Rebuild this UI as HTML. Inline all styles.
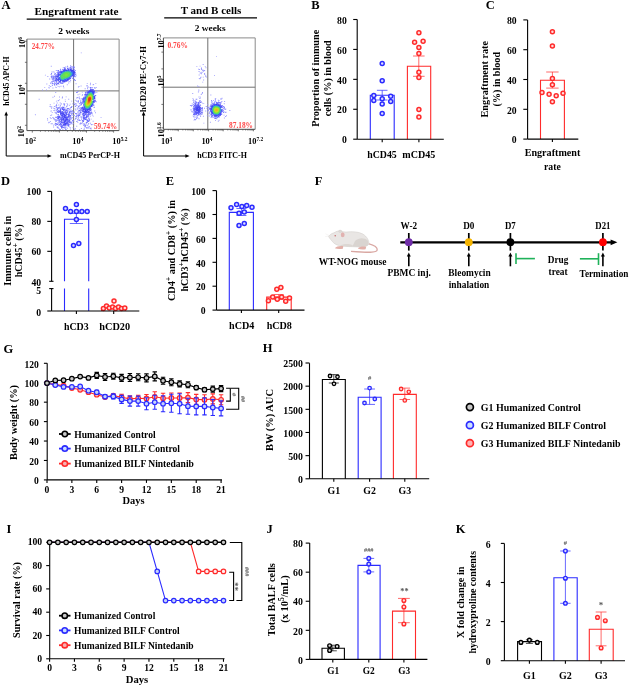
<!DOCTYPE html>
<html><head><meta charset="utf-8"><style>
html,body{margin:0;padding:0;background:#fff;width:629px;height:685px;overflow:hidden}
svg{display:block}
text{font-family:"Liberation Serif",serif;font-weight:bold}
</style></head><body>
<div style="will-change:transform"><svg width="629" height="685" viewBox="0 0 629 685">
<text x="1.5" y="9.4" font-size="12.5">A</text>
<text x="34.5" y="15.4" font-size="10.5" textLength="84" lengthAdjust="spacingAndGlyphs">Engraftment rate</text>
<line x1="26.7" y1="19.2" x2="121.6" y2="19.2" stroke="#000" stroke-width="1.3"/>
<text x="58.3" y="34.2" font-size="9" textLength="31.2" lengthAdjust="spacingAndGlyphs">2 weeks</text>
<path d="M26.9 39.1H119.1V130.6" stroke="#8a8a8a" stroke-width="1" fill="none"/>
<line x1="73.6" y1="39.1" x2="73.6" y2="130.6" stroke="#707070" stroke-width="1"/>
<line x1="26.9" y1="90.9" x2="119.1" y2="90.9" stroke="#707070" stroke-width="1"/>
<path d="M24.9 41.3H26.9M24.9 62.3H26.9M24.9 83.3H26.9M24.9 104.3H26.9M24.9 125.3H26.9M32.3 130.6V132.6M40.46 130.6V131.7M45.23 130.6V131.7M48.62 130.6V131.7M51.24 130.6V131.7M53.39 130.6V131.7M55.2 130.6V131.7M56.77 130.6V131.7M58.16 130.6V131.7M59.4 130.6V132.6M67.56 130.6V131.7M72.33 130.6V131.7M75.72 130.6V131.7M78.34 130.6V131.7M80.49 130.6V131.7M82.3 130.6V131.7M83.87 130.6V131.7M85.26 130.6V131.7M86.5 130.6V132.6M94.66 130.6V131.7M99.43 130.6V131.7M102.82 130.6V131.7M105.44 130.6V131.7M107.59 130.6V131.7M109.4 130.6V131.7M110.97 130.6V131.7M112.36 130.6V131.7M113.6 130.6V132.6" stroke="#555" stroke-width="0.8" fill="none"/>
<path d="M26.9 39.1V130.6H119.1" stroke="#4a4a4a" stroke-width="1" fill="none"/>
<path d="M80.8 52.4h0.9v0.9h-0.9zM34.9 114.3h0.9v0.9h-0.9zM38.7 98.8h0.9v0.9h-0.9zM100.6 116.9h0.9v0.9h-0.9zM50.8 65.8h0.9v0.9h-0.9zM55.3 92.1h0.9v0.9h-0.9zM42.1 89.6h0.9v0.9h-0.9zM44.9 74.7h0.9v0.9h-0.9zM75.6 83.3h0.9v0.9h-0.9zM68.3 98.8h0.9v0.9h-0.9zM65.7 96.4h0.9v0.9h-0.9zM46.4 83.6h0.9v0.9h-0.9zM44.3 87.2h0.9v0.9h-0.9zM46.0 89.6h0.9v0.9h-0.9zM76.3 125.8h0.9v0.9h-0.9zM52.5 96.8h0.9v0.9h-0.9zM54.1 95.8h0.9v0.9h-0.9zM79.2 128.9h0.9v0.9h-0.9zM59.0 96.5h0.9v0.9h-0.9zM54.5 129.1h0.9v0.9h-0.9zM95.4 83.2h0.9v0.9h-0.9zM47.4 76.1h0.9v0.9h-0.9zM92.7 120.8h0.9v0.9h-0.9zM80.6 85.6h0.9v0.9h-0.9zM71.3 100.7h0.9v0.9h-0.9zM95.0 112.3h0.9v0.9h-0.9zM86.8 82.9h0.9v0.9h-0.9zM53.6 102.7h0.9v0.9h-0.9zM80.9 128.1h0.9v0.9h-0.9zM64.8 99.4h0.9v0.9h-0.9zM52.5 87.6h0.9v0.9h-0.9zM66.8 84.3h0.9v0.9h-0.9z" fill="#9494fc"/>
<path d="M72.6 127.3h0.9v0.9h-0.9zM47.1 118.2h0.9v0.9h-0.9zM94.3 110.5h0.9v0.9h-0.9zM90.1 82.8h0.9v0.9h-0.9zM62.1 96.5h0.9v0.9h-0.9zM49.8 104.3h0.9v0.9h-0.9zM81.8 91.7h0.9v0.9h-0.9zM77.9 86.6h0.9v0.9h-0.9zM74.4 129.1h0.9v0.9h-0.9zM61.8 97.6h0.9v0.9h-0.9zM63.4 87.4h0.9v0.9h-0.9zM69.9 128.6h0.9v0.9h-0.9zM74.7 128.1h0.9v0.9h-0.9zM78.7 86.2h0.9v0.9h-0.9zM47.2 119.5h0.9v0.9h-0.9zM84.7 88.3h0.9v0.9h-0.9zM92.8 115.7h0.9v0.9h-0.9zM53.2 126.6h0.9v0.9h-0.9zM83.6 129.1h0.9v0.9h-0.9zM79.4 93.7h0.9v0.9h-0.9zM55.9 100.7h0.9v0.9h-0.9zM48.7 87.7h0.9v0.9h-0.9zM64.9 101.2h0.9v0.9h-0.9zM51.3 114.4h0.9v0.9h-0.9zM92.4 123.9h0.9v0.9h-0.9zM50.4 115.1h0.9v0.9h-0.9zM77.6 94.3h0.9v0.9h-0.9zM97.0 90.1h0.9v0.9h-0.9zM49.8 116.9h0.9v0.9h-0.9zM59.0 99.4h0.9v0.9h-0.9zM93.2 84.2h0.9v0.9h-0.9zM69.7 103.7h0.9v0.9h-0.9zM92.7 84.3h0.9v0.9h-0.9zM49.6 106.0h0.9v0.9h-0.9zM50.5 110.7h0.9v0.9h-0.9zM51.8 112.2h0.9v0.9h-0.9zM76.0 92.1h0.9v0.9h-0.9zM74.8 99.8h0.9v0.9h-0.9zM48.5 86.9h0.9v0.9h-0.9zM89.9 84.3h0.9v0.9h-0.9zM48.8 85.3h0.9v0.9h-0.9zM50.6 118.1h0.9v0.9h-0.9zM49.3 78.6h0.9v0.9h-0.9zM77.8 90.9h0.9v0.9h-0.9zM95.9 86.9h0.9v0.9h-0.9zM50.8 110.6h0.9v0.9h-0.9zM86.0 85.4h0.9v0.9h-0.9zM50.7 123.3h0.9v0.9h-0.9zM59.0 86.4h0.9v0.9h-0.9zM62.9 86.2h0.9v0.9h-0.9zM59.7 102.4h0.9v0.9h-0.9zM90.6 128.5h0.9v0.9h-0.9zM50.3 86.0h0.9v0.9h-0.9zM50.0 121.2h0.9v0.9h-0.9zM51.8 123.3h0.9v0.9h-0.9zM77.4 91.1h0.9v0.9h-0.9zM57.9 100.0h0.9v0.9h-0.9zM60.5 85.8h0.9v0.9h-0.9zM57.7 100.3h0.9v0.9h-0.9zM51.2 108.2h0.9v0.9h-0.9zM91.3 124.4h0.9v0.9h-0.9zM56.7 102.5h0.9v0.9h-0.9zM66.6 103.2h0.9v0.9h-0.9zM76.9 92.1h0.9v0.9h-0.9zM51.5 71.6h0.9v0.9h-0.9zM48.3 122.3h0.9v0.9h-0.9zM55.9 86.9h0.9v0.9h-0.9zM76.3 97.6h0.9v0.9h-0.9zM74.8 108.5h0.9v0.9h-0.9zM50.7 106.5h0.9v0.9h-0.9zM62.9 85.5h0.9v0.9h-0.9zM55.2 86.7h0.9v0.9h-0.9zM51.4 106.5h0.9v0.9h-0.9zM52.8 71.4h0.9v0.9h-0.9zM90.5 127.6h0.9v0.9h-0.9zM86.9 85.3h0.9v0.9h-0.9zM90.8 124.0h0.9v0.9h-0.9zM90.7 118.7h0.9v0.9h-0.9zM75.0 80.0h0.9v0.9h-0.9zM73.1 123.2h0.9v0.9h-0.9zM48.7 122.2h0.9v0.9h-0.9zM48.7 121.8h0.9v0.9h-0.9zM76.9 97.1h0.9v0.9h-0.9zM69.6 127.1h0.9v0.9h-0.9zM60.8 103.3h0.9v0.9h-0.9zM82.0 94.2h0.9v0.9h-0.9zM77.4 122.2h0.9v0.9h-0.9zM68.3 82.5h0.9v0.9h-0.9zM75.5 109.5h0.9v0.9h-0.9zM78.8 96.6h0.9v0.9h-0.9zM72.2 103.4h0.9v0.9h-0.9zM57.7 86.2h0.9v0.9h-0.9zM89.7 128.2h0.9v0.9h-0.9zM53.0 124.7h0.9v0.9h-0.9zM83.8 127.8h0.9v0.9h-0.9zM52.3 117.2h0.9v0.9h-0.9zM64.2 102.9h0.9v0.9h-0.9zM55.8 70.0h0.9v0.9h-0.9zM79.6 123.5h0.9v0.9h-0.9zM60.6 103.8h0.9v0.9h-0.9zM68.9 105.2h0.9v0.9h-0.9z" fill="#8c8cfc"/>
<path d="M67.2 104.3h0.9v0.9h-0.9zM53.8 71.7h0.9v0.9h-0.9zM53.4 110.2h0.9v0.9h-0.9zM53.9 106.0h0.9v0.9h-0.9zM73.8 80.2h0.9v0.9h-0.9zM53.2 107.7h0.9v0.9h-0.9zM89.8 122.8h0.9v0.9h-0.9zM71.5 106.0h0.9v0.9h-0.9zM51.0 73.0h0.9v0.9h-0.9zM59.0 128.8h0.9v0.9h-0.9zM76.2 100.5h0.9v0.9h-0.9zM96.4 91.9h0.9v0.9h-0.9zM56.1 103.9h0.9v0.9h-0.9zM77.7 97.4h0.9v0.9h-0.9zM81.8 95.2h0.9v0.9h-0.9zM59.9 129.0h0.9v0.9h-0.9zM93.9 106.8h0.9v0.9h-0.9zM79.8 123.3h0.9v0.9h-0.9zM95.1 87.7h0.9v0.9h-0.9zM51.9 85.0h0.9v0.9h-0.9zM58.4 104.6h0.9v0.9h-0.9zM63.1 103.6h0.9v0.9h-0.9zM69.7 81.4h0.9v0.9h-0.9zM50.2 82.9h0.9v0.9h-0.9zM65.9 128.9h0.9v0.9h-0.9zM79.0 97.7h0.9v0.9h-0.9zM76.7 121.2h0.9v0.9h-0.9zM76.3 121.0h0.9v0.9h-0.9zM67.0 65.8h0.9v0.9h-0.9zM89.1 126.3h0.9v0.9h-0.9zM50.6 74.0h0.9v0.9h-0.9zM51.2 73.3h0.9v0.9h-0.9zM66.8 128.2h0.9v0.9h-0.9zM76.8 100.8h0.9v0.9h-0.9zM87.3 86.8h0.9v0.9h-0.9zM52.9 117.6h0.9v0.9h-0.9zM87.7 86.5h0.9v0.9h-0.9zM74.7 119.2h0.9v0.9h-0.9zM93.6 107.1h0.9v0.9h-0.9zM73.6 102.4h0.9v0.9h-0.9zM58.3 128.2h0.9v0.9h-0.9zM91.8 114.6h0.9v0.9h-0.9zM73.3 120.8h0.9v0.9h-0.9zM54.0 108.3h0.9v0.9h-0.9zM70.9 106.5h0.9v0.9h-0.9zM94.4 87.2h0.9v0.9h-0.9zM65.1 129.0h0.9v0.9h-0.9zM71.1 107.0h0.9v0.9h-0.9zM77.7 102.3h0.9v0.9h-0.9zM64.1 104.0h0.9v0.9h-0.9zM73.7 102.6h0.9v0.9h-0.9zM57.2 127.3h0.9v0.9h-0.9zM66.7 105.4h0.9v0.9h-0.9zM78.1 100.2h0.9v0.9h-0.9zM62.4 128.9h0.9v0.9h-0.9zM79.5 98.5h0.9v0.9h-0.9zM88.3 127.5h0.9v0.9h-0.9zM74.0 111.7h0.9v0.9h-0.9zM70.2 65.3h0.9v0.9h-0.9zM75.6 102.9h0.9v0.9h-0.9zM80.2 122.6h0.9v0.9h-0.9zM75.2 106.1h0.9v0.9h-0.9zM56.3 104.9h0.9v0.9h-0.9zM77.0 108.7h0.9v0.9h-0.9zM76.8 107.5h0.9v0.9h-0.9zM50.5 82.2h0.9v0.9h-0.9zM60.1 105.3h0.9v0.9h-0.9zM87.1 88.2h0.9v0.9h-0.9zM64.2 104.5h0.9v0.9h-0.9zM78.1 101.1h0.9v0.9h-0.9zM56.6 126.5h0.9v0.9h-0.9zM71.7 123.6h0.9v0.9h-0.9zM81.7 123.4h0.9v0.9h-0.9zM74.2 79.0h0.9v0.9h-0.9zM66.3 105.8h0.9v0.9h-0.9zM75.0 113.1h0.9v0.9h-0.9zM55.4 105.6h0.9v0.9h-0.9zM53.6 118.1h0.9v0.9h-0.9zM54.5 110.3h0.9v0.9h-0.9zM75.0 117.7h0.9v0.9h-0.9zM54.7 112.1h0.9v0.9h-0.9zM74.7 105.5h0.9v0.9h-0.9zM80.9 122.8h0.9v0.9h-0.9zM87.7 124.2h0.9v0.9h-0.9zM75.3 118.2h0.9v0.9h-0.9zM74.7 105.5h0.9v0.9h-0.9zM76.6 105.2h0.9v0.9h-0.9zM56.0 105.3h0.9v0.9h-0.9zM73.8 115.2h0.9v0.9h-0.9zM72.7 120.0h0.9v0.9h-0.9zM79.7 120.1h0.9v0.9h-0.9zM73.9 79.1h0.9v0.9h-0.9zM86.6 127.6h0.9v0.9h-0.9zM53.7 118.9h0.9v0.9h-0.9zM94.0 87.6h0.9v0.9h-0.9zM73.8 104.0h0.9v0.9h-0.9zM79.0 120.0h0.9v0.9h-0.9zM69.9 107.2h0.9v0.9h-0.9zM87.3 127.4h0.9v0.9h-0.9zM75.9 104.5h0.9v0.9h-0.9zM87.8 126.4h0.9v0.9h-0.9zM57.7 126.9h0.9v0.9h-0.9zM74.0 66.7h0.9v0.9h-0.9zM87.3 124.9h0.9v0.9h-0.9zM95.7 101.3h0.9v0.9h-0.9zM73.3 115.0h0.9v0.9h-0.9zM73.5 79.0h0.9v0.9h-0.9zM74.8 103.5h0.9v0.9h-0.9zM86.0 127.4h0.9v0.9h-0.9z" fill="#8484fc"/>
<path d="M73.4 111.6h0.9v0.9h-0.9zM57.4 126.6h0.9v0.9h-0.9zM83.4 125.0h0.9v0.9h-0.9zM77.2 111.7h0.9v0.9h-0.9zM66.2 106.4h0.9v0.9h-0.9zM74.2 104.2h0.9v0.9h-0.9zM72.2 117.2h0.9v0.9h-0.9zM77.9 105.7h0.9v0.9h-0.9zM86.3 127.3h0.9v0.9h-0.9zM77.6 119.9h0.9v0.9h-0.9zM83.1 123.5h0.9v0.9h-0.9zM54.9 116.7h0.9v0.9h-0.9zM77.8 119.9h0.9v0.9h-0.9zM91.9 112.7h0.9v0.9h-0.9zM70.2 80.2h0.9v0.9h-0.9zM78.1 106.1h0.9v0.9h-0.9zM76.4 113.0h0.9v0.9h-0.9zM62.7 67.4h0.9v0.9h-0.9zM89.9 115.7h0.9v0.9h-0.9zM88.1 122.9h0.9v0.9h-0.9zM65.4 66.6h0.9v0.9h-0.9zM75.8 113.5h0.9v0.9h-0.9zM60.2 68.8h0.9v0.9h-0.9zM63.8 105.4h0.9v0.9h-0.9zM78.7 118.9h0.9v0.9h-0.9zM84.8 126.6h0.9v0.9h-0.9zM69.9 107.7h0.9v0.9h-0.9zM72.1 120.0h0.9v0.9h-0.9zM55.7 106.6h0.9v0.9h-0.9zM54.3 84.8h0.9v0.9h-0.9zM77.3 119.0h0.9v0.9h-0.9zM55.5 112.8h0.9v0.9h-0.9zM84.1 125.6h0.9v0.9h-0.9zM73.6 66.7h0.9v0.9h-0.9zM72.1 121.4h0.9v0.9h-0.9zM75.6 75.3h0.9v0.9h-0.9zM55.6 112.8h0.9v0.9h-0.9zM89.7 86.9h0.9v0.9h-0.9zM54.5 119.5h0.9v0.9h-0.9zM67.3 66.5h0.9v0.9h-0.9zM64.7 128.1h0.9v0.9h-0.9zM76.2 117.6h0.9v0.9h-0.9zM75.4 116.1h0.9v0.9h-0.9zM54.4 73.3h0.9v0.9h-0.9zM56.0 113.4h0.9v0.9h-0.9zM51.7 83.3h0.9v0.9h-0.9zM77.9 110.6h0.9v0.9h-0.9zM84.1 123.4h0.9v0.9h-0.9zM79.1 105.5h0.9v0.9h-0.9zM72.1 110.2h0.9v0.9h-0.9zM51.3 81.3h0.9v0.9h-0.9zM50.7 76.3h0.9v0.9h-0.9zM89.8 87.0h0.9v0.9h-0.9zM79.3 103.0h0.9v0.9h-0.9zM78.4 107.3h0.9v0.9h-0.9zM82.2 121.8h0.9v0.9h-0.9zM78.1 117.7h0.9v0.9h-0.9zM89.2 120.3h0.9v0.9h-0.9zM72.1 110.5h0.9v0.9h-0.9zM59.5 106.4h0.9v0.9h-0.9zM90.7 87.0h0.9v0.9h-0.9zM80.0 100.4h0.9v0.9h-0.9zM79.7 116.7h0.9v0.9h-0.9zM84.3 124.2h0.9v0.9h-0.9zM55.4 125.0h0.9v0.9h-0.9zM71.5 118.4h0.9v0.9h-0.9zM77.8 117.6h0.9v0.9h-0.9zM84.9 125.6h0.9v0.9h-0.9zM72.7 66.3h0.9v0.9h-0.9zM63.8 67.1h0.9v0.9h-0.9zM57.6 70.0h0.9v0.9h-0.9zM54.8 119.1h0.9v0.9h-0.9zM54.6 124.0h0.9v0.9h-0.9zM51.2 75.5h0.9v0.9h-0.9zM54.7 124.3h0.9v0.9h-0.9zM79.7 104.5h0.9v0.9h-0.9zM72.7 112.0h0.9v0.9h-0.9zM68.0 108.0h0.9v0.9h-0.9zM81.3 119.3h0.9v0.9h-0.9zM67.9 126.2h0.9v0.9h-0.9zM71.0 123.2h0.9v0.9h-0.9zM55.6 108.6h0.9v0.9h-0.9zM74.9 76.3h0.9v0.9h-0.9zM79.8 104.8h0.9v0.9h-0.9zM85.6 124.5h0.9v0.9h-0.9zM89.1 119.3h0.9v0.9h-0.9zM92.2 87.3h0.9v0.9h-0.9zM85.1 125.3h0.9v0.9h-0.9zM56.1 107.2h0.9v0.9h-0.9zM85.8 122.9h0.9v0.9h-0.9zM61.2 127.9h0.9v0.9h-0.9zM80.1 100.6h0.9v0.9h-0.9zM85.7 122.7h0.9v0.9h-0.9zM85.3 124.8h0.9v0.9h-0.9zM54.2 84.1h0.9v0.9h-0.9zM56.4 84.5h0.9v0.9h-0.9zM64.5 127.8h0.9v0.9h-0.9zM76.0 115.9h0.9v0.9h-0.9zM52.5 83.3h0.9v0.9h-0.9zM51.9 82.6h0.9v0.9h-0.9zM67.5 108.1h0.9v0.9h-0.9zM68.8 108.5h0.9v0.9h-0.9zM54.8 122.8h0.9v0.9h-0.9zM66.9 108.0h0.9v0.9h-0.9z" fill="#7c7cfc"/>
<path d="M55.3 120.2h0.9v0.9h-0.9zM55.4 120.6h0.9v0.9h-0.9zM68.7 125.6h0.9v0.9h-0.9zM53.9 83.9h0.9v0.9h-0.9zM55.5 121.0h0.9v0.9h-0.9zM68.6 80.9h0.9v0.9h-0.9zM88.7 117.7h0.9v0.9h-0.9zM78.5 109.7h0.9v0.9h-0.9zM51.4 78.4h0.9v0.9h-0.9zM70.5 109.4h0.9v0.9h-0.9zM51.0 76.8h0.9v0.9h-0.9zM51.1 76.3h0.9v0.9h-0.9zM76.2 115.6h0.9v0.9h-0.9zM78.8 107.9h0.9v0.9h-0.9zM83.1 121.1h0.9v0.9h-0.9zM55.6 117.0h0.9v0.9h-0.9zM82.2 120.8h0.9v0.9h-0.9zM70.8 66.2h0.9v0.9h-0.9zM66.4 126.7h0.9v0.9h-0.9zM88.8 118.8h0.9v0.9h-0.9zM72.4 66.5h0.9v0.9h-0.9zM55.0 73.3h0.9v0.9h-0.9zM80.7 116.2h0.9v0.9h-0.9zM95.3 91.7h0.9v0.9h-0.9zM78.5 111.9h0.9v0.9h-0.9zM85.9 122.1h0.9v0.9h-0.9zM81.2 117.6h0.9v0.9h-0.9zM91.2 112.9h0.9v0.9h-0.9zM71.2 122.2h0.9v0.9h-0.9zM52.5 82.9h0.9v0.9h-0.9zM76.6 114.6h0.9v0.9h-0.9zM78.7 110.5h0.9v0.9h-0.9zM58.5 83.7h0.9v0.9h-0.9zM73.3 67.1h0.9v0.9h-0.9zM95.2 100.9h0.9v0.9h-0.9zM55.1 123.2h0.9v0.9h-0.9zM83.0 120.8h0.9v0.9h-0.9zM56.1 84.1h0.9v0.9h-0.9zM55.1 123.1h0.9v0.9h-0.9zM62.5 106.4h0.9v0.9h-0.9zM57.5 70.5h0.9v0.9h-0.9zM77.5 116.4h0.9v0.9h-0.9zM76.6 115.1h0.9v0.9h-0.9zM58.1 70.1h0.9v0.9h-0.9zM80.2 101.8h0.9v0.9h-0.9zM70.5 109.8h0.9v0.9h-0.9zM82.0 119.9h0.9v0.9h-0.9zM71.8 114.7h0.9v0.9h-0.9zM80.2 102.3h0.9v0.9h-0.9zM58.0 70.2h0.9v0.9h-0.9zM73.2 77.7h0.9v0.9h-0.9zM81.3 117.2h0.9v0.9h-0.9zM71.2 121.7h0.9v0.9h-0.9zM82.6 120.5h0.9v0.9h-0.9zM68.7 109.2h0.9v0.9h-0.9zM52.3 81.2h0.9v0.9h-0.9zM78.2 113.6h0.9v0.9h-0.9zM59.5 107.2h0.9v0.9h-0.9zM64.6 107.4h0.9v0.9h-0.9zM70.6 66.4h0.9v0.9h-0.9zM79.3 115.1h0.9v0.9h-0.9zM71.7 111.3h0.9v0.9h-0.9zM58.2 124.7h0.9v0.9h-0.9zM71.7 114.6h0.9v0.9h-0.9zM78.9 113.2h0.9v0.9h-0.9zM91.2 112.1h0.9v0.9h-0.9zM52.4 80.5h0.9v0.9h-0.9zM69.5 124.2h0.9v0.9h-0.9zM52.1 78.9h0.9v0.9h-0.9zM57.4 107.3h0.9v0.9h-0.9zM57.5 114.0h0.9v0.9h-0.9zM88.2 117.4h0.9v0.9h-0.9zM81.6 98.0h0.9v0.9h-0.9zM70.8 118.4h0.9v0.9h-0.9zM57.8 107.3h0.9v0.9h-0.9zM79.1 115.0h0.9v0.9h-0.9zM78.0 115.8h0.9v0.9h-0.9zM56.3 120.4h0.9v0.9h-0.9zM52.5 80.4h0.9v0.9h-0.9zM71.8 113.1h0.9v0.9h-0.9zM52.6 81.0h0.9v0.9h-0.9zM79.6 113.8h0.9v0.9h-0.9zM85.9 90.7h0.9v0.9h-0.9zM79.3 114.3h0.9v0.9h-0.9zM86.8 121.8h0.9v0.9h-0.9zM54.2 74.3h0.9v0.9h-0.9zM78.8 115.2h0.9v0.9h-0.9zM64.6 127.1h0.9v0.9h-0.9zM57.3 124.1h0.9v0.9h-0.9zM61.3 83.1h0.9v0.9h-0.9zM80.6 103.5h0.9v0.9h-0.9zM89.9 87.7h0.9v0.9h-0.9zM57.3 122.5h0.9v0.9h-0.9zM56.4 124.0h0.9v0.9h-0.9zM88.0 121.2h0.9v0.9h-0.9zM79.1 110.0h0.9v0.9h-0.9zM61.3 107.0h0.9v0.9h-0.9zM84.1 93.9h0.9v0.9h-0.9zM77.7 114.8h0.9v0.9h-0.9zM75.5 73.7h0.9v0.9h-0.9zM59.9 69.6h0.9v0.9h-0.9zM82.8 120.1h0.9v0.9h-0.9zM54.6 83.2h0.9v0.9h-0.9zM77.9 114.8h0.9v0.9h-0.9zM88.3 120.5h0.9v0.9h-0.9zM56.4 123.9h0.9v0.9h-0.9zM52.5 75.6h0.9v0.9h-0.9zM75.1 70.2h0.9v0.9h-0.9zM56.0 123.3h0.9v0.9h-0.9zM62.2 106.8h0.9v0.9h-0.9zM51.7 76.6h0.9v0.9h-0.9zM56.2 109.9h0.9v0.9h-0.9zM58.8 107.5h0.9v0.9h-0.9zM66.4 108.8h0.9v0.9h-0.9zM85.2 91.7h0.9v0.9h-0.9zM93.6 104.7h0.9v0.9h-0.9zM71.4 114.7h0.9v0.9h-0.9z" fill="#7474fc"/>
<path d="M56.4 123.4h0.9v0.9h-0.9zM56.4 123.5h0.9v0.9h-0.9zM56.5 112.0h0.9v0.9h-0.9zM64.4 67.6h0.9v0.9h-0.9zM80.9 104.2h0.9v0.9h-0.9zM86.7 121.5h0.9v0.9h-0.9zM54.0 82.5h0.9v0.9h-0.9zM70.5 66.7h0.9v0.9h-0.9zM63.4 107.0h0.9v0.9h-0.9zM56.7 72.1h0.9v0.9h-0.9zM55.8 83.5h0.9v0.9h-0.9zM62.4 127.3h0.9v0.9h-0.9zM57.4 107.8h0.9v0.9h-0.9zM54.3 82.6h0.9v0.9h-0.9zM58.1 122.5h0.9v0.9h-0.9zM61.0 127.1h0.9v0.9h-0.9zM84.9 92.3h0.9v0.9h-0.9zM88.0 118.4h0.9v0.9h-0.9zM58.4 107.6h0.9v0.9h-0.9zM59.0 124.7h0.9v0.9h-0.9zM80.1 112.5h0.9v0.9h-0.9zM56.6 119.9h0.9v0.9h-0.9zM53.0 79.6h0.9v0.9h-0.9zM72.0 77.9h0.9v0.9h-0.9zM61.9 82.9h0.9v0.9h-0.9zM81.1 104.3h0.9v0.9h-0.9zM80.0 112.1h0.9v0.9h-0.9zM53.6 81.1h0.9v0.9h-0.9zM73.3 67.8h0.9v0.9h-0.9zM56.9 83.4h0.9v0.9h-0.9zM56.7 116.2h0.9v0.9h-0.9zM62.1 82.9h0.9v0.9h-0.9zM58.0 114.2h0.9v0.9h-0.9zM67.2 109.5h0.9v0.9h-0.9zM52.8 75.7h0.9v0.9h-0.9zM70.7 111.0h0.9v0.9h-0.9zM63.4 127.1h0.9v0.9h-0.9zM57.5 83.3h0.9v0.9h-0.9zM56.7 109.2h0.9v0.9h-0.9zM56.3 116.9h0.9v0.9h-0.9zM62.3 82.8h0.9v0.9h-0.9zM69.3 123.9h0.9v0.9h-0.9zM68.5 110.2h0.9v0.9h-0.9zM87.4 121.1h0.9v0.9h-0.9zM79.8 111.2h0.9v0.9h-0.9zM73.1 77.2h0.9v0.9h-0.9zM71.2 113.2h0.9v0.9h-0.9zM57.1 108.5h0.9v0.9h-0.9zM71.2 113.3h0.9v0.9h-0.9zM56.4 119.2h0.9v0.9h-0.9zM62.8 107.1h0.9v0.9h-0.9zM57.2 108.4h0.9v0.9h-0.9zM70.9 111.5h0.9v0.9h-0.9zM52.4 78.0h0.9v0.9h-0.9zM70.3 110.8h0.9v0.9h-0.9zM87.8 120.5h0.9v0.9h-0.9zM80.9 102.8h0.9v0.9h-0.9zM70.1 110.7h0.9v0.9h-0.9zM95.1 99.8h0.9v0.9h-0.9zM95.3 95.1h0.9v0.9h-0.9zM68.1 125.1h0.9v0.9h-0.9zM80.4 112.1h0.9v0.9h-0.9zM58.0 114.7h0.9v0.9h-0.9zM87.6 120.8h0.9v0.9h-0.9zM71.1 113.7h0.9v0.9h-0.9zM55.5 82.7h0.9v0.9h-0.9zM56.7 111.5h0.9v0.9h-0.9zM87.5 89.7h0.9v0.9h-0.9zM60.0 125.6h0.9v0.9h-0.9zM59.1 124.0h0.9v0.9h-0.9zM58.1 83.0h0.9v0.9h-0.9zM83.5 119.6h0.9v0.9h-0.9zM70.5 117.1h0.9v0.9h-0.9zM90.4 113.2h0.9v0.9h-0.9zM90.7 111.7h0.9v0.9h-0.9zM65.2 126.4h0.9v0.9h-0.9zM57.1 83.0h0.9v0.9h-0.9zM95.2 95.3h0.9v0.9h-0.9zM70.3 117.6h0.9v0.9h-0.9zM61.2 126.6h0.9v0.9h-0.9zM53.0 78.3h0.9v0.9h-0.9zM57.4 115.8h0.9v0.9h-0.9zM62.2 126.8h0.9v0.9h-0.9zM56.8 110.7h0.9v0.9h-0.9zM90.0 113.5h0.9v0.9h-0.9zM69.7 122.9h0.9v0.9h-0.9zM87.5 120.1h0.9v0.9h-0.9zM60.2 82.6h0.9v0.9h-0.9zM61.1 126.5h0.9v0.9h-0.9zM68.7 111.0h0.9v0.9h-0.9zM56.8 116.8h0.9v0.9h-0.9zM62.3 107.5h0.9v0.9h-0.9zM87.7 116.1h0.9v0.9h-0.9zM88.3 115.3h0.9v0.9h-0.9zM70.3 120.8h0.9v0.9h-0.9zM52.7 77.5h0.9v0.9h-0.9zM52.6 77.1h0.9v0.9h-0.9zM52.8 76.5h0.9v0.9h-0.9z" fill="#6c6cfc"/>
<path d="M66.6 110.1h0.9v0.9h-0.9zM57.3 109.2h0.9v0.9h-0.9zM59.9 108.3h0.9v0.9h-0.9zM58.6 121.0h0.9v0.9h-0.9zM67.7 125.2h0.9v0.9h-0.9zM87.0 120.1h0.9v0.9h-0.9zM70.4 116.4h0.9v0.9h-0.9zM57.7 119.9h0.9v0.9h-0.9zM60.7 126.0h0.9v0.9h-0.9zM80.1 110.3h0.9v0.9h-0.9zM64.8 108.7h0.9v0.9h-0.9zM63.0 107.6h0.9v0.9h-0.9zM57.0 110.9h0.9v0.9h-0.9zM79.9 108.9h0.9v0.9h-0.9zM69.7 111.6h0.9v0.9h-0.9zM69.0 111.4h0.9v0.9h-0.9zM64.3 68.0h0.9v0.9h-0.9zM81.3 101.8h0.9v0.9h-0.9zM54.2 79.8h0.9v0.9h-0.9zM90.6 110.6h0.9v0.9h-0.9zM57.9 82.6h0.9v0.9h-0.9zM60.9 108.2h0.9v0.9h-0.9zM89.4 114.0h0.9v0.9h-0.9zM61.7 126.5h0.9v0.9h-0.9zM62.7 82.4h0.9v0.9h-0.9zM58.2 82.6h0.9v0.9h-0.9zM59.6 123.2h0.9v0.9h-0.9zM81.7 99.6h0.9v0.9h-0.9zM69.8 122.2h0.9v0.9h-0.9zM59.3 121.9h0.9v0.9h-0.9zM86.2 119.7h0.9v0.9h-0.9zM63.5 126.5h0.9v0.9h-0.9zM59.4 122.2h0.9v0.9h-0.9zM86.1 119.6h0.9v0.9h-0.9zM69.9 122.0h0.9v0.9h-0.9zM65.6 109.6h0.9v0.9h-0.9zM67.1 110.9h0.9v0.9h-0.9zM72.4 67.7h0.9v0.9h-0.9zM80.5 107.3h0.9v0.9h-0.9zM57.6 71.8h0.9v0.9h-0.9zM80.9 111.7h0.9v0.9h-0.9zM57.5 111.7h0.9v0.9h-0.9zM66.4 110.4h0.9v0.9h-0.9zM85.4 92.3h0.9v0.9h-0.9zM69.5 67.4h0.9v0.9h-0.9zM70.4 67.3h0.9v0.9h-0.9zM83.1 118.5h0.9v0.9h-0.9zM86.7 118.9h0.9v0.9h-0.9zM56.9 117.7h0.9v0.9h-0.9zM86.2 119.3h0.9v0.9h-0.9zM54.9 74.7h0.9v0.9h-0.9zM90.2 112.5h0.9v0.9h-0.9zM57.0 118.3h0.9v0.9h-0.9zM60.1 124.4h0.9v0.9h-0.9zM86.2 119.3h0.9v0.9h-0.9zM66.2 81.1h0.9v0.9h-0.9zM62.4 69.0h0.9v0.9h-0.9zM62.1 108.0h0.9v0.9h-0.9zM75.0 73.9h0.9v0.9h-0.9zM85.4 92.4h0.9v0.9h-0.9zM72.7 76.9h0.9v0.9h-0.9zM81.8 113.6h0.9v0.9h-0.9zM74.0 75.8h0.9v0.9h-0.9zM60.0 82.3h0.9v0.9h-0.9zM58.1 119.7h0.9v0.9h-0.9zM69.7 118.9h0.9v0.9h-0.9zM69.3 112.3h0.9v0.9h-0.9zM63.9 108.5h0.9v0.9h-0.9zM53.8 78.3h0.9v0.9h-0.9zM56.1 81.6h0.9v0.9h-0.9zM56.4 81.9h0.9v0.9h-0.9zM85.1 119.1h0.9v0.9h-0.9zM68.9 112.1h0.9v0.9h-0.9zM90.2 88.4h0.9v0.9h-0.9zM69.6 112.8h0.9v0.9h-0.9zM61.4 125.9h0.9v0.9h-0.9zM60.3 124.0h0.9v0.9h-0.9zM80.5 107.7h0.9v0.9h-0.9zM57.6 111.4h0.9v0.9h-0.9zM57.9 116.1h0.9v0.9h-0.9zM90.8 108.9h0.9v0.9h-0.9zM53.5 77.1h0.9v0.9h-0.9zM55.8 81.2h0.9v0.9h-0.9zM60.7 82.3h0.9v0.9h-0.9zM80.7 107.4h0.9v0.9h-0.9zM92.8 105.2h0.9v0.9h-0.9zM84.7 118.9h0.9v0.9h-0.9zM64.2 109.0h0.9v0.9h-0.9zM65.7 110.4h0.9v0.9h-0.9zM58.4 71.3h0.9v0.9h-0.9zM60.3 123.1h0.9v0.9h-0.9zM82.8 117.5h0.9v0.9h-0.9zM60.6 124.3h0.9v0.9h-0.9zM58.1 112.0h0.9v0.9h-0.9z" fill="#6464fc"/>
<path d="M64.4 81.7h0.9v0.9h-0.9zM87.2 115.7h0.9v0.9h-0.9zM60.5 123.8h0.9v0.9h-0.9zM53.8 76.4h0.9v0.9h-0.9zM55.6 80.9h0.9v0.9h-0.9zM57.7 110.3h0.9v0.9h-0.9zM83.6 118.5h0.9v0.9h-0.9zM94.1 90.6h0.9v0.9h-0.9zM86.7 116.6h0.9v0.9h-0.9zM82.6 116.4h0.9v0.9h-0.9zM57.9 71.9h0.9v0.9h-0.9zM84.1 118.7h0.9v0.9h-0.9zM88.2 114.5h0.9v0.9h-0.9zM60.9 124.9h0.9v0.9h-0.9zM59.8 109.1h0.9v0.9h-0.9zM70.1 115.3h0.9v0.9h-0.9zM55.0 80.1h0.9v0.9h-0.9zM84.8 94.1h0.9v0.9h-0.9zM59.3 120.6h0.9v0.9h-0.9zM67.1 68.0h0.9v0.9h-0.9zM69.4 118.6h0.9v0.9h-0.9zM68.6 67.8h0.9v0.9h-0.9zM68.7 112.6h0.9v0.9h-0.9zM67.1 111.8h0.9v0.9h-0.9zM80.8 107.6h0.9v0.9h-0.9zM57.7 116.8h0.9v0.9h-0.9zM83.1 117.6h0.9v0.9h-0.9zM58.3 116.2h0.9v0.9h-0.9zM62.0 108.7h0.9v0.9h-0.9zM59.8 121.1h0.9v0.9h-0.9zM60.0 109.2h0.9v0.9h-0.9zM94.5 100.5h0.9v0.9h-0.9zM86.3 117.2h0.9v0.9h-0.9zM86.5 116.6h0.9v0.9h-0.9zM69.3 117.8h0.9v0.9h-0.9zM69.9 67.7h0.9v0.9h-0.9zM82.4 114.3h0.9v0.9h-0.9zM68.0 124.1h0.9v0.9h-0.9zM67.3 124.7h0.9v0.9h-0.9zM62.7 108.8h0.9v0.9h-0.9zM90.4 109.7h0.9v0.9h-0.9zM59.0 81.9h0.9v0.9h-0.9zM64.9 110.3h0.9v0.9h-0.9zM60.7 122.5h0.9v0.9h-0.9zM92.8 89.1h0.9v0.9h-0.9zM58.6 109.9h0.9v0.9h-0.9zM80.6 108.4h0.9v0.9h-0.9zM59.3 120.2h0.9v0.9h-0.9zM73.5 69.1h0.9v0.9h-0.9zM69.2 122.0h0.9v0.9h-0.9zM58.1 110.9h0.9v0.9h-0.9zM63.3 109.1h0.9v0.9h-0.9zM67.5 124.5h0.9v0.9h-0.9zM82.7 115.4h0.9v0.9h-0.9zM85.6 118.1h0.9v0.9h-0.9zM58.1 118.6h0.9v0.9h-0.9zM62.1 125.5h0.9v0.9h-0.9zM86.4 116.2h0.9v0.9h-0.9zM60.6 121.8h0.9v0.9h-0.9zM59.0 115.9h0.9v0.9h-0.9zM69.8 114.9h0.9v0.9h-0.9zM64.9 68.4h0.9v0.9h-0.9zM62.1 109.2h0.9v0.9h-0.9zM92.5 88.9h0.9v0.9h-0.9zM63.4 109.3h0.9v0.9h-0.9zM74.9 72.4h0.9v0.9h-0.9zM65.4 111.1h0.9v0.9h-0.9zM59.1 119.7h0.9v0.9h-0.9zM61.3 124.4h0.9v0.9h-0.9zM83.0 116.6h0.9v0.9h-0.9zM94.1 101.6h0.9v0.9h-0.9zM61.4 109.4h0.9v0.9h-0.9zM60.2 109.5h0.9v0.9h-0.9zM58.0 117.3h0.9v0.9h-0.9zM54.5 75.9h0.9v0.9h-0.9zM58.1 118.3h0.9v0.9h-0.9zM58.3 118.6h0.9v0.9h-0.9zM80.8 109.4h0.9v0.9h-0.9zM89.6 112.3h0.9v0.9h-0.9zM67.2 68.1h0.9v0.9h-0.9zM58.0 117.9h0.9v0.9h-0.9zM64.4 110.4h0.9v0.9h-0.9zM68.4 113.2h0.9v0.9h-0.9zM69.6 115.7h0.9v0.9h-0.9zM73.9 69.7h0.9v0.9h-0.9zM69.4 116.6h0.9v0.9h-0.9zM88.8 113.6h0.9v0.9h-0.9zM83.6 96.7h0.9v0.9h-0.9zM63.1 109.5h0.9v0.9h-0.9zM58.6 116.6h0.9v0.9h-0.9zM85.9 116.7h0.9v0.9h-0.9zM94.0 91.0h0.9v0.9h-0.9zM69.2 113.9h0.9v0.9h-0.9zM88.0 114.2h0.9v0.9h-0.9zM66.2 111.9h0.9v0.9h-0.9zM69.2 120.0h0.9v0.9h-0.9zM94.2 91.8h0.9v0.9h-0.9zM58.1 117.7h0.9v0.9h-0.9zM64.5 110.6h0.9v0.9h-0.9zM56.0 74.6h0.9v0.9h-0.9zM59.5 115.5h0.9v0.9h-0.9zM82.3 99.3h0.9v0.9h-0.9zM89.4 112.7h0.9v0.9h-0.9zM82.5 113.7h0.9v0.9h-0.9zM69.2 121.2h0.9v0.9h-0.9zM86.0 115.9h0.9v0.9h-0.9zM82.6 98.5h0.9v0.9h-0.9zM84.1 117.8h0.9v0.9h-0.9zM69.0 118.9h0.9v0.9h-0.9zM87.3 90.7h0.9v0.9h-0.9zM63.3 110.0h0.9v0.9h-0.9zM63.4 81.7h0.9v0.9h-0.9zM85.4 93.5h0.9v0.9h-0.9zM82.8 98.2h0.9v0.9h-0.9zM88.4 113.8h0.9v0.9h-0.9zM83.0 115.1h0.9v0.9h-0.9zM65.0 81.2h0.9v0.9h-0.9zM84.6 95.1h0.9v0.9h-0.9zM94.3 92.8h0.9v0.9h-0.9zM85.2 94.0h0.9v0.9h-0.9zM83.3 116.6h0.9v0.9h-0.9zM82.7 114.1h0.9v0.9h-0.9zM86.2 115.3h0.9v0.9h-0.9zM58.6 81.5h0.9v0.9h-0.9zM69.4 115.2h0.9v0.9h-0.9zM64.1 110.7h0.9v0.9h-0.9zM90.1 110.0h0.9v0.9h-0.9zM63.1 110.1h0.9v0.9h-0.9zM82.9 114.6h0.9v0.9h-0.9zM84.6 117.7h0.9v0.9h-0.9zM84.9 117.7h0.9v0.9h-0.9zM83.1 97.6h0.9v0.9h-0.9zM85.3 117.2h0.9v0.9h-0.9zM87.4 114.3h0.9v0.9h-0.9zM66.1 112.2h0.9v0.9h-0.9zM62.5 125.1h0.9v0.9h-0.9zM60.1 110.0h0.9v0.9h-0.9zM86.5 114.8h0.9v0.9h-0.9zM57.0 73.8h0.9v0.9h-0.9zM58.8 110.9h0.9v0.9h-0.9zM68.3 113.7h0.9v0.9h-0.9zM94.7 95.3h0.9v0.9h-0.9zM66.9 80.4h0.9v0.9h-0.9zM74.7 72.2h0.9v0.9h-0.9zM61.4 122.1h0.9v0.9h-0.9zM81.4 107.6h0.9v0.9h-0.9zM55.6 79.8h0.9v0.9h-0.9zM81.1 109.5h0.9v0.9h-0.9zM59.1 117.0h0.9v0.9h-0.9zM59.0 71.5h0.9v0.9h-0.9zM69.0 120.4h0.9v0.9h-0.9zM86.4 91.9h0.9v0.9h-0.9zM92.2 105.6h0.9v0.9h-0.9zM94.6 95.0h0.9v0.9h-0.9zM64.1 125.4h0.9v0.9h-0.9zM83.7 116.7h0.9v0.9h-0.9zM59.3 116.8h0.9v0.9h-0.9zM69.0 120.4h0.9v0.9h-0.9zM84.5 117.3h0.9v0.9h-0.9zM55.1 78.8h0.9v0.9h-0.9zM94.3 99.9h0.9v0.9h-0.9zM85.6 93.3h0.9v0.9h-0.9zM86.6 91.7h0.9v0.9h-0.9zM86.4 114.5h0.9v0.9h-0.9zM87.2 114.2h0.9v0.9h-0.9zM55.7 79.8h0.9v0.9h-0.9zM59.0 111.5h0.9v0.9h-0.9zM68.2 122.8h0.9v0.9h-0.9zM91.2 88.8h0.9v0.9h-0.9zM83.5 115.3h0.9v0.9h-0.9zM73.6 75.5h0.9v0.9h-0.9zM59.5 118.8h0.9v0.9h-0.9zM84.1 116.7h0.9v0.9h-0.9zM67.4 80.1h0.9v0.9h-0.9zM83.6 115.2h0.9v0.9h-0.9zM64.4 68.8h0.9v0.9h-0.9zM66.7 124.5h0.9v0.9h-0.9zM68.2 114.1h0.9v0.9h-0.9zM70.2 78.0h0.9v0.9h-0.9zM82.7 113.1h0.9v0.9h-0.9zM59.4 118.4h0.9v0.9h-0.9zM92.4 89.2h0.9v0.9h-0.9zM59.6 110.4h0.9v0.9h-0.9zM69.7 78.4h0.9v0.9h-0.9zM58.7 81.3h0.9v0.9h-0.9zM84.4 116.6h0.9v0.9h-0.9zM59.7 110.4h0.9v0.9h-0.9zM62.7 124.8h0.9v0.9h-0.9zM84.3 116.5h0.9v0.9h-0.9zM57.6 73.2h0.9v0.9h-0.9z" fill="#5c5cfc"/>
<path d="M55.5 75.5h0.9v0.9h-0.9zM70.5 68.2h0.9v0.9h-0.9zM67.5 113.8h0.9v0.9h-0.9zM64.4 125.2h0.9v0.9h-0.9zM68.6 114.7h0.9v0.9h-0.9zM68.8 120.4h0.9v0.9h-0.9zM68.6 116.6h0.9v0.9h-0.9zM57.8 73.0h0.9v0.9h-0.9zM67.2 113.7h0.9v0.9h-0.9zM93.2 89.9h0.9v0.9h-0.9zM82.9 98.3h0.9v0.9h-0.9zM57.7 73.2h0.9v0.9h-0.9zM66.2 112.9h0.9v0.9h-0.9zM84.2 115.2h0.9v0.9h-0.9zM66.0 112.8h0.9v0.9h-0.9zM82.2 101.6h0.9v0.9h-0.9zM60.6 70.6h0.9v0.9h-0.9zM60.2 70.8h0.9v0.9h-0.9zM68.8 115.2h0.9v0.9h-0.9zM69.2 78.8h0.9v0.9h-0.9zM55.4 75.8h0.9v0.9h-0.9zM90.2 89.0h0.9v0.9h-0.9zM62.8 124.6h0.9v0.9h-0.9zM82.7 98.9h0.9v0.9h-0.9zM54.9 77.5h0.9v0.9h-0.9zM60.9 120.6h0.9v0.9h-0.9zM62.3 81.6h0.9v0.9h-0.9zM67.6 114.0h0.9v0.9h-0.9zM82.9 113.0h0.9v0.9h-0.9zM68.3 117.2h0.9v0.9h-0.9zM59.4 111.0h0.9v0.9h-0.9zM65.0 112.3h0.9v0.9h-0.9zM59.8 117.0h0.9v0.9h-0.9zM84.1 114.9h0.9v0.9h-0.9z" fill="#5454fc"/>
<path d="M68.7 115.9h0.9v0.9h-0.9zM64.9 112.3h0.9v0.9h-0.9zM62.9 124.7h0.9v0.9h-0.9zM63.0 69.4h0.9v0.9h-0.9zM59.9 110.6h0.9v0.9h-0.9zM64.3 68.9h0.9v0.9h-0.9zM82.0 107.1h0.9v0.9h-0.9zM59.4 111.4h0.9v0.9h-0.9zM65.2 68.8h0.9v0.9h-0.9zM61.1 120.7h0.9v0.9h-0.9zM62.2 110.9h0.9v0.9h-0.9zM92.5 89.5h0.9v0.9h-0.9zM82.2 111.3h0.9v0.9h-0.9zM62.8 69.5h0.9v0.9h-0.9zM56.3 80.1h0.9v0.9h-0.9zM64.4 81.1h0.9v0.9h-0.9zM68.6 120.0h0.9v0.9h-0.9zM68.4 115.0h0.9v0.9h-0.9zM63.5 111.7h0.9v0.9h-0.9zM82.2 103.2h0.9v0.9h-0.9zM84.5 114.5h0.9v0.9h-0.9zM81.8 110.4h0.9v0.9h-0.9zM65.5 124.9h0.9v0.9h-0.9zM81.5 108.2h0.9v0.9h-0.9zM82.4 106.5h0.9v0.9h-0.9zM73.8 74.9h0.9v0.9h-0.9zM73.0 75.8h0.9v0.9h-0.9zM67.3 123.7h0.9v0.9h-0.9zM68.4 121.4h0.9v0.9h-0.9zM68.4 116.0h0.9v0.9h-0.9zM56.8 74.7h0.9v0.9h-0.9zM81.7 110.1h0.9v0.9h-0.9zM71.0 68.4h0.9v0.9h-0.9zM60.1 114.0h0.9v0.9h-0.9zM89.0 111.8h0.9v0.9h-0.9zM55.7 75.8h0.9v0.9h-0.9zM67.8 79.6h0.9v0.9h-0.9zM68.3 115.5h0.9v0.9h-0.9zM55.6 75.9h0.9v0.9h-0.9zM93.8 101.5h0.9v0.9h-0.9zM93.1 103.4h0.9v0.9h-0.9zM68.2 121.6h0.9v0.9h-0.9zM66.0 113.3h0.9v0.9h-0.9zM83.4 113.6h0.9v0.9h-0.9zM61.6 121.1h0.9v0.9h-0.9zM83.7 113.9h0.9v0.9h-0.9zM68.4 120.1h0.9v0.9h-0.9zM64.0 69.1h0.9v0.9h-0.9zM57.6 80.6h0.9v0.9h-0.9zM55.5 76.2h0.9v0.9h-0.9zM64.6 112.6h0.9v0.9h-0.9zM68.1 115.4h0.9v0.9h-0.9zM84.9 114.0h0.9v0.9h-0.9zM55.7 75.9h0.9v0.9h-0.9zM82.1 107.3h0.9v0.9h-0.9zM59.7 111.6h0.9v0.9h-0.9zM88.5 112.5h0.9v0.9h-0.9zM64.1 112.4h0.9v0.9h-0.9zM62.1 121.9h0.9v0.9h-0.9zM60.4 119.3h0.9v0.9h-0.9zM62.4 111.4h0.9v0.9h-0.9zM86.1 113.7h0.9v0.9h-0.9zM68.0 116.0h0.9v0.9h-0.9zM55.3 76.7h0.9v0.9h-0.9zM60.3 118.8h0.9v0.9h-0.9zM83.4 113.3h0.9v0.9h-0.9zM94.6 97.6h0.9v0.9h-0.9zM62.4 122.8h0.9v0.9h-0.9zM68.0 116.1h0.9v0.9h-0.9zM60.1 81.2h0.9v0.9h-0.9zM88.0 112.9h0.9v0.9h-0.9zM60.5 111.1h0.9v0.9h-0.9zM57.7 80.5h0.9v0.9h-0.9zM60.0 112.9h0.9v0.9h-0.9zM74.3 71.5h0.9v0.9h-0.9zM59.0 81.0h0.9v0.9h-0.9zM60.6 115.7h0.9v0.9h-0.9zM65.8 113.5h0.9v0.9h-0.9zM59.9 112.0h0.9v0.9h-0.9zM74.2 71.1h0.9v0.9h-0.9zM86.1 113.6h0.9v0.9h-0.9zM60.1 113.3h0.9v0.9h-0.9zM88.5 112.2h0.9v0.9h-0.9zM63.8 81.1h0.9v0.9h-0.9zM58.4 72.7h0.9v0.9h-0.9zM60.3 113.7h0.9v0.9h-0.9zM62.6 111.7h0.9v0.9h-0.9zM71.3 68.6h0.9v0.9h-0.9zM68.0 119.3h0.9v0.9h-0.9zM57.1 74.8h0.9v0.9h-0.9zM66.2 114.2h0.9v0.9h-0.9zM60.4 117.9h0.9v0.9h-0.9zM67.7 117.5h0.9v0.9h-0.9zM88.3 112.4h0.9v0.9h-0.9zM60.7 111.3h0.9v0.9h-0.9zM68.1 120.7h0.9v0.9h-0.9zM82.9 99.5h0.9v0.9h-0.9zM67.4 115.8h0.9v0.9h-0.9zM61.2 120.1h0.9v0.9h-0.9zM59.5 71.7h0.9v0.9h-0.9zM60.1 112.4h0.9v0.9h-0.9zM82.8 99.9h0.9v0.9h-0.9zM60.2 112.9h0.9v0.9h-0.9zM74.3 73.2h0.9v0.9h-0.9zM65.5 113.6h0.9v0.9h-0.9zM55.7 76.6h0.9v0.9h-0.9zM82.5 101.7h0.9v0.9h-0.9zM90.5 107.7h0.9v0.9h-0.9zM62.9 123.7h0.9v0.9h-0.9zM60.4 71.0h0.9v0.9h-0.9zM93.9 100.3h0.9v0.9h-0.9zM60.2 81.1h0.9v0.9h-0.9zM61.1 119.8h0.9v0.9h-0.9zM55.6 77.5h0.9v0.9h-0.9zM89.1 110.5h0.9v0.9h-0.9zM85.6 113.5h0.9v0.9h-0.9zM92.4 104.6h0.9v0.9h-0.9zM65.4 124.6h0.9v0.9h-0.9zM60.8 119.3h0.9v0.9h-0.9zM55.9 78.5h0.9v0.9h-0.9zM65.4 113.6h0.9v0.9h-0.9zM60.7 111.5h0.9v0.9h-0.9zM67.4 122.8h0.9v0.9h-0.9zM56.0 76.2h0.9v0.9h-0.9zM88.3 112.1h0.9v0.9h-0.9zM89.1 90.0h0.9v0.9h-0.9zM55.7 77.2h0.9v0.9h-0.9zM63.1 123.8h0.9v0.9h-0.9zM74.3 71.9h0.9v0.9h-0.9zM55.7 77.2h0.9v0.9h-0.9zM67.1 79.8h0.9v0.9h-0.9zM65.0 124.6h0.9v0.9h-0.9zM74.2 73.1h0.9v0.9h-0.9zM89.9 89.5h0.9v0.9h-0.9zM60.8 115.1h0.9v0.9h-0.9zM65.5 113.9h0.9v0.9h-0.9zM62.6 122.0h0.9v0.9h-0.9zM66.1 114.7h0.9v0.9h-0.9zM87.4 91.4h0.9v0.9h-0.9zM72.5 75.8h0.9v0.9h-0.9zM84.7 96.1h0.9v0.9h-0.9zM83.7 97.8h0.9v0.9h-0.9zM56.4 79.2h0.9v0.9h-0.9zM67.2 122.9h0.9v0.9h-0.9zM94.4 97.8h0.9v0.9h-0.9zM61.3 111.7h0.9v0.9h-0.9zM57.9 73.7h0.9v0.9h-0.9zM85.3 113.3h0.9v0.9h-0.9zM56.6 79.4h0.9v0.9h-0.9zM73.0 75.4h0.9v0.9h-0.9zM61.8 111.8h0.9v0.9h-0.9zM85.4 94.9h0.9v0.9h-0.9zM64.3 124.5h0.9v0.9h-0.9zM60.9 118.8h0.9v0.9h-0.9zM62.6 112.2h0.9v0.9h-0.9zM60.8 117.9h0.9v0.9h-0.9zM82.9 111.3h0.9v0.9h-0.9zM91.6 89.4h0.9v0.9h-0.9zM55.9 77.7h0.9v0.9h-0.9zM67.2 122.8h0.9v0.9h-0.9zM83.6 112.6h0.9v0.9h-0.9z" fill="#5454f4"/>
<path d="M73.9 73.9h0.9v0.9h-0.9zM62.8 112.5h0.9v0.9h-0.9zM63.6 81.0h0.9v0.9h-0.9zM56.1 78.1h0.9v0.9h-0.9zM87.1 91.9h0.9v0.9h-0.9zM68.2 68.8h0.9v0.9h-0.9zM94.2 98.7h0.9v0.9h-0.9zM63.5 123.9h0.9v0.9h-0.9zM67.7 68.8h0.9v0.9h-0.9zM83.3 98.9h0.9v0.9h-0.9zM66.2 80.0h0.9v0.9h-0.9zM61.0 114.6h0.9v0.9h-0.9zM82.7 101.2h0.9v0.9h-0.9zM82.7 110.7h0.9v0.9h-0.9zM82.4 110.0h0.9v0.9h-0.9zM67.1 117.3h0.9v0.9h-0.9zM89.3 109.7h0.9v0.9h-0.9zM82.2 109.2h0.9v0.9h-0.9zM91.6 89.5h0.9v0.9h-0.9zM88.2 111.4h0.9v0.9h-0.9zM56.8 76.1h0.9v0.9h-0.9zM82.7 101.7h0.9v0.9h-0.9zM61.2 116.9h0.9v0.9h-0.9zM60.8 113.4h0.9v0.9h-0.9zM89.8 109.0h0.9v0.9h-0.9zM56.6 79.0h0.9v0.9h-0.9zM82.3 108.0h0.9v0.9h-0.9zM64.4 113.8h0.9v0.9h-0.9zM63.1 113.0h0.9v0.9h-0.9zM61.1 114.6h0.9v0.9h-0.9zM93.4 91.5h0.9v0.9h-0.9zM91.8 105.4h0.9v0.9h-0.9zM60.9 112.6h0.9v0.9h-0.9zM61.5 112.3h0.9v0.9h-0.9zM64.2 124.2h0.9v0.9h-0.9zM84.0 112.6h0.9v0.9h-0.9zM56.3 77.9h0.9v0.9h-0.9zM82.7 110.5h0.9v0.9h-0.9zM67.1 122.2h0.9v0.9h-0.9zM83.6 98.3h0.9v0.9h-0.9zM61.4 115.8h0.9v0.9h-0.9zM58.2 80.1h0.9v0.9h-0.9zM64.7 124.3h0.9v0.9h-0.9zM67.3 121.5h0.9v0.9h-0.9zM91.0 89.5h0.9v0.9h-0.9zM68.1 79.0h0.9v0.9h-0.9zM74.1 72.0h0.9v0.9h-0.9zM56.5 78.5h0.9v0.9h-0.9zM88.3 111.0h0.9v0.9h-0.9zM56.9 79.2h0.9v0.9h-0.9zM82.3 109.2h0.9v0.9h-0.9zM60.9 113.2h0.9v0.9h-0.9zM83.2 111.3h0.9v0.9h-0.9zM66.7 116.7h0.9v0.9h-0.9zM89.6 109.1h0.9v0.9h-0.9zM61.4 112.4h0.9v0.9h-0.9zM57.1 76.0h0.9v0.9h-0.9zM72.8 69.7h0.9v0.9h-0.9zM58.1 73.9h0.9v0.9h-0.9zM59.7 72.0h0.9v0.9h-0.9zM67.2 118.5h0.9v0.9h-0.9zM73.6 70.7h0.9v0.9h-0.9zM66.4 116.2h0.9v0.9h-0.9zM61.4 117.2h0.9v0.9h-0.9zM66.6 123.3h0.9v0.9h-0.9zM84.2 112.5h0.9v0.9h-0.9zM57.0 79.3h0.9v0.9h-0.9zM57.5 79.7h0.9v0.9h-0.9zM61.5 119.1h0.9v0.9h-0.9zM69.7 77.8h0.9v0.9h-0.9zM73.6 74.3h0.9v0.9h-0.9zM87.7 111.8h0.9v0.9h-0.9zM86.0 94.2h0.9v0.9h-0.9zM83.9 112.3h0.9v0.9h-0.9zM72.8 75.3h0.9v0.9h-0.9zM83.1 100.2h0.9v0.9h-0.9zM86.9 112.4h0.9v0.9h-0.9zM63.0 121.5h0.9v0.9h-0.9zM61.4 117.9h0.9v0.9h-0.9zM61.6 115.7h0.9v0.9h-0.9zM74.0 72.2h0.9v0.9h-0.9zM61.4 114.9h0.9v0.9h-0.9zM82.4 108.4h0.9v0.9h-0.9zM86.9 112.4h0.9v0.9h-0.9zM83.4 111.4h0.9v0.9h-0.9zM67.1 118.7h0.9v0.9h-0.9zM57.9 79.9h0.9v0.9h-0.9zM63.5 113.7h0.9v0.9h-0.9zM67.1 119.0h0.9v0.9h-0.9zM61.5 117.3h0.9v0.9h-0.9zM63.1 69.9h0.9v0.9h-0.9zM65.6 115.5h0.9v0.9h-0.9zM85.1 112.6h0.9v0.9h-0.9zM67.9 69.0h0.9v0.9h-0.9zM61.9 119.6h0.9v0.9h-0.9zM87.2 112.1h0.9v0.9h-0.9zM61.7 112.9h0.9v0.9h-0.9zM82.9 107.2h0.9v0.9h-0.9zM63.1 121.4h0.9v0.9h-0.9zM66.7 122.8h0.9v0.9h-0.9zM63.5 122.8h0.9v0.9h-0.9zM82.5 108.4h0.9v0.9h-0.9zM82.9 110.3h0.9v0.9h-0.9zM62.1 119.7h0.9v0.9h-0.9zM65.1 115.0h0.9v0.9h-0.9zM61.4 113.3h0.9v0.9h-0.9zM61.6 117.5h0.9v0.9h-0.9zM67.0 120.7h0.9v0.9h-0.9zM70.8 69.0h0.9v0.9h-0.9zM92.3 90.2h0.9v0.9h-0.9zM62.7 80.9h0.9v0.9h-0.9zM73.7 71.1h0.9v0.9h-0.9zM72.7 75.3h0.9v0.9h-0.9zM73.7 71.1h0.9v0.9h-0.9zM62.0 113.1h0.9v0.9h-0.9zM84.5 97.0h0.9v0.9h-0.9zM65.1 124.0h0.9v0.9h-0.9zM65.1 115.2h0.9v0.9h-0.9zM63.3 121.6h0.9v0.9h-0.9zM86.2 112.4h0.9v0.9h-0.9zM61.9 115.5h0.9v0.9h-0.9zM87.1 111.9h0.9v0.9h-0.9zM64.3 123.8h0.9v0.9h-0.9zM64.4 123.9h0.9v0.9h-0.9zM64.3 80.5h0.9v0.9h-0.9zM65.1 115.2h0.9v0.9h-0.9zM91.1 89.7h0.9v0.9h-0.9zM94.1 98.1h0.9v0.9h-0.9zM63.9 114.4h0.9v0.9h-0.9zM83.3 110.9h0.9v0.9h-0.9zM62.8 113.7h0.9v0.9h-0.9zM90.1 89.9h0.9v0.9h-0.9zM66.5 117.4h0.9v0.9h-0.9zM66.9 120.5h0.9v0.9h-0.9zM62.4 113.5h0.9v0.9h-0.9zM64.5 114.8h0.9v0.9h-0.9zM92.6 90.5h0.9v0.9h-0.9zM57.9 74.8h0.9v0.9h-0.9zM90.0 107.9h0.9v0.9h-0.9zM67.7 69.1h0.9v0.9h-0.9zM61.9 115.1h0.9v0.9h-0.9zM88.1 91.2h0.9v0.9h-0.9zM62.0 116.5h0.9v0.9h-0.9zM73.2 74.5h0.9v0.9h-0.9zM61.9 114.7h0.9v0.9h-0.9zM66.0 123.5h0.9v0.9h-0.9zM58.5 79.9h0.9v0.9h-0.9zM70.6 69.1h0.9v0.9h-0.9zM66.8 120.4h0.9v0.9h-0.9zM69.8 69.1h0.9v0.9h-0.9zM64.8 80.3h0.9v0.9h-0.9zM66.3 123.0h0.9v0.9h-0.9zM89.7 90.1h0.9v0.9h-0.9zM67.7 69.1h0.9v0.9h-0.9zM88.1 110.5h0.9v0.9h-0.9zM60.7 71.4h0.9v0.9h-0.9zM89.0 109.6h0.9v0.9h-0.9zM66.8 120.1h0.9v0.9h-0.9zM62.2 113.8h0.9v0.9h-0.9zM62.6 114.0h0.9v0.9h-0.9zM63.8 122.9h0.9v0.9h-0.9zM62.5 114.0h0.9v0.9h-0.9zM63.1 114.3h0.9v0.9h-0.9zM82.8 108.2h0.9v0.9h-0.9zM62.2 115.2h0.9v0.9h-0.9zM72.5 69.8h0.9v0.9h-0.9zM66.7 119.6h0.9v0.9h-0.9zM58.0 74.8h0.9v0.9h-0.9zM58.2 74.4h0.9v0.9h-0.9zM66.7 118.9h0.9v0.9h-0.9zM62.2 114.7h0.9v0.9h-0.9zM65.6 79.9h0.9v0.9h-0.9zM64.6 115.3h0.9v0.9h-0.9zM92.9 91.0h0.9v0.9h-0.9zM57.9 79.5h0.9v0.9h-0.9zM64.3 115.1h0.9v0.9h-0.9zM70.6 69.2h0.9v0.9h-0.9zM87.9 91.5h0.9v0.9h-0.9zM65.0 115.7h0.9v0.9h-0.9zM66.2 69.4h0.9v0.9h-0.9zM63.0 114.5h0.9v0.9h-0.9zM63.6 121.5h0.9v0.9h-0.9zM66.3 117.6h0.9v0.9h-0.9zM63.7 122.0h0.9v0.9h-0.9zM84.5 112.0h0.9v0.9h-0.9zM87.6 110.9h0.9v0.9h-0.9zM92.3 104.1h0.9v0.9h-0.9zM63.9 115.1h0.9v0.9h-0.9zM82.9 109.3h0.9v0.9h-0.9zM57.2 77.4h0.9v0.9h-0.9zM72.9 70.2h0.9v0.9h-0.9z" fill="#4c4cf4"/>
<path d="M62.5 116.4h0.9v0.9h-0.9zM65.6 123.4h0.9v0.9h-0.9zM65.9 117.0h0.9v0.9h-0.9zM94.1 96.6h0.9v0.9h-0.9zM65.3 123.5h0.9v0.9h-0.9zM62.3 118.8h0.9v0.9h-0.9zM83.0 109.0h0.9v0.9h-0.9zM63.9 122.3h0.9v0.9h-0.9zM59.4 72.8h0.9v0.9h-0.9zM66.3 120.4h0.9v0.9h-0.9zM63.7 80.5h0.9v0.9h-0.9zM62.4 117.2h0.9v0.9h-0.9zM85.7 112.0h0.9v0.9h-0.9zM83.7 99.2h0.9v0.9h-0.9zM62.4 117.4h0.9v0.9h-0.9zM63.8 121.5h0.9v0.9h-0.9zM66.4 119.0h0.9v0.9h-0.9zM63.0 115.8h0.9v0.9h-0.9zM66.3 120.4h0.9v0.9h-0.9zM62.6 116.8h0.9v0.9h-0.9zM64.6 115.8h0.9v0.9h-0.9zM57.4 76.9h0.9v0.9h-0.9zM66.0 79.7h0.9v0.9h-0.9zM62.4 70.5h0.9v0.9h-0.9zM62.6 119.2h0.9v0.9h-0.9zM62.4 118.6h0.9v0.9h-0.9zM60.1 80.4h0.9v0.9h-0.9zM64.5 123.3h0.9v0.9h-0.9zM84.7 111.8h0.9v0.9h-0.9zM62.8 119.4h0.9v0.9h-0.9zM65.9 122.8h0.9v0.9h-0.9zM86.2 111.8h0.9v0.9h-0.9zM83.1 108.9h0.9v0.9h-0.9zM63.6 115.7h0.9v0.9h-0.9zM66.1 120.7h0.9v0.9h-0.9zM63.4 120.0h0.9v0.9h-0.9zM91.1 105.8h0.9v0.9h-0.9zM61.3 71.2h0.9v0.9h-0.9zM88.7 90.9h0.9v0.9h-0.9zM66.0 122.2h0.9v0.9h-0.9zM64.7 123.2h0.9v0.9h-0.9zM63.3 119.7h0.9v0.9h-0.9zM62.6 117.6h0.9v0.9h-0.9zM70.7 76.6h0.9v0.9h-0.9zM63.8 120.4h0.9v0.9h-0.9zM67.5 79.0h0.9v0.9h-0.9zM88.1 91.5h0.9v0.9h-0.9zM66.1 119.1h0.9v0.9h-0.9zM57.7 78.8h0.9v0.9h-0.9zM64.4 116.0h0.9v0.9h-0.9zM65.3 123.2h0.9v0.9h-0.9zM62.6 118.6h0.9v0.9h-0.9zM58.0 75.6h0.9v0.9h-0.9zM89.8 107.9h0.9v0.9h-0.9zM84.4 111.4h0.9v0.9h-0.9zM64.0 116.0h0.9v0.9h-0.9zM66.1 118.6h0.9v0.9h-0.9zM84.0 110.9h0.9v0.9h-0.9zM67.6 69.3h0.9v0.9h-0.9zM87.5 92.2h0.9v0.9h-0.9zM64.2 121.3h0.9v0.9h-0.9zM72.2 69.9h0.9v0.9h-0.9zM65.9 120.2h0.9v0.9h-0.9zM60.5 71.8h0.9v0.9h-0.9zM66.0 119.2h0.9v0.9h-0.9zM65.5 122.9h0.9v0.9h-0.9zM65.6 117.3h0.9v0.9h-0.9zM92.0 90.4h0.9v0.9h-0.9zM93.2 92.4h0.9v0.9h-0.9zM65.7 122.3h0.9v0.9h-0.9zM65.7 117.6h0.9v0.9h-0.9zM57.9 79.0h0.9v0.9h-0.9zM63.0 119.0h0.9v0.9h-0.9zM65.0 123.1h0.9v0.9h-0.9zM65.5 122.8h0.9v0.9h-0.9zM63.7 119.9h0.9v0.9h-0.9zM62.8 118.6h0.9v0.9h-0.9zM83.2 108.5h0.9v0.9h-0.9zM65.9 118.3h0.9v0.9h-0.9zM64.4 121.2h0.9v0.9h-0.9zM65.8 118.1h0.9v0.9h-0.9zM65.6 117.5h0.9v0.9h-0.9zM64.2 120.5h0.9v0.9h-0.9zM93.0 91.7h0.9v0.9h-0.9zM64.3 120.6h0.9v0.9h-0.9zM72.1 69.8h0.9v0.9h-0.9zM65.1 116.8h0.9v0.9h-0.9zM86.5 111.3h0.9v0.9h-0.9zM84.3 97.9h0.9v0.9h-0.9zM66.6 79.3h0.9v0.9h-0.9zM65.4 117.2h0.9v0.9h-0.9zM65.4 69.7h0.9v0.9h-0.9zM84.8 96.9h0.9v0.9h-0.9zM84.0 110.6h0.9v0.9h-0.9zM86.8 110.9h0.9v0.9h-0.9zM63.0 118.8h0.9v0.9h-0.9zM73.5 72.9h0.9v0.9h-0.9zM65.6 122.1h0.9v0.9h-0.9zM65.4 121.4h0.9v0.9h-0.9zM86.1 111.4h0.9v0.9h-0.9zM64.7 120.8h0.9v0.9h-0.9zM57.9 76.4h0.9v0.9h-0.9zM64.9 122.7h0.9v0.9h-0.9zM83.3 107.9h0.9v0.9h-0.9zM64.9 121.2h0.9v0.9h-0.9zM85.1 111.5h0.9v0.9h-0.9zM64.9 120.3h0.9v0.9h-0.9zM65.2 120.0h0.9v0.9h-0.9zM68.4 78.3h0.9v0.9h-0.9zM84.7 97.2h0.9v0.9h-0.9zM65.0 120.0h0.9v0.9h-0.9zM85.6 111.4h0.9v0.9h-0.9zM62.2 80.6h0.9v0.9h-0.9zM63.3 118.7h0.9v0.9h-0.9zM84.4 110.9h0.9v0.9h-0.9zM83.2 101.6h0.9v0.9h-0.9zM69.2 69.5h0.9v0.9h-0.9zM83.0 103.6h0.9v0.9h-0.9zM86.9 110.6h0.9v0.9h-0.9zM63.8 117.1h0.9v0.9h-0.9zM63.5 118.7h0.9v0.9h-0.9zM63.3 118.0h0.9v0.9h-0.9zM63.9 117.0h0.9v0.9h-0.9zM65.1 119.3h0.9v0.9h-0.9zM63.8 119.0h0.9v0.9h-0.9zM64.0 117.1h0.9v0.9h-0.9zM58.4 75.0h0.9v0.9h-0.9zM71.8 69.8h0.9v0.9h-0.9zM65.2 119.0h0.9v0.9h-0.9zM58.8 73.9h0.9v0.9h-0.9zM93.0 92.2h0.9v0.9h-0.9zM65.0 117.5h0.9v0.9h-0.9zM68.6 78.1h0.9v0.9h-0.9zM65.0 117.8h0.9v0.9h-0.9zM64.3 117.3h0.9v0.9h-0.9zM67.6 69.5h0.9v0.9h-0.9zM64.6 117.5h0.9v0.9h-0.9zM64.4 117.4h0.9v0.9h-0.9zM64.8 117.7h0.9v0.9h-0.9zM85.8 111.1h0.9v0.9h-0.9zM88.7 109.1h0.9v0.9h-0.9zM83.3 105.2h0.9v0.9h-0.9zM67.1 79.0h0.9v0.9h-0.9zM63.8 70.1h0.9v0.9h-0.9zM64.2 117.7h0.9v0.9h-0.9zM93.4 94.5h0.9v0.9h-0.9zM88.6 109.1h0.9v0.9h-0.9zM85.4 111.0h0.9v0.9h-0.9zM83.5 106.3h0.9v0.9h-0.9zM69.1 77.7h0.9v0.9h-0.9zM64.7 79.9h0.9v0.9h-0.9zM84.8 110.8h0.9v0.9h-0.9zM58.7 74.4h0.9v0.9h-0.9zM69.4 69.6h0.9v0.9h-0.9zM61.5 80.4h0.9v0.9h-0.9zM83.6 107.8h0.9v0.9h-0.9zM93.0 92.6h0.9v0.9h-0.9zM93.9 97.1h0.9v0.9h-0.9zM71.4 69.9h0.9v0.9h-0.9zM85.8 110.8h0.9v0.9h-0.9zM90.5 90.3h0.9v0.9h-0.9zM86.8 110.2h0.9v0.9h-0.9zM61.5 80.4h0.9v0.9h-0.9zM71.9 70.0h0.9v0.9h-0.9zM87.4 109.8h0.9v0.9h-0.9zM92.5 91.3h0.9v0.9h-0.9zM72.9 74.2h0.9v0.9h-0.9z" fill="#4444f4"/>
<path d="M60.9 71.8h0.9v0.9h-0.9zM60.1 80.0h0.9v0.9h-0.9zM64.6 70.0h0.9v0.9h-0.9zM92.4 91.2h0.9v0.9h-0.9zM93.9 96.9h0.9v0.9h-0.9zM85.7 110.7h0.9v0.9h-0.9zM88.9 108.8h0.9v0.9h-0.9zM61.9 80.4h0.9v0.9h-0.9zM92.9 92.5h0.9v0.9h-0.9zM92.9 101.6h0.9v0.9h-0.9zM72.9 71.1h0.9v0.9h-0.9zM86.6 110.1h0.9v0.9h-0.9zM93.7 98.1h0.9v0.9h-0.9zM93.8 96.4h0.9v0.9h-0.9zM85.4 110.5h0.9v0.9h-0.9zM69.3 77.4h0.9v0.9h-0.9zM90.5 106.2h0.9v0.9h-0.9zM70.9 69.9h0.9v0.9h-0.9zM69.8 69.8h0.9v0.9h-0.9zM71.4 70.0h0.9v0.9h-0.9zM89.3 90.9h0.9v0.9h-0.9zM90.6 106.0h0.9v0.9h-0.9zM92.1 103.7h0.9v0.9h-0.9zM85.1 110.2h0.9v0.9h-0.9zM73.2 72.5h0.9v0.9h-0.9zM83.9 99.9h0.9v0.9h-0.9zM83.9 108.6h0.9v0.9h-0.9zM92.9 92.6h0.9v0.9h-0.9zM73.1 71.8h0.9v0.9h-0.9zM90.0 90.6h0.9v0.9h-0.9zM84.7 109.9h0.9v0.9h-0.9zM85.3 96.5h0.9v0.9h-0.9zM70.6 76.2h0.9v0.9h-0.9zM71.6 70.1h0.9v0.9h-0.9zM58.7 79.1h0.9v0.9h-0.9zM72.3 70.6h0.9v0.9h-0.9zM91.1 90.5h0.9v0.9h-0.9zM58.2 78.0h0.9v0.9h-0.9zM70.4 69.9h0.9v0.9h-0.9zM84.2 109.0h0.9v0.9h-0.9zM89.0 108.4h0.9v0.9h-0.9zM72.0 75.0h0.9v0.9h-0.9zM90.9 105.5h0.9v0.9h-0.9zM93.0 93.5h0.9v0.9h-0.9zM87.3 93.2h0.9v0.9h-0.9zM72.7 74.1h0.9v0.9h-0.9zM61.0 72.0h0.9v0.9h-0.9zM58.9 79.1h0.9v0.9h-0.9zM86.4 94.8h0.9v0.9h-0.9zM93.0 100.7h0.9v0.9h-0.9zM85.1 109.7h0.9v0.9h-0.9zM83.7 101.0h0.9v0.9h-0.9zM72.6 71.0h0.9v0.9h-0.9zM89.0 108.3h0.9v0.9h-0.9zM90.9 90.6h0.9v0.9h-0.9zM86.7 94.3h0.9v0.9h-0.9zM92.1 91.2h0.9v0.9h-0.9zM65.1 79.4h0.9v0.9h-0.9zM68.5 69.8h0.9v0.9h-0.9zM63.6 70.5h0.9v0.9h-0.9zM72.6 71.1h0.9v0.9h-0.9zM84.5 108.9h0.9v0.9h-0.9zM60.5 72.6h0.9v0.9h-0.9zM58.3 77.6h0.9v0.9h-0.9zM89.9 90.8h0.9v0.9h-0.9zM61.5 71.7h0.9v0.9h-0.9zM66.4 78.9h0.9v0.9h-0.9zM90.3 106.2h0.9v0.9h-0.9zM66.0 70.0h0.9v0.9h-0.9zM84.9 109.3h0.9v0.9h-0.9zM72.1 70.7h0.9v0.9h-0.9zM58.4 77.4h0.9v0.9h-0.9zM89.6 91.0h0.9v0.9h-0.9zM66.5 69.9h0.9v0.9h-0.9zM90.6 90.7h0.9v0.9h-0.9zM71.7 70.4h0.9v0.9h-0.9zM64.9 79.5h0.9v0.9h-0.9zM84.4 108.5h0.9v0.9h-0.9zM58.4 77.4h0.9v0.9h-0.9zM87.4 109.2h0.9v0.9h-0.9zM85.5 96.4h0.9v0.9h-0.9zM89.8 107.0h0.9v0.9h-0.9zM85.1 109.3h0.9v0.9h-0.9zM83.4 104.4h0.9v0.9h-0.9zM88.9 108.2h0.9v0.9h-0.9zM85.2 109.3h0.9v0.9h-0.9zM63.1 80.0h0.9v0.9h-0.9zM84.5 98.9h0.9v0.9h-0.9zM65.6 70.2h0.9v0.9h-0.9zM91.1 105.0h0.9v0.9h-0.9zM87.7 92.9h0.9v0.9h-0.9z" fill="#3c3cf4"/>
<path d="M88.1 108.8h0.9v0.9h-0.9zM89.7 91.0h0.9v0.9h-0.9zM90.4 90.8h0.9v0.9h-0.9zM89.1 108.0h0.9v0.9h-0.9zM89.1 107.9h0.9v0.9h-0.9zM64.5 70.4h0.9v0.9h-0.9zM85.7 109.3h0.9v0.9h-0.9zM92.7 101.5h0.9v0.9h-0.9zM93.5 96.2h0.9v0.9h-0.9zM60.0 79.6h0.9v0.9h-0.9z" fill="#3434f4"/>
<path d="M58.8 78.4h0.9v0.9h-0.9zM62.6 71.1h0.9v0.9h-0.9zM87.4 109.0h0.9v0.9h-0.9z" fill="#3434ec"/>
<path d="M92.7 101.6h0.9v0.9h-0.9zM89.2 91.4h0.9v0.9h-0.9zM93.5 96.4h0.9v0.9h-0.9zM83.9 106.5h0.9v0.9h-0.9zM72.8 72.3h0.9v0.9h-0.9zM72.8 72.6h0.9v0.9h-0.9zM60.6 79.8h0.9v0.9h-0.9zM83.9 106.2h0.9v0.9h-0.9zM69.6 76.8h0.9v0.9h-0.9zM61.8 71.7h0.9v0.9h-0.9zM93.4 95.9h0.9v0.9h-0.9zM84.8 98.2h0.9v0.9h-0.9zM72.6 71.9h0.9v0.9h-0.9zM93.5 97.7h0.9v0.9h-0.9zM64.1 79.6h0.9v0.9h-0.9zM70.6 70.4h0.9v0.9h-0.9zM63.4 70.8h0.9v0.9h-0.9zM61.3 72.1h0.9v0.9h-0.9zM72.2 74.2h0.9v0.9h-0.9zM92.3 92.1h0.9v0.9h-0.9zM71.5 70.7h0.9v0.9h-0.9zM87.1 109.0h0.9v0.9h-0.9zM93.0 99.7h0.9v0.9h-0.9zM84.2 107.4h0.9v0.9h-0.9zM92.1 91.8h0.9v0.9h-0.9zM62.6 71.2h0.9v0.9h-0.9zM83.9 105.9h0.9v0.9h-0.9zM88.4 92.2h0.9v0.9h-0.9z" fill="#343cec"/>
<path d="M67.8 78.0h0.9v0.9h-0.9zM93.3 98.4h0.9v0.9h-0.9zM83.9 101.1h0.9v0.9h-0.9zM91.0 91.0h0.9v0.9h-0.9zM62.1 79.9h0.9v0.9h-0.9zM72.1 74.3h0.9v0.9h-0.9zM65.6 70.3h0.9v0.9h-0.9zM61.9 79.9h0.9v0.9h-0.9zM92.0 91.7h0.9v0.9h-0.9zM92.6 101.3h0.9v0.9h-0.9zM93.4 96.4h0.9v0.9h-0.9zM87.7 108.7h0.9v0.9h-0.9zM61.6 72.0h0.9v0.9h-0.9zM88.2 108.5h0.9v0.9h-0.9zM92.2 102.8h0.9v0.9h-0.9zM84.4 107.5h0.9v0.9h-0.9zM70.9 75.5h0.9v0.9h-0.9zM67.8 70.1h0.9v0.9h-0.9zM71.2 70.8h0.9v0.9h-0.9zM84.1 100.7h0.9v0.9h-0.9z" fill="#3444ec"/>
<path d="M71.4 70.9h0.9v0.9h-0.9zM72.5 72.8h0.9v0.9h-0.9zM58.8 77.3h0.9v0.9h-0.9zM86.2 95.7h0.9v0.9h-0.9zM60.0 79.3h0.9v0.9h-0.9zM72.5 72.6h0.9v0.9h-0.9zM71.9 71.3h0.9v0.9h-0.9zM84.7 108.0h0.9v0.9h-0.9zM59.7 74.0h0.9v0.9h-0.9zM90.6 105.4h0.9v0.9h-0.9zM59.9 73.8h0.9v0.9h-0.9zM71.2 70.9h0.9v0.9h-0.9zM93.1 98.7h0.9v0.9h-0.9zM64.9 79.1h0.9v0.9h-0.9zM70.3 70.6h0.9v0.9h-0.9zM91.6 91.5h0.9v0.9h-0.9zM85.0 108.3h0.9v0.9h-0.9zM86.4 108.8h0.9v0.9h-0.9zM59.4 74.6h0.9v0.9h-0.9zM87.2 94.3h0.9v0.9h-0.9zM86.0 108.8h0.9v0.9h-0.9zM68.6 77.3h0.9v0.9h-0.9zM90.8 91.2h0.9v0.9h-0.9zM92.3 92.6h0.9v0.9h-0.9zM60.2 79.3h0.9v0.9h-0.9zM93.3 96.5h0.9v0.9h-0.9zM66.6 78.4h0.9v0.9h-0.9zM91.2 91.4h0.9v0.9h-0.9z" fill="#344cec"/>
<path d="M68.2 70.3h0.9v0.9h-0.9zM58.9 76.8h0.9v0.9h-0.9zM92.4 92.9h0.9v0.9h-0.9zM59.0 77.7h0.9v0.9h-0.9zM93.2 95.9h0.9v0.9h-0.9zM85.7 108.6h0.9v0.9h-0.9zM63.8 70.9h0.9v0.9h-0.9zM90.3 105.6h0.9v0.9h-0.9zM60.9 79.6h0.9v0.9h-0.9zM88.9 92.0h0.9v0.9h-0.9zM87.5 93.7h0.9v0.9h-0.9zM91.3 104.2h0.9v0.9h-0.9zM67.1 78.1h0.9v0.9h-0.9zM85.2 97.8h0.9v0.9h-0.9zM69.7 76.4h0.9v0.9h-0.9zM69.7 76.3h0.9v0.9h-0.9zM59.0 77.6h0.9v0.9h-0.9zM59.8 74.1h0.9v0.9h-0.9zM67.1 70.3h0.9v0.9h-0.9zM85.5 97.1h0.9v0.9h-0.9zM92.7 94.1h0.9v0.9h-0.9z" fill="#3454ec"/>
<path d="M68.7 77.2h0.9v0.9h-0.9zM88.5 107.9h0.9v0.9h-0.9zM86.6 95.3h0.9v0.9h-0.9zM90.1 91.5h0.9v0.9h-0.9zM59.1 77.0h0.9v0.9h-0.9zM91.3 104.1h0.9v0.9h-0.9zM85.0 98.5h0.9v0.9h-0.9zM72.2 73.2h0.9v0.9h-0.9zM65.8 78.5h0.9v0.9h-0.9zM88.9 107.4h0.9v0.9h-0.9zM60.5 73.4h0.9v0.9h-0.9zM93.2 96.2h0.9v0.9h-0.9zM88.7 92.4h0.9v0.9h-0.9zM68.5 70.5h0.9v0.9h-0.9zM62.5 79.6h0.9v0.9h-0.9zM83.9 102.1h0.9v0.9h-0.9zM65.0 78.8h0.9v0.9h-0.9zM59.6 74.7h0.9v0.9h-0.9z" fill="#345cec"/>
<path d="M92.2 93.0h0.9v0.9h-0.9zM63.9 71.0h0.9v0.9h-0.9zM72.1 72.6h0.9v0.9h-0.9zM72.0 73.2h0.9v0.9h-0.9zM85.4 108.1h0.9v0.9h-0.9zM89.5 91.8h0.9v0.9h-0.9zM59.3 78.0h0.9v0.9h-0.9zM91.2 91.7h0.9v0.9h-0.9zM92.0 92.5h0.9v0.9h-0.9zM85.2 107.9h0.9v0.9h-0.9zM64.5 70.9h0.9v0.9h-0.9zM61.0 79.4h0.9v0.9h-0.9zM89.6 106.3h0.9v0.9h-0.9zM63.5 79.3h0.9v0.9h-0.9zM86.6 95.5h0.9v0.9h-0.9zM62.9 71.5h0.9v0.9h-0.9zM83.8 104.3h0.9v0.9h-0.9zM88.8 107.4h0.9v0.9h-0.9zM71.6 74.2h0.9v0.9h-0.9zM60.1 74.0h0.9v0.9h-0.9zM72.0 73.1h0.9v0.9h-0.9zM91.0 91.7h0.9v0.9h-0.9zM69.7 76.1h0.9v0.9h-0.9zM71.7 72.0h0.9v0.9h-0.9zM93.1 97.8h0.9v0.9h-0.9zM71.2 74.7h0.9v0.9h-0.9zM84.7 107.2h0.9v0.9h-0.9z" fill="#3464ec"/>
<path d="M59.3 77.5h0.9v0.9h-0.9zM59.3 77.8h0.9v0.9h-0.9zM59.7 74.7h0.9v0.9h-0.9zM66.3 70.6h0.9v0.9h-0.9zM61.6 72.5h0.9v0.9h-0.9zM63.8 79.2h0.9v0.9h-0.9zM71.6 72.0h0.9v0.9h-0.9zM87.6 93.9h0.9v0.9h-0.9zM89.0 92.3h0.9v0.9h-0.9zM92.5 94.0h0.9v0.9h-0.9zM87.7 93.8h0.9v0.9h-0.9zM63.9 79.1h0.9v0.9h-0.9zM60.4 79.0h0.9v0.9h-0.9zM86.4 108.3h0.9v0.9h-0.9zM71.1 74.7h0.9v0.9h-0.9zM71.8 72.7h0.9v0.9h-0.9zM84.9 99.7h0.9v0.9h-0.9zM71.9 72.9h0.9v0.9h-0.9zM59.3 77.1h0.9v0.9h-0.9zM64.0 79.0h0.9v0.9h-0.9zM88.3 107.7h0.9v0.9h-0.9zM67.9 77.4h0.9v0.9h-0.9zM89.9 91.9h0.9v0.9h-0.9zM66.8 77.9h0.9v0.9h-0.9zM88.5 107.5h0.9v0.9h-0.9zM59.9 74.5h0.9v0.9h-0.9z" fill="#346cec"/>
<path d="M71.6 72.3h0.9v0.9h-0.9zM63.8 71.2h0.9v0.9h-0.9zM93.1 97.3h0.9v0.9h-0.9zM63.2 71.5h0.9v0.9h-0.9zM59.8 78.4h0.9v0.9h-0.9zM69.3 76.3h0.9v0.9h-0.9zM59.4 77.7h0.9v0.9h-0.9zM71.7 72.5h0.9v0.9h-0.9zM69.0 76.6h0.9v0.9h-0.9zM71.8 73.2h0.9v0.9h-0.9zM61.1 73.1h0.9v0.9h-0.9zM66.1 78.1h0.9v0.9h-0.9zM88.8 92.6h0.9v0.9h-0.9zM85.3 107.7h0.9v0.9h-0.9zM84.9 99.7h0.9v0.9h-0.9zM88.9 107.1h0.9v0.9h-0.9zM67.0 70.6h0.9v0.9h-0.9zM91.4 103.6h0.9v0.9h-0.9zM59.9 74.8h0.9v0.9h-0.9zM91.9 102.5h0.9v0.9h-0.9zM86.0 108.1h0.9v0.9h-0.9zM67.9 70.7h0.9v0.9h-0.9zM70.5 75.1h0.9v0.9h-0.9zM66.9 77.8h0.9v0.9h-0.9z" fill="#3474ec"/>
<path d="M83.9 103.7h0.9v0.9h-0.9zM61.3 79.3h0.9v0.9h-0.9zM60.5 73.8h0.9v0.9h-0.9zM92.1 101.8h0.9v0.9h-0.9zM64.9 78.5h0.9v0.9h-0.9zM62.2 72.2h0.9v0.9h-0.9zM85.6 97.7h0.9v0.9h-0.9zM60.8 79.1h0.9v0.9h-0.9zM66.8 77.8h0.9v0.9h-0.9zM67.5 70.7h0.9v0.9h-0.9zM92.8 98.4h0.9v0.9h-0.9zM60.6 73.7h0.9v0.9h-0.9zM59.8 78.2h0.9v0.9h-0.9zM85.2 107.4h0.9v0.9h-0.9zM65.8 70.9h0.9v0.9h-0.9zM62.3 79.3h0.9v0.9h-0.9zM91.5 103.3h0.9v0.9h-0.9zM59.7 75.5h0.9v0.9h-0.9zM71.5 73.5h0.9v0.9h-0.9zM64.1 78.8h0.9v0.9h-0.9zM63.7 71.4h0.9v0.9h-0.9zM67.8 77.3h0.9v0.9h-0.9zM83.9 103.9h0.9v0.9h-0.9zM59.5 77.2h0.9v0.9h-0.9zM69.2 76.3h0.9v0.9h-0.9zM86.4 108.0h0.9v0.9h-0.9z" fill="#347cec"/>
<path d="M67.7 77.3h0.9v0.9h-0.9zM67.9 70.7h0.9v0.9h-0.9zM70.1 71.4h0.9v0.9h-0.9zM84.6 101.0h0.9v0.9h-0.9zM59.6 77.4h0.9v0.9h-0.9zM59.6 77.7h0.9v0.9h-0.9zM62.3 72.2h0.9v0.9h-0.9zM61.0 79.1h0.9v0.9h-0.9zM68.7 70.9h0.9v0.9h-0.9zM84.1 102.2h0.9v0.9h-0.9zM86.0 107.9h0.9v0.9h-0.9zM71.0 72.1h0.9v0.9h-0.9zM71.3 73.9h0.9v0.9h-0.9zM84.0 103.6h0.9v0.9h-0.9zM69.8 75.6h0.9v0.9h-0.9zM85.1 99.8h0.9v0.9h-0.9zM88.4 107.3h0.9v0.9h-0.9zM92.4 94.5h0.9v0.9h-0.9zM71.3 72.8h0.9v0.9h-0.9z" fill="#3484ec"/>
<path d="M92.8 95.8h0.9v0.9h-0.9zM69.7 71.4h0.9v0.9h-0.9zM86.9 107.9h0.9v0.9h-0.9zM92.2 93.9h0.9v0.9h-0.9zM70.9 72.2h0.9v0.9h-0.9zM84.3 101.9h0.9v0.9h-0.9zM87.7 107.6h0.9v0.9h-0.9zM84.0 103.4h0.9v0.9h-0.9zM84.2 105.0h0.9v0.9h-0.9zM85.7 97.8h0.9v0.9h-0.9zM91.9 101.9h0.9v0.9h-0.9zM92.7 98.5h0.9v0.9h-0.9zM66.0 77.9h0.9v0.9h-0.9zM61.6 79.1h0.9v0.9h-0.9zM92.9 97.1h0.9v0.9h-0.9zM86.4 96.2h0.9v0.9h-0.9zM70.9 74.3h0.9v0.9h-0.9zM89.7 92.4h0.9v0.9h-0.9zM84.0 103.6h0.9v0.9h-0.9zM69.2 71.2h0.9v0.9h-0.9zM71.0 74.1h0.9v0.9h-0.9zM59.7 77.3h0.9v0.9h-0.9z" fill="#348cec"/>
<path d="M88.7 93.0h0.9v0.9h-0.9zM63.2 71.9h0.9v0.9h-0.9zM90.8 92.3h0.9v0.9h-0.9zM92.8 96.4h0.9v0.9h-0.9zM85.4 99.0h0.9v0.9h-0.9zM90.9 103.9h0.9v0.9h-0.9zM92.1 101.1h0.9v0.9h-0.9zM65.7 71.1h0.9v0.9h-0.9zM62.7 72.2h0.9v0.9h-0.9zM61.5 79.0h0.9v0.9h-0.9zM63.1 72.0h0.9v0.9h-0.9z" fill="#3494ec"/>
<path d="M90.5 92.4h0.9v0.9h-0.9zM86.7 107.7h0.9v0.9h-0.9z" fill="#3494e4"/>
<path d="M66.2 77.7h0.9v0.9h-0.9zM66.6 77.6h0.9v0.9h-0.9zM68.2 71.1h0.9v0.9h-0.9zM63.2 78.8h0.9v0.9h-0.9zM69.1 71.4h0.9v0.9h-0.9zM60.9 78.7h0.9v0.9h-0.9zM70.0 71.8h0.9v0.9h-0.9zM67.4 71.0h0.9v0.9h-0.9zM84.6 101.6h0.9v0.9h-0.9zM85.6 98.6h0.9v0.9h-0.9zM70.9 74.0h0.9v0.9h-0.9zM61.5 73.3h0.9v0.9h-0.9zM67.8 71.0h0.9v0.9h-0.9zM91.8 93.6h0.9v0.9h-0.9zM60.0 75.5h0.9v0.9h-0.9zM61.9 79.0h0.9v0.9h-0.9zM90.5 92.5h0.9v0.9h-0.9z" fill="#349ce4"/>
<path d="M70.7 74.1h0.9v0.9h-0.9zM69.2 76.0h0.9v0.9h-0.9zM70.2 72.0h0.9v0.9h-0.9zM69.0 71.4h0.9v0.9h-0.9zM60.3 74.9h0.9v0.9h-0.9zM69.9 71.9h0.9v0.9h-0.9zM85.9 97.7h0.9v0.9h-0.9zM70.2 74.8h0.9v0.9h-0.9zM60.3 78.1h0.9v0.9h-0.9zM84.9 106.3h0.9v0.9h-0.9zM70.6 74.2h0.9v0.9h-0.9zM61.5 73.4h0.9v0.9h-0.9zM90.8 92.6h0.9v0.9h-0.9zM90.2 92.5h0.9v0.9h-0.9z" fill="#349cdc"/>
<path d="M70.9 73.5h0.9v0.9h-0.9zM60.1 77.6h0.9v0.9h-0.9zM92.3 94.7h0.9v0.9h-0.9zM64.8 71.4h0.9v0.9h-0.9zM62.2 78.9h0.9v0.9h-0.9z" fill="#34a4dc"/>
<path d="M70.8 73.9h0.9v0.9h-0.9zM60.2 77.9h0.9v0.9h-0.9zM61.9 73.1h0.9v0.9h-0.9zM86.2 107.5h0.9v0.9h-0.9zM84.2 103.7h0.9v0.9h-0.9zM92.3 99.4h0.9v0.9h-0.9zM68.2 76.7h0.9v0.9h-0.9zM69.5 75.6h0.9v0.9h-0.9z" fill="#34a4d4"/>
<path d="M70.1 74.9h0.9v0.9h-0.9zM66.7 77.4h0.9v0.9h-0.9zM84.2 103.5h0.9v0.9h-0.9zM70.6 74.1h0.9v0.9h-0.9zM90.7 92.7h0.9v0.9h-0.9z" fill="#3ca4d4"/>
<path d="M86.1 107.4h0.9v0.9h-0.9zM85.3 106.9h0.9v0.9h-0.9zM60.0 76.3h0.9v0.9h-0.9zM92.5 98.5h0.9v0.9h-0.9zM89.4 92.8h0.9v0.9h-0.9zM84.2 103.1h0.9v0.9h-0.9zM70.5 74.3h0.9v0.9h-0.9zM90.1 92.6h0.9v0.9h-0.9zM70.7 73.9h0.9v0.9h-0.9zM60.8 78.4h0.9v0.9h-0.9zM62.7 72.5h0.9v0.9h-0.9zM92.3 95.0h0.9v0.9h-0.9zM92.1 94.5h0.9v0.9h-0.9z" fill="#3ca4cc"/>
<path d="M86.9 107.5h0.9v0.9h-0.9zM70.7 73.4h0.9v0.9h-0.9zM86.3 96.8h0.9v0.9h-0.9zM60.4 75.1h0.9v0.9h-0.9zM62.7 78.7h0.9v0.9h-0.9z" fill="#3caccc"/>
<path d="M85.4 106.8h0.9v0.9h-0.9zM61.9 73.2h0.9v0.9h-0.9zM86.4 96.7h0.9v0.9h-0.9zM64.4 78.0h0.9v0.9h-0.9zM70.6 73.9h0.9v0.9h-0.9zM63.2 78.5h0.9v0.9h-0.9zM67.5 71.2h0.9v0.9h-0.9zM70.0 74.8h0.9v0.9h-0.9zM88.0 107.1h0.9v0.9h-0.9zM64.0 78.2h0.9v0.9h-0.9zM86.9 95.9h0.9v0.9h-0.9zM88.4 93.8h0.9v0.9h-0.9zM90.3 104.4h0.9v0.9h-0.9zM84.9 106.1h0.9v0.9h-0.9zM70.6 73.3h0.9v0.9h-0.9zM91.9 101.2h0.9v0.9h-0.9zM89.7 105.3h0.9v0.9h-0.9zM60.9 78.4h0.9v0.9h-0.9zM91.5 102.4h0.9v0.9h-0.9zM85.0 101.0h0.9v0.9h-0.9z" fill="#3cacc4"/>
<path d="M87.3 107.4h0.9v0.9h-0.9zM91.7 101.9h0.9v0.9h-0.9zM68.7 71.5h0.9v0.9h-0.9zM92.6 96.5h0.9v0.9h-0.9zM89.9 92.8h0.9v0.9h-0.9z" fill="#3cacbc"/>
<path d="M91.8 94.0h0.9v0.9h-0.9zM65.4 71.5h0.9v0.9h-0.9zM67.3 77.0h0.9v0.9h-0.9zM70.5 73.5h0.9v0.9h-0.9zM62.9 72.5h0.9v0.9h-0.9zM69.8 74.9h0.9v0.9h-0.9z" fill="#3cb4bc"/>
<path d="M91.8 101.3h0.9v0.9h-0.9zM64.3 77.9h0.9v0.9h-0.9zM92.5 97.4h0.9v0.9h-0.9zM60.6 74.9h0.9v0.9h-0.9zM87.1 95.8h0.9v0.9h-0.9zM65.6 77.5h0.9v0.9h-0.9zM67.2 77.0h0.9v0.9h-0.9zM88.5 106.5h0.9v0.9h-0.9z" fill="#3cb4b4"/>
<path d="M69.5 72.1h0.9v0.9h-0.9zM66.6 77.2h0.9v0.9h-0.9zM90.9 103.4h0.9v0.9h-0.9zM90.2 92.8h0.9v0.9h-0.9zM88.7 93.7h0.9v0.9h-0.9zM64.2 71.9h0.9v0.9h-0.9zM70.2 74.2h0.9v0.9h-0.9zM68.7 76.0h0.9v0.9h-0.9zM70.0 72.6h0.9v0.9h-0.9zM84.5 102.6h0.9v0.9h-0.9zM60.5 75.4h0.9v0.9h-0.9zM85.7 99.1h0.9v0.9h-0.9z" fill="#44b4b4"/>
<path d="M87.2 107.3h0.9v0.9h-0.9zM88.6 93.7h0.9v0.9h-0.9z" fill="#44b4ac"/>
<path d="M66.0 71.5h0.9v0.9h-0.9zM63.0 78.4h0.9v0.9h-0.9zM84.4 103.6h0.9v0.9h-0.9zM69.8 72.4h0.9v0.9h-0.9zM91.0 103.3h0.9v0.9h-0.9zM84.9 101.4h0.9v0.9h-0.9zM70.3 73.6h0.9v0.9h-0.9zM64.2 71.9h0.9v0.9h-0.9zM84.4 104.0h0.9v0.9h-0.9zM63.2 78.3h0.9v0.9h-0.9zM92.2 99.1h0.9v0.9h-0.9zM67.1 71.4h0.9v0.9h-0.9zM62.7 72.8h0.9v0.9h-0.9zM63.1 78.3h0.9v0.9h-0.9zM91.4 102.4h0.9v0.9h-0.9zM60.6 75.1h0.9v0.9h-0.9zM60.3 76.2h0.9v0.9h-0.9zM69.2 75.4h0.9v0.9h-0.9zM63.2 78.3h0.9v0.9h-0.9zM91.6 93.9h0.9v0.9h-0.9zM88.9 106.0h0.9v0.9h-0.9zM92.1 99.3h0.9v0.9h-0.9zM69.2 72.0h0.9v0.9h-0.9zM92.2 95.2h0.9v0.9h-0.9zM62.5 78.5h0.9v0.9h-0.9z" fill="#44bcac"/>
<path d="M66.7 71.5h0.9v0.9h-0.9zM70.0 72.8h0.9v0.9h-0.9zM91.1 93.3h0.9v0.9h-0.9zM64.9 77.5h0.9v0.9h-0.9zM92.5 97.0h0.9v0.9h-0.9zM61.9 78.5h0.9v0.9h-0.9zM84.9 105.6h0.9v0.9h-0.9zM90.8 103.5h0.9v0.9h-0.9zM89.2 105.6h0.9v0.9h-0.9zM86.5 96.8h0.9v0.9h-0.9zM69.3 75.3h0.9v0.9h-0.9zM87.2 107.2h0.9v0.9h-0.9zM61.6 73.9h0.9v0.9h-0.9zM68.3 71.6h0.9v0.9h-0.9zM69.3 75.2h0.9v0.9h-0.9z" fill="#44bca4"/>
<path d="M63.0 78.3h0.9v0.9h-0.9z" fill="#44c4a4"/>
<path d="M63.5 78.1h0.9v0.9h-0.9zM69.3 72.2h0.9v0.9h-0.9zM84.5 104.0h0.9v0.9h-0.9zM88.2 106.6h0.9v0.9h-0.9zM85.7 99.6h0.9v0.9h-0.9zM88.9 105.9h0.9v0.9h-0.9zM86.6 96.6h0.9v0.9h-0.9zM92.2 98.5h0.9v0.9h-0.9zM85.8 99.2h0.9v0.9h-0.9zM68.5 71.7h0.9v0.9h-0.9zM60.9 77.9h0.9v0.9h-0.9zM89.1 93.5h0.9v0.9h-0.9zM67.5 71.5h0.9v0.9h-0.9zM63.9 77.8h0.9v0.9h-0.9zM85.0 105.8h0.9v0.9h-0.9zM91.5 102.0h0.9v0.9h-0.9zM61.3 78.2h0.9v0.9h-0.9zM87.0 107.1h0.9v0.9h-0.9zM91.3 93.7h0.9v0.9h-0.9zM84.5 104.2h0.9v0.9h-0.9zM89.2 105.5h0.9v0.9h-0.9zM61.3 78.2h0.9v0.9h-0.9z" fill="#44c49c"/>
<path d="M91.1 102.7h0.9v0.9h-0.9zM63.8 72.3h0.9v0.9h-0.9zM60.6 75.5h0.9v0.9h-0.9zM88.4 94.3h0.9v0.9h-0.9zM61.4 78.2h0.9v0.9h-0.9zM60.8 75.3h0.9v0.9h-0.9zM69.2 75.3h0.9v0.9h-0.9zM69.1 72.2h0.9v0.9h-0.9zM60.5 76.1h0.9v0.9h-0.9zM89.7 93.2h0.9v0.9h-0.9z" fill="#4cc494"/>
<path d="M61.8 78.3h0.9v0.9h-0.9zM65.2 71.8h0.9v0.9h-0.9zM91.1 102.9h0.9v0.9h-0.9zM64.4 72.0h0.9v0.9h-0.9zM88.1 94.6h0.9v0.9h-0.9zM91.4 93.9h0.9v0.9h-0.9zM90.7 93.3h0.9v0.9h-0.9z" fill="#4ccc94"/>
<path d="M84.6 104.5h0.9v0.9h-0.9zM62.3 73.5h0.9v0.9h-0.9zM87.4 95.6h0.9v0.9h-0.9zM89.3 105.3h0.9v0.9h-0.9zM67.6 71.7h0.9v0.9h-0.9zM85.1 105.7h0.9v0.9h-0.9zM60.8 75.4h0.9v0.9h-0.9zM88.0 106.6h0.9v0.9h-0.9zM90.9 93.5h0.9v0.9h-0.9zM90.0 93.2h0.9v0.9h-0.9zM65.2 77.2h0.9v0.9h-0.9zM61.2 74.7h0.9v0.9h-0.9zM91.4 94.0h0.9v0.9h-0.9zM67.1 71.7h0.9v0.9h-0.9zM62.2 78.2h0.9v0.9h-0.9zM69.6 74.4h0.9v0.9h-0.9zM89.7 104.8h0.9v0.9h-0.9zM64.1 72.2h0.9v0.9h-0.9zM60.7 75.8h0.9v0.9h-0.9z" fill="#4ccc8c"/>
<path d="M61.7 74.1h0.9v0.9h-0.9zM60.7 76.0h0.9v0.9h-0.9zM69.6 72.8h0.9v0.9h-0.9zM66.6 76.8h0.9v0.9h-0.9zM66.5 76.9h0.9v0.9h-0.9zM85.4 100.9h0.9v0.9h-0.9zM60.7 76.1h0.9v0.9h-0.9z" fill="#4ccc84"/>
<path d="M69.1 72.3h0.9v0.9h-0.9zM63.0 78.0h0.9v0.9h-0.9zM85.1 101.6h0.9v0.9h-0.9zM61.0 75.1h0.9v0.9h-0.9zM86.3 106.9h0.9v0.9h-0.9zM62.9 78.0h0.9v0.9h-0.9zM61.6 74.3h0.9v0.9h-0.9zM64.7 77.3h0.9v0.9h-0.9zM88.0 106.5h0.9v0.9h-0.9zM91.6 100.9h0.9v0.9h-0.9zM61.1 75.0h0.9v0.9h-0.9z" fill="#4cd484"/>
<path d="M63.2 72.8h0.9v0.9h-0.9zM84.6 102.9h0.9v0.9h-0.9zM89.2 93.6h0.9v0.9h-0.9zM91.1 93.7h0.9v0.9h-0.9zM89.1 105.4h0.9v0.9h-0.9zM92.0 95.3h0.9v0.9h-0.9zM63.5 72.7h0.9v0.9h-0.9zM61.1 77.7h0.9v0.9h-0.9zM68.0 71.9h0.9v0.9h-0.9zM88.6 94.2h0.9v0.9h-0.9zM68.8 75.4h0.9v0.9h-0.9zM84.6 103.3h0.9v0.9h-0.9zM87.0 96.3h0.9v0.9h-0.9zM64.9 72.0h0.9v0.9h-0.9zM89.5 93.5h0.9v0.9h-0.9zM88.7 105.9h0.9v0.9h-0.9zM69.2 72.6h0.9v0.9h-0.9zM92.2 97.7h0.9v0.9h-0.9z" fill="#4cd47c"/>
<path d="M63.2 72.9h0.9v0.9h-0.9zM68.2 72.0h0.9v0.9h-0.9zM64.8 72.1h0.9v0.9h-0.9zM69.7 73.9h0.9v0.9h-0.9zM64.0 77.4h0.9v0.9h-0.9zM88.6 105.9h0.9v0.9h-0.9zM68.3 72.1h0.9v0.9h-0.9zM61.4 77.8h0.9v0.9h-0.9zM65.9 76.9h0.9v0.9h-0.9zM87.6 95.5h0.9v0.9h-0.9zM61.7 74.4h0.9v0.9h-0.9zM60.8 76.7h0.9v0.9h-0.9zM88.3 94.6h0.9v0.9h-0.9zM62.9 77.8h0.9v0.9h-0.9zM86.8 96.8h0.9v0.9h-0.9zM65.8 71.9h0.9v0.9h-0.9zM64.0 77.4h0.9v0.9h-0.9zM66.2 76.8h0.9v0.9h-0.9zM69.5 74.1h0.9v0.9h-0.9zM66.1 76.8h0.9v0.9h-0.9zM61.2 75.1h0.9v0.9h-0.9zM65.5 77.0h0.9v0.9h-0.9zM65.8 72.0h0.9v0.9h-0.9zM61.2 75.1h0.9v0.9h-0.9zM85.7 100.1h0.9v0.9h-0.9zM68.2 72.1h0.9v0.9h-0.9zM91.2 102.2h0.9v0.9h-0.9zM89.9 104.3h0.9v0.9h-0.9zM68.9 72.6h0.9v0.9h-0.9zM90.3 103.8h0.9v0.9h-0.9zM86.0 106.6h0.9v0.9h-0.9zM62.7 77.8h0.9v0.9h-0.9zM85.6 106.2h0.9v0.9h-0.9zM86.3 106.7h0.9v0.9h-0.9z" fill="#54d474"/>
<path d="M85.1 101.8h0.9v0.9h-0.9zM68.7 72.4h0.9v0.9h-0.9zM61.9 74.4h0.9v0.9h-0.9zM91.3 101.8h0.9v0.9h-0.9zM85.3 101.5h0.9v0.9h-0.9zM63.0 77.6h0.9v0.9h-0.9zM62.9 73.4h0.9v0.9h-0.9zM61.1 77.0h0.9v0.9h-0.9zM65.4 72.1h0.9v0.9h-0.9zM84.9 104.9h0.9v0.9h-0.9zM63.1 73.2h0.9v0.9h-0.9zM91.2 94.1h0.9v0.9h-0.9zM90.1 104.0h0.9v0.9h-0.9zM61.0 76.5h0.9v0.9h-0.9zM61.4 77.5h0.9v0.9h-0.9zM66.6 72.0h0.9v0.9h-0.9zM68.3 75.6h0.9v0.9h-0.9zM65.7 72.1h0.9v0.9h-0.9zM88.8 94.2h0.9v0.9h-0.9zM66.9 76.4h0.9v0.9h-0.9zM67.8 72.1h0.9v0.9h-0.9zM61.8 74.6h0.9v0.9h-0.9zM65.2 76.9h0.9v0.9h-0.9zM91.2 101.9h0.9v0.9h-0.9z" fill="#54dc74"/>
<path d="M85.7 106.3h0.9v0.9h-0.9zM89.1 93.9h0.9v0.9h-0.9zM62.2 74.2h0.9v0.9h-0.9zM90.2 93.6h0.9v0.9h-0.9zM61.5 77.5h0.9v0.9h-0.9zM63.3 73.1h0.9v0.9h-0.9zM61.3 77.3h0.9v0.9h-0.9zM69.1 74.5h0.9v0.9h-0.9zM61.1 76.5h0.9v0.9h-0.9zM92.0 98.1h0.9v0.9h-0.9zM65.7 72.1h0.9v0.9h-0.9zM61.5 75.1h0.9v0.9h-0.9zM61.7 77.5h0.9v0.9h-0.9zM84.9 102.5h0.9v0.9h-0.9zM61.3 77.2h0.9v0.9h-0.9zM65.0 72.2h0.9v0.9h-0.9zM64.8 76.9h0.9v0.9h-0.9zM90.0 104.1h0.9v0.9h-0.9zM92.0 95.9h0.9v0.9h-0.9zM69.2 73.2h0.9v0.9h-0.9zM61.2 76.9h0.9v0.9h-0.9zM68.9 72.8h0.9v0.9h-0.9zM62.0 77.6h0.9v0.9h-0.9zM68.4 72.4h0.9v0.9h-0.9zM85.4 101.3h0.9v0.9h-0.9zM89.4 93.8h0.9v0.9h-0.9zM61.5 77.3h0.9v0.9h-0.9zM89.5 93.8h0.9v0.9h-0.9zM65.2 72.2h0.9v0.9h-0.9zM65.7 76.7h0.9v0.9h-0.9zM87.0 106.6h0.9v0.9h-0.9zM64.3 76.9h0.9v0.9h-0.9zM64.4 72.5h0.9v0.9h-0.9zM86.5 97.6h0.9v0.9h-0.9zM91.5 94.6h0.9v0.9h-0.9zM89.1 94.0h0.9v0.9h-0.9zM63.8 72.9h0.9v0.9h-0.9zM66.4 72.1h0.9v0.9h-0.9zM84.9 104.5h0.9v0.9h-0.9zM62.4 77.5h0.9v0.9h-0.9zM67.4 76.0h0.9v0.9h-0.9zM61.3 75.9h0.9v0.9h-0.9zM89.7 104.3h0.9v0.9h-0.9zM85.3 101.6h0.9v0.9h-0.9zM89.6 104.5h0.9v0.9h-0.9zM68.7 74.9h0.9v0.9h-0.9zM68.0 75.6h0.9v0.9h-0.9z" fill="#54dc6c"/>
<path d="M89.5 93.8h0.9v0.9h-0.9zM66.3 72.1h0.9v0.9h-0.9zM64.1 76.9h0.9v0.9h-0.9zM67.4 76.1h0.9v0.9h-0.9zM86.1 99.4h0.9v0.9h-0.9zM84.8 103.5h0.9v0.9h-0.9zM61.9 74.9h0.9v0.9h-0.9zM67.8 75.8h0.9v0.9h-0.9zM91.8 98.9h0.9v0.9h-0.9zM91.4 101.1h0.9v0.9h-0.9zM90.6 93.8h0.9v0.9h-0.9zM62.2 74.5h0.9v0.9h-0.9zM68.9 74.6h0.9v0.9h-0.9zM62.0 74.7h0.9v0.9h-0.9zM66.9 72.2h0.9v0.9h-0.9zM91.5 94.9h0.9v0.9h-0.9zM67.5 72.2h0.9v0.9h-0.9zM61.5 75.5h0.9v0.9h-0.9zM68.7 72.9h0.9v0.9h-0.9zM86.2 106.4h0.9v0.9h-0.9zM84.9 102.9h0.9v0.9h-0.9zM61.6 75.4h0.9v0.9h-0.9zM89.2 104.8h0.9v0.9h-0.9zM85.9 106.2h0.9v0.9h-0.9zM69.1 73.8h0.9v0.9h-0.9z" fill="#5cdc6c"/>
<path d="M63.4 73.3h0.9v0.9h-0.9zM62.4 77.3h0.9v0.9h-0.9zM84.9 103.7h0.9v0.9h-0.9zM61.7 77.1h0.9v0.9h-0.9zM64.0 76.8h0.9v0.9h-0.9zM87.2 106.5h0.9v0.9h-0.9zM68.2 75.3h0.9v0.9h-0.9zM90.3 103.4h0.9v0.9h-0.9zM92.0 97.8h0.9v0.9h-0.9zM61.8 75.2h0.9v0.9h-0.9zM61.7 77.0h0.9v0.9h-0.9zM69.0 73.5h0.9v0.9h-0.9zM85.5 101.4h0.9v0.9h-0.9zM61.6 75.8h0.9v0.9h-0.9zM62.5 74.4h0.9v0.9h-0.9zM68.3 72.7h0.9v0.9h-0.9zM61.8 77.1h0.9v0.9h-0.9zM64.9 76.6h0.9v0.9h-0.9zM61.5 76.3h0.9v0.9h-0.9zM85.3 101.9h0.9v0.9h-0.9zM64.2 72.8h0.9v0.9h-0.9zM61.6 75.8h0.9v0.9h-0.9zM85.7 106.0h0.9v0.9h-0.9zM62.2 77.2h0.9v0.9h-0.9zM62.4 74.6h0.9v0.9h-0.9zM85.0 102.7h0.9v0.9h-0.9zM91.4 94.8h0.9v0.9h-0.9zM68.4 72.8h0.9v0.9h-0.9zM61.6 76.1h0.9v0.9h-0.9zM66.5 76.3h0.9v0.9h-0.9zM63.6 76.8h0.9v0.9h-0.9zM90.8 102.5h0.9v0.9h-0.9zM63.7 73.2h0.9v0.9h-0.9zM68.6 74.7h0.9v0.9h-0.9zM85.5 101.4h0.9v0.9h-0.9zM67.9 72.5h0.9v0.9h-0.9zM85.9 100.4h0.9v0.9h-0.9zM61.8 76.9h0.9v0.9h-0.9zM67.8 75.6h0.9v0.9h-0.9zM86.7 97.6h0.9v0.9h-0.9zM63.8 76.7h0.9v0.9h-0.9zM84.9 103.8h0.9v0.9h-0.9zM85.1 104.6h0.9v0.9h-0.9zM66.1 72.3h0.9v0.9h-0.9zM61.7 76.6h0.9v0.9h-0.9zM91.8 98.3h0.9v0.9h-0.9zM62.8 74.2h0.9v0.9h-0.9zM67.1 76.0h0.9v0.9h-0.9zM67.9 75.5h0.9v0.9h-0.9zM63.1 73.9h0.9v0.9h-0.9zM62.9 76.9h0.9v0.9h-0.9zM62.4 74.8h0.9v0.9h-0.9zM91.7 99.1h0.9v0.9h-0.9zM63.8 73.2h0.9v0.9h-0.9zM89.5 94.0h0.9v0.9h-0.9zM65.2 76.4h0.9v0.9h-0.9zM88.7 105.3h0.9v0.9h-0.9zM66.1 76.3h0.9v0.9h-0.9zM65.7 72.4h0.9v0.9h-0.9zM65.5 76.4h0.9v0.9h-0.9zM62.6 76.8h0.9v0.9h-0.9zM67.5 72.5h0.9v0.9h-0.9zM64.6 76.4h0.9v0.9h-0.9zM85.0 103.2h0.9v0.9h-0.9zM62.3 75.1h0.9v0.9h-0.9zM86.3 99.1h0.9v0.9h-0.9zM86.0 106.1h0.9v0.9h-0.9zM87.0 106.4h0.9v0.9h-0.9zM63.2 73.9h0.9v0.9h-0.9zM85.8 100.8h0.9v0.9h-0.9zM66.9 76.0h0.9v0.9h-0.9z" fill="#5cdc64"/>
<path d="M68.7 74.1h0.9v0.9h-0.9zM67.6 75.6h0.9v0.9h-0.9zM91.3 100.6h0.9v0.9h-0.9zM63.7 73.4h0.9v0.9h-0.9zM62.5 76.7h0.9v0.9h-0.9zM91.8 98.4h0.9v0.9h-0.9zM90.6 94.1h0.9v0.9h-0.9zM66.7 72.4h0.9v0.9h-0.9zM68.6 73.5h0.9v0.9h-0.9zM67.0 75.9h0.9v0.9h-0.9zM90.3 94.0h0.9v0.9h-0.9zM68.6 73.4h0.9v0.9h-0.9zM68.3 74.8h0.9v0.9h-0.9zM67.8 75.4h0.9v0.9h-0.9zM90.5 102.9h0.9v0.9h-0.9zM62.8 76.6h0.9v0.9h-0.9zM62.3 76.4h0.9v0.9h-0.9zM64.6 72.8h0.9v0.9h-0.9zM64.1 76.3h0.9v0.9h-0.9zM91.3 100.7h0.9v0.9h-0.9z" fill="#5cdc5c"/>
<path d="M87.6 106.1h0.9v0.9h-0.9zM90.7 102.5h0.9v0.9h-0.9zM63.4 73.8h0.9v0.9h-0.9zM91.2 101.0h0.9v0.9h-0.9zM62.2 76.0h0.9v0.9h-0.9zM63.2 76.4h0.9v0.9h-0.9zM65.7 72.6h0.9v0.9h-0.9zM86.6 97.9h0.9v0.9h-0.9zM86.3 106.2h0.9v0.9h-0.9zM63.7 76.3h0.9v0.9h-0.9zM63.2 74.2h0.9v0.9h-0.9zM85.9 105.9h0.9v0.9h-0.9zM85.4 102.1h0.9v0.9h-0.9zM68.5 73.9h0.9v0.9h-0.9zM62.5 76.1h0.9v0.9h-0.9zM62.9 74.8h0.9v0.9h-0.9zM85.7 101.3h0.9v0.9h-0.9zM68.2 74.9h0.9v0.9h-0.9zM62.6 76.0h0.9v0.9h-0.9zM87.7 106.0h0.9v0.9h-0.9zM66.1 72.6h0.9v0.9h-0.9zM85.6 105.5h0.9v0.9h-0.9zM64.5 76.2h0.9v0.9h-0.9zM62.7 75.4h0.9v0.9h-0.9zM85.1 103.5h0.9v0.9h-0.9zM91.6 95.8h0.9v0.9h-0.9zM63.7 76.1h0.9v0.9h-0.9zM63.2 76.1h0.9v0.9h-0.9zM91.5 95.3h0.9v0.9h-0.9zM86.3 106.1h0.9v0.9h-0.9zM62.8 75.5h0.9v0.9h-0.9zM65.1 76.2h0.9v0.9h-0.9zM68.3 73.4h0.9v0.9h-0.9zM87.2 106.2h0.9v0.9h-0.9zM65.2 72.8h0.9v0.9h-0.9zM64.0 76.1h0.9v0.9h-0.9zM63.9 73.5h0.9v0.9h-0.9zM66.9 75.8h0.9v0.9h-0.9zM89.0 104.7h0.9v0.9h-0.9zM64.0 76.1h0.9v0.9h-0.9zM63.0 75.0h0.9v0.9h-0.9zM86.6 98.1h0.9v0.9h-0.9zM89.6 104.1h0.9v0.9h-0.9z" fill="#64dc5c"/>
<path d="M90.4 94.2h0.9v0.9h-0.9zM65.6 72.7h0.9v0.9h-0.9zM67.0 75.7h0.9v0.9h-0.9zM67.7 75.2h0.9v0.9h-0.9zM63.3 75.8h0.9v0.9h-0.9zM63.3 74.4h0.9v0.9h-0.9zM87.9 95.8h0.9v0.9h-0.9zM85.5 105.2h0.9v0.9h-0.9zM91.5 95.5h0.9v0.9h-0.9zM66.5 72.7h0.9v0.9h-0.9zM68.3 74.0h0.9v0.9h-0.9zM91.7 96.1h0.9v0.9h-0.9zM63.6 75.8h0.9v0.9h-0.9zM68.3 73.9h0.9v0.9h-0.9zM85.2 104.2h0.9v0.9h-0.9zM88.6 105.1h0.9v0.9h-0.9zM63.9 75.9h0.9v0.9h-0.9zM67.5 72.9h0.9v0.9h-0.9zM88.9 94.7h0.9v0.9h-0.9zM87.2 96.8h0.9v0.9h-0.9zM65.4 76.0h0.9v0.9h-0.9zM91.7 96.4h0.9v0.9h-0.9zM86.9 106.1h0.9v0.9h-0.9zM67.9 74.9h0.9v0.9h-0.9zM91.1 94.9h0.9v0.9h-0.9zM67.7 75.1h0.9v0.9h-0.9zM91.3 95.2h0.9v0.9h-0.9zM85.5 102.1h0.9v0.9h-0.9zM67.2 75.5h0.9v0.9h-0.9zM66.9 72.8h0.9v0.9h-0.9zM88.1 105.5h0.9v0.9h-0.9zM63.5 74.4h0.9v0.9h-0.9zM87.0 106.1h0.9v0.9h-0.9zM88.9 94.8h0.9v0.9h-0.9zM89.5 94.3h0.9v0.9h-0.9zM86.4 99.1h0.9v0.9h-0.9zM65.0 73.1h0.9v0.9h-0.9zM91.2 100.6h0.9v0.9h-0.9zM66.8 75.6h0.9v0.9h-0.9zM86.3 99.9h0.9v0.9h-0.9zM66.0 75.9h0.9v0.9h-0.9zM64.0 73.9h0.9v0.9h-0.9zM86.9 97.5h0.9v0.9h-0.9zM63.6 74.7h0.9v0.9h-0.9zM91.0 101.2h0.9v0.9h-0.9zM85.4 102.7h0.9v0.9h-0.9zM91.7 97.7h0.9v0.9h-0.9zM86.7 98.0h0.9v0.9h-0.9zM66.3 72.9h0.9v0.9h-0.9zM85.2 103.3h0.9v0.9h-0.9zM66.1 75.8h0.9v0.9h-0.9zM91.0 94.9h0.9v0.9h-0.9zM68.0 74.0h0.9v0.9h-0.9zM85.3 104.2h0.9v0.9h-0.9z" fill="#64dc54"/>
<path d="M86.2 105.8h0.9v0.9h-0.9zM91.2 100.4h0.9v0.9h-0.9zM86.2 105.8h0.9v0.9h-0.9zM66.3 73.0h0.9v0.9h-0.9zM87.0 106.0h0.9v0.9h-0.9zM67.9 74.1h0.9v0.9h-0.9zM67.9 74.2h0.9v0.9h-0.9zM63.8 74.8h0.9v0.9h-0.9zM91.6 96.2h0.9v0.9h-0.9zM91.7 97.0h0.9v0.9h-0.9zM91.6 96.2h0.9v0.9h-0.9zM90.0 94.4h0.9v0.9h-0.9zM90.3 102.8h0.9v0.9h-0.9zM67.5 75.0h0.9v0.9h-0.9zM67.7 73.6h0.9v0.9h-0.9zM67.3 75.1h0.9v0.9h-0.9zM67.9 74.2h0.9v0.9h-0.9zM64.7 73.4h0.9v0.9h-0.9zM91.0 101.1h0.9v0.9h-0.9zM63.9 74.3h0.9v0.9h-0.9zM88.5 105.0h0.9v0.9h-0.9zM67.1 73.1h0.9v0.9h-0.9zM88.2 95.6h0.9v0.9h-0.9zM64.3 73.8h0.9v0.9h-0.9zM67.8 74.2h0.9v0.9h-0.9zM63.9 74.5h0.9v0.9h-0.9zM90.7 102.0h0.9v0.9h-0.9zM90.8 101.6h0.9v0.9h-0.9zM64.1 75.1h0.9v0.9h-0.9zM64.8 75.6h0.9v0.9h-0.9zM64.7 75.5h0.9v0.9h-0.9zM64.2 74.0h0.9v0.9h-0.9zM64.8 73.5h0.9v0.9h-0.9zM65.9 73.1h0.9v0.9h-0.9zM65.0 75.6h0.9v0.9h-0.9zM64.8 75.5h0.9v0.9h-0.9zM67.2 73.3h0.9v0.9h-0.9zM66.2 75.5h0.9v0.9h-0.9zM67.7 74.4h0.9v0.9h-0.9zM90.9 101.2h0.9v0.9h-0.9z" fill="#6cdc4c"/>
<path d="M65.6 73.2h0.9v0.9h-0.9zM90.7 101.9h0.9v0.9h-0.9zM65.0 75.5h0.9v0.9h-0.9zM90.8 94.8h0.9v0.9h-0.9zM65.5 75.6h0.9v0.9h-0.9zM89.0 94.9h0.9v0.9h-0.9zM89.3 94.7h0.9v0.9h-0.9zM91.3 99.2h0.9v0.9h-0.9zM64.2 74.7h0.9v0.9h-0.9zM67.6 74.3h0.9v0.9h-0.9zM90.9 101.3h0.9v0.9h-0.9zM64.4 75.1h0.9v0.9h-0.9zM64.4 75.1h0.9v0.9h-0.9zM90.5 94.6h0.9v0.9h-0.9zM64.2 74.7h0.9v0.9h-0.9zM89.3 94.7h0.9v0.9h-0.9zM64.4 75.1h0.9v0.9h-0.9zM67.6 74.2h0.9v0.9h-0.9zM65.1 75.5h0.9v0.9h-0.9zM85.6 104.9h0.9v0.9h-0.9zM67.1 74.9h0.9v0.9h-0.9zM66.3 75.4h0.9v0.9h-0.9zM65.6 73.3h0.9v0.9h-0.9zM67.4 73.7h0.9v0.9h-0.9zM67.0 73.4h0.9v0.9h-0.9z" fill="#6ce44c"/>
<path d="M66.7 75.2h0.9v0.9h-0.9zM66.9 73.4h0.9v0.9h-0.9zM86.0 101.4h0.9v0.9h-0.9zM67.2 73.5h0.9v0.9h-0.9zM67.3 73.7h0.9v0.9h-0.9zM91.6 97.7h0.9v0.9h-0.9zM86.7 105.8h0.9v0.9h-0.9zM64.5 74.2h0.9v0.9h-0.9zM91.2 95.5h0.9v0.9h-0.9zM88.0 96.0h0.9v0.9h-0.9zM64.8 75.2h0.9v0.9h-0.9zM91.1 99.9h0.9v0.9h-0.9zM85.4 103.8h0.9v0.9h-0.9zM65.0 75.3h0.9v0.9h-0.9zM91.0 95.3h0.9v0.9h-0.9zM89.1 94.9h0.9v0.9h-0.9zM67.3 73.8h0.9v0.9h-0.9zM86.5 99.6h0.9v0.9h-0.9zM86.6 99.3h0.9v0.9h-0.9zM66.0 75.3h0.9v0.9h-0.9z" fill="#6ce444"/>
<path d="M85.5 103.2h0.9v0.9h-0.9zM65.0 73.8h0.9v0.9h-0.9zM65.5 75.3h0.9v0.9h-0.9zM65.1 73.7h0.9v0.9h-0.9zM66.7 75.0h0.9v0.9h-0.9zM85.7 102.4h0.9v0.9h-0.9zM65.3 73.6h0.9v0.9h-0.9zM86.7 105.7h0.9v0.9h-0.9zM87.9 96.2h0.9v0.9h-0.9zM65.0 73.9h0.9v0.9h-0.9zM66.0 75.2h0.9v0.9h-0.9zM65.3 73.7h0.9v0.9h-0.9zM85.5 104.4h0.9v0.9h-0.9zM64.8 74.3h0.9v0.9h-0.9zM91.4 96.6h0.9v0.9h-0.9zM65.1 73.9h0.9v0.9h-0.9zM85.6 102.8h0.9v0.9h-0.9zM67.0 74.0h0.9v0.9h-0.9zM65.8 73.6h0.9v0.9h-0.9zM66.5 74.9h0.9v0.9h-0.9zM66.9 74.0h0.9v0.9h-0.9zM65.7 73.7h0.9v0.9h-0.9z" fill="#74e444"/>
<path d="M65.1 74.0h0.9v0.9h-0.9zM66.3 73.7h0.9v0.9h-0.9zM89.4 94.8h0.9v0.9h-0.9zM90.4 94.8h0.9v0.9h-0.9zM66.0 74.9h0.9v0.9h-0.9zM66.0 73.8h0.9v0.9h-0.9zM86.6 105.6h0.9v0.9h-0.9zM65.5 73.9h0.9v0.9h-0.9zM66.1 74.9h0.9v0.9h-0.9zM86.4 105.5h0.9v0.9h-0.9zM87.2 105.5h0.9v0.9h-0.9zM66.7 74.4h0.9v0.9h-0.9zM89.6 94.8h0.9v0.9h-0.9zM90.9 95.4h0.9v0.9h-0.9zM65.9 74.8h0.9v0.9h-0.9zM86.3 105.4h0.9v0.9h-0.9zM65.3 74.5h0.9v0.9h-0.9zM65.3 74.6h0.9v0.9h-0.9zM65.3 74.4h0.9v0.9h-0.9zM65.5 74.1h0.9v0.9h-0.9zM65.4 74.3h0.9v0.9h-0.9zM86.5 100.1h0.9v0.9h-0.9zM85.6 103.8h0.9v0.9h-0.9zM88.5 95.6h0.9v0.9h-0.9zM89.7 94.8h0.9v0.9h-0.9z" fill="#7ce444"/>
<path d="M89.0 104.1h0.9v0.9h-0.9zM66.0 74.6h0.9v0.9h-0.9zM66.3 74.3h0.9v0.9h-0.9zM66.2 74.2h0.9v0.9h-0.9zM66.1 74.5h0.9v0.9h-0.9zM65.7 74.2h0.9v0.9h-0.9zM86.7 105.5h0.9v0.9h-0.9zM91.3 98.3h0.9v0.9h-0.9zM90.6 101.5h0.9v0.9h-0.9zM85.9 102.3h0.9v0.9h-0.9zM88.7 104.4h0.9v0.9h-0.9zM89.5 103.4h0.9v0.9h-0.9z" fill="#84e43c"/>
<path d="M86.1 105.0h0.9v0.9h-0.9zM90.3 102.0h0.9v0.9h-0.9zM85.8 102.8h0.9v0.9h-0.9zM87.6 105.2h0.9v0.9h-0.9zM86.9 98.9h0.9v0.9h-0.9zM86.7 105.3h0.9v0.9h-0.9zM86.1 104.9h0.9v0.9h-0.9zM86.9 98.7h0.9v0.9h-0.9zM87.8 105.1h0.9v0.9h-0.9zM88.5 104.4h0.9v0.9h-0.9z" fill="#8ce43c"/>
<path d="M89.5 103.3h0.9v0.9h-0.9zM89.7 103.0h0.9v0.9h-0.9zM88.6 95.7h0.9v0.9h-0.9zM88.4 104.5h0.9v0.9h-0.9zM88.7 95.6h0.9v0.9h-0.9zM87.1 105.2h0.9v0.9h-0.9zM89.5 103.2h0.9v0.9h-0.9zM86.4 105.1h0.9v0.9h-0.9zM86.4 105.0h0.9v0.9h-0.9zM86.8 99.7h0.9v0.9h-0.9zM90.1 95.1h0.9v0.9h-0.9zM89.9 95.1h0.9v0.9h-0.9zM87.2 98.0h0.9v0.9h-0.9zM91.1 98.7h0.9v0.9h-0.9zM86.5 105.1h0.9v0.9h-0.9zM91.1 99.0h0.9v0.9h-0.9z" fill="#94e43c"/>
<path d="M87.4 105.1h0.9v0.9h-0.9zM91.2 97.2h0.9v0.9h-0.9zM91.2 97.0h0.9v0.9h-0.9zM90.2 95.2h0.9v0.9h-0.9zM87.1 105.1h0.9v0.9h-0.9zM90.8 99.7h0.9v0.9h-0.9zM85.9 103.3h0.9v0.9h-0.9zM86.1 102.2h0.9v0.9h-0.9zM87.6 97.2h0.9v0.9h-0.9zM86.7 100.5h0.9v0.9h-0.9zM87.6 97.2h0.9v0.9h-0.9zM90.2 101.8h0.9v0.9h-0.9z" fill="#9ce434"/>
<path d="M86.1 104.5h0.9v0.9h-0.9zM89.1 103.6h0.9v0.9h-0.9zM89.9 95.2h0.9v0.9h-0.9zM86.7 105.0h0.9v0.9h-0.9zM90.7 100.2h0.9v0.9h-0.9zM90.3 95.4h0.9v0.9h-0.9zM90.2 101.7h0.9v0.9h-0.9zM88.2 104.5h0.9v0.9h-0.9zM89.6 102.9h0.9v0.9h-0.9zM86.3 104.7h0.9v0.9h-0.9zM91.1 98.3h0.9v0.9h-0.9zM90.6 95.6h0.9v0.9h-0.9zM86.0 103.9h0.9v0.9h-0.9zM86.0 103.8h0.9v0.9h-0.9zM90.9 99.3h0.9v0.9h-0.9zM86.6 104.9h0.9v0.9h-0.9zM89.7 102.7h0.9v0.9h-0.9zM89.3 103.3h0.9v0.9h-0.9zM86.0 104.2h0.9v0.9h-0.9zM90.6 100.6h0.9v0.9h-0.9zM86.4 104.8h0.9v0.9h-0.9zM90.5 100.9h0.9v0.9h-0.9zM87.1 98.7h0.9v0.9h-0.9z" fill="#a4e434"/>
<path d="M86.1 104.3h0.9v0.9h-0.9zM91.1 97.7h0.9v0.9h-0.9zM86.8 104.9h0.9v0.9h-0.9zM90.5 100.9h0.9v0.9h-0.9zM86.8 100.5h0.9v0.9h-0.9zM88.9 95.8h0.9v0.9h-0.9zM86.4 101.8h0.9v0.9h-0.9zM86.7 104.9h0.9v0.9h-0.9zM88.0 96.7h0.9v0.9h-0.9zM88.6 104.0h0.9v0.9h-0.9zM88.1 104.4h0.9v0.9h-0.9zM90.0 95.4h0.9v0.9h-0.9z" fill="#ace434"/>
<path d="M89.3 103.0h0.9v0.9h-0.9zM89.3 103.0h0.9v0.9h-0.9zM91.0 97.2h0.9v0.9h-0.9zM86.5 104.6h0.9v0.9h-0.9zM90.6 95.9h0.9v0.9h-0.9zM87.7 97.3h0.9v0.9h-0.9zM87.0 99.9h0.9v0.9h-0.9zM91.0 97.6h0.9v0.9h-0.9zM87.0 104.8h0.9v0.9h-0.9zM86.4 104.4h0.9v0.9h-0.9zM88.2 96.5h0.9v0.9h-0.9zM91.0 97.3h0.9v0.9h-0.9zM90.8 96.4h0.9v0.9h-0.9zM91.0 96.9h0.9v0.9h-0.9z" fill="#b4e42c"/>
<path d="M86.8 100.9h0.9v0.9h-0.9zM90.4 95.8h0.9v0.9h-0.9zM87.5 97.9h0.9v0.9h-0.9zM90.3 95.7h0.9v0.9h-0.9zM87.0 100.3h0.9v0.9h-0.9zM86.2 103.3h0.9v0.9h-0.9zM89.7 95.6h0.9v0.9h-0.9zM88.9 95.9h0.9v0.9h-0.9zM90.1 95.6h0.9v0.9h-0.9zM87.6 104.5h0.9v0.9h-0.9zM90.8 98.8h0.9v0.9h-0.9zM90.5 96.0h0.9v0.9h-0.9zM89.9 95.6h0.9v0.9h-0.9zM86.5 104.3h0.9v0.9h-0.9zM87.7 104.5h0.9v0.9h-0.9z" fill="#bce42c"/>
<path d="M89.9 95.6h0.9v0.9h-0.9zM86.7 104.5h0.9v0.9h-0.9zM86.6 101.9h0.9v0.9h-0.9zM90.9 98.2h0.9v0.9h-0.9zM90.8 96.6h0.9v0.9h-0.9zM90.9 97.2h0.9v0.9h-0.9zM86.9 100.9h0.9v0.9h-0.9zM90.9 97.2h0.9v0.9h-0.9zM88.3 96.5h0.9v0.9h-0.9zM87.3 98.7h0.9v0.9h-0.9zM90.7 99.0h0.9v0.9h-0.9zM86.7 101.7h0.9v0.9h-0.9zM86.9 101.2h0.9v0.9h-0.9z" fill="#c4e42c"/>
<path d="M88.6 103.6h0.9v0.9h-0.9zM88.2 104.0h0.9v0.9h-0.9z" fill="#cce424"/>
<path d="M86.4 102.9h0.9v0.9h-0.9zM86.4 103.7h0.9v0.9h-0.9zM86.5 103.9h0.9v0.9h-0.9zM86.9 101.1h0.9v0.9h-0.9zM87.6 104.3h0.9v0.9h-0.9zM87.6 98.0h0.9v0.9h-0.9zM89.0 103.1h0.9v0.9h-0.9zM90.1 101.1h0.9v0.9h-0.9zM87.7 97.6h0.9v0.9h-0.9zM87.6 98.0h0.9v0.9h-0.9zM87.8 97.5h0.9v0.9h-0.9zM90.1 95.9h0.9v0.9h-0.9zM89.0 96.0h0.9v0.9h-0.9zM90.1 95.9h0.9v0.9h-0.9zM87.0 104.3h0.9v0.9h-0.9zM89.2 102.7h0.9v0.9h-0.9zM87.3 104.3h0.9v0.9h-0.9zM90.7 98.5h0.9v0.9h-0.9zM89.3 95.9h0.9v0.9h-0.9zM90.1 96.0h0.9v0.9h-0.9zM90.6 99.1h0.9v0.9h-0.9z" fill="#ccdc24"/>
<path d="M90.3 96.1h0.9v0.9h-0.9z" fill="#ccd424"/>
<path d="M86.5 103.4h0.9v0.9h-0.9zM86.6 103.5h0.9v0.9h-0.9zM90.6 99.0h0.9v0.9h-0.9zM87.0 101.4h0.9v0.9h-0.9zM87.1 101.1h0.9v0.9h-0.9zM86.6 103.1h0.9v0.9h-0.9zM86.7 102.3h0.9v0.9h-0.9zM88.6 103.4h0.9v0.9h-0.9zM88.5 96.6h0.9v0.9h-0.9zM87.1 104.2h0.9v0.9h-0.9zM87.1 104.2h0.9v0.9h-0.9zM87.2 100.6h0.9v0.9h-0.9zM90.7 98.1h0.9v0.9h-0.9zM86.9 104.0h0.9v0.9h-0.9zM86.9 104.0h0.9v0.9h-0.9zM87.2 100.5h0.9v0.9h-0.9z" fill="#d4d424"/>
<path d="M88.1 103.8h0.9v0.9h-0.9zM90.2 100.3h0.9v0.9h-0.9zM89.8 96.0h0.9v0.9h-0.9zM89.0 96.2h0.9v0.9h-0.9z" fill="#d4cc24"/>
<path d="M86.8 103.7h0.9v0.9h-0.9zM89.8 96.0h0.9v0.9h-0.9zM87.4 99.8h0.9v0.9h-0.9zM86.7 103.0h0.9v0.9h-0.9zM89.2 102.4h0.9v0.9h-0.9zM89.3 102.2h0.9v0.9h-0.9zM88.9 102.9h0.9v0.9h-0.9zM87.4 99.4h0.9v0.9h-0.9zM88.2 103.5h0.9v0.9h-0.9zM87.6 98.3h0.9v0.9h-0.9z" fill="#dccc24"/>
<path d="M89.2 96.2h0.9v0.9h-0.9zM89.5 96.1h0.9v0.9h-0.9zM87.4 99.8h0.9v0.9h-0.9zM87.0 103.6h0.9v0.9h-0.9zM87.6 98.9h0.9v0.9h-0.9zM87.1 101.7h0.9v0.9h-0.9zM88.4 96.9h0.9v0.9h-0.9zM90.1 96.3h0.9v0.9h-0.9zM88.2 103.4h0.9v0.9h-0.9zM90.1 100.1h0.9v0.9h-0.9z" fill="#dcc424"/>
<path d="M88.2 97.2h0.9v0.9h-0.9zM89.1 102.4h0.9v0.9h-0.9zM87.3 100.9h0.9v0.9h-0.9zM88.3 103.3h0.9v0.9h-0.9zM87.3 103.7h0.9v0.9h-0.9zM89.9 96.2h0.9v0.9h-0.9zM89.6 101.4h0.9v0.9h-0.9zM87.5 100.0h0.9v0.9h-0.9zM89.0 96.4h0.9v0.9h-0.9z" fill="#e4c424"/>
<path d="M87.4 103.7h0.9v0.9h-0.9zM88.1 97.5h0.9v0.9h-0.9zM89.0 102.4h0.9v0.9h-0.9zM90.1 96.4h0.9v0.9h-0.9zM90.5 97.4h0.9v0.9h-0.9zM89.8 100.9h0.9v0.9h-0.9zM87.8 98.0h0.9v0.9h-0.9zM87.4 100.8h0.9v0.9h-0.9zM89.3 101.9h0.9v0.9h-0.9zM89.9 100.6h0.9v0.9h-0.9zM88.5 96.9h0.9v0.9h-0.9zM90.5 98.0h0.9v0.9h-0.9zM87.1 102.0h0.9v0.9h-0.9zM89.9 100.6h0.9v0.9h-0.9zM87.4 100.4h0.9v0.9h-0.9zM87.2 101.5h0.9v0.9h-0.9zM87.7 103.6h0.9v0.9h-0.9zM88.0 103.4h0.9v0.9h-0.9zM87.6 98.9h0.9v0.9h-0.9zM89.7 101.2h0.9v0.9h-0.9zM90.3 99.1h0.9v0.9h-0.9zM90.4 97.0h0.9v0.9h-0.9zM90.1 96.5h0.9v0.9h-0.9zM87.6 103.6h0.9v0.9h-0.9zM88.8 102.7h0.9v0.9h-0.9zM89.0 96.5h0.9v0.9h-0.9zM87.1 103.1h0.9v0.9h-0.9zM88.3 103.2h0.9v0.9h-0.9zM89.8 100.7h0.9v0.9h-0.9zM88.5 103.0h0.9v0.9h-0.9zM90.2 99.6h0.9v0.9h-0.9z" fill="#e4bc24"/>
<path d="M89.5 101.5h0.9v0.9h-0.9zM90.4 98.7h0.9v0.9h-0.9zM90.3 96.9h0.9v0.9h-0.9zM89.7 101.1h0.9v0.9h-0.9zM90.0 96.4h0.9v0.9h-0.9z" fill="#ecbc24"/>
<path d="M90.4 97.6h0.9v0.9h-0.9zM90.4 98.2h0.9v0.9h-0.9zM90.4 97.2h0.9v0.9h-0.9z" fill="#ecb424"/>
<path d="M87.8 98.3h0.9v0.9h-0.9zM87.4 101.6h0.9v0.9h-0.9zM89.8 100.6h0.9v0.9h-0.9zM87.3 103.2h0.9v0.9h-0.9zM87.6 103.3h0.9v0.9h-0.9zM87.9 98.0h0.9v0.9h-0.9zM87.6 99.9h0.9v0.9h-0.9zM88.9 102.2h0.9v0.9h-0.9zM87.4 101.7h0.9v0.9h-0.9zM87.3 103.1h0.9v0.9h-0.9zM87.3 103.1h0.9v0.9h-0.9zM90.2 99.4h0.9v0.9h-0.9zM87.4 103.1h0.9v0.9h-0.9zM90.3 98.7h0.9v0.9h-0.9zM87.6 103.2h0.9v0.9h-0.9zM87.3 102.8h0.9v0.9h-0.9zM87.9 98.2h0.9v0.9h-0.9z" fill="#ecb41c"/>
<path d="M89.6 100.9h0.9v0.9h-0.9zM88.5 102.6h0.9v0.9h-0.9zM89.4 101.3h0.9v0.9h-0.9zM89.3 96.6h0.9v0.9h-0.9zM87.5 103.0h0.9v0.9h-0.9zM87.4 102.2h0.9v0.9h-0.9zM87.8 98.8h0.9v0.9h-0.9zM87.4 102.8h0.9v0.9h-0.9zM90.1 99.5h0.9v0.9h-0.9zM90.3 97.2h0.9v0.9h-0.9zM88.0 103.0h0.9v0.9h-0.9zM87.6 103.0h0.9v0.9h-0.9zM87.6 100.9h0.9v0.9h-0.9zM87.8 103.0h0.9v0.9h-0.9zM87.7 100.4h0.9v0.9h-0.9zM87.4 102.6h0.9v0.9h-0.9zM87.9 103.0h0.9v0.9h-0.9zM88.0 102.9h0.9v0.9h-0.9zM88.2 97.6h0.9v0.9h-0.9z" fill="#f4ac1c"/>
<path d="M88.4 102.5h0.9v0.9h-0.9zM88.2 97.7h0.9v0.9h-0.9zM88.4 102.6h0.9v0.9h-0.9zM90.3 98.3h0.9v0.9h-0.9zM87.6 102.6h0.9v0.9h-0.9zM87.8 99.1h0.9v0.9h-0.9zM89.4 96.7h0.9v0.9h-0.9zM88.2 97.7h0.9v0.9h-0.9zM87.8 102.7h0.9v0.9h-0.9zM90.3 98.1h0.9v0.9h-0.9z" fill="#f4a41c"/>
<path d="M87.6 101.5h0.9v0.9h-0.9zM87.9 98.9h0.9v0.9h-0.9zM87.8 102.7h0.9v0.9h-0.9zM90.2 97.6h0.9v0.9h-0.9zM88.7 97.1h0.9v0.9h-0.9zM89.5 96.7h0.9v0.9h-0.9zM88.6 102.2h0.9v0.9h-0.9zM88.8 102.0h0.9v0.9h-0.9zM88.1 102.6h0.9v0.9h-0.9zM87.7 100.8h0.9v0.9h-0.9zM89.5 100.8h0.9v0.9h-0.9zM87.6 102.3h0.9v0.9h-0.9zM88.2 102.5h0.9v0.9h-0.9zM88.3 97.7h0.9v0.9h-0.9zM87.8 100.4h0.9v0.9h-0.9zM89.0 96.9h0.9v0.9h-0.9zM88.1 102.6h0.9v0.9h-0.9z" fill="#f49c1c"/>
<path d="M88.4 97.6h0.9v0.9h-0.9zM90.2 98.2h0.9v0.9h-0.9zM90.2 98.5h0.9v0.9h-0.9zM89.3 96.8h0.9v0.9h-0.9zM87.9 102.4h0.9v0.9h-0.9zM89.6 100.4h0.9v0.9h-0.9zM87.8 101.4h0.9v0.9h-0.9zM89.7 100.1h0.9v0.9h-0.9zM87.9 99.1h0.9v0.9h-0.9zM87.8 102.3h0.9v0.9h-0.9zM89.2 96.8h0.9v0.9h-0.9zM89.8 99.7h0.9v0.9h-0.9zM87.8 102.2h0.9v0.9h-0.9zM87.8 101.5h0.9v0.9h-0.9z" fill="#f4941c"/>
<path d="M88.4 97.5h0.9v0.9h-0.9z" fill="#ec941c"/>
<path d="M88.5 97.5h0.9v0.9h-0.9zM89.4 100.9h0.9v0.9h-0.9zM88.2 102.3h0.9v0.9h-0.9zM88.0 102.3h0.9v0.9h-0.9zM88.9 101.6h0.9v0.9h-0.9zM89.5 100.5h0.9v0.9h-0.9zM88.8 101.6h0.9v0.9h-0.9zM88.0 102.1h0.9v0.9h-0.9zM88.8 101.7h0.9v0.9h-0.9z" fill="#ec8c1c"/>
<path d="M88.0 98.6h0.9v0.9h-0.9zM89.3 101.0h0.9v0.9h-0.9zM88.2 98.2h0.9v0.9h-0.9zM89.8 97.1h0.9v0.9h-0.9zM87.9 100.3h0.9v0.9h-0.9zM88.5 97.6h0.9v0.9h-0.9zM89.5 96.9h0.9v0.9h-0.9zM88.0 99.2h0.9v0.9h-0.9z" fill="#ec841c"/>
<path d="M89.6 100.2h0.9v0.9h-0.9zM88.2 101.9h0.9v0.9h-0.9zM90.0 98.9h0.9v0.9h-0.9zM88.7 97.4h0.9v0.9h-0.9zM89.6 100.0h0.9v0.9h-0.9zM88.3 98.1h0.9v0.9h-0.9zM90.0 98.4h0.9v0.9h-0.9zM89.8 97.1h0.9v0.9h-0.9zM89.9 99.2h0.9v0.9h-0.9zM88.7 101.5h0.9v0.9h-0.9zM90.0 97.6h0.9v0.9h-0.9z" fill="#ec7c1c"/>
<path d="M88.1 99.1h0.9v0.9h-0.9zM88.2 101.5h0.9v0.9h-0.9zM88.5 101.5h0.9v0.9h-0.9zM88.4 98.0h0.9v0.9h-0.9zM89.0 100.9h0.9v0.9h-0.9z" fill="#ec741c"/>
<path d="M88.1 100.2h0.9v0.9h-0.9zM88.2 98.6h0.9v0.9h-0.9zM88.9 97.3h0.9v0.9h-0.9zM89.0 97.2h0.9v0.9h-0.9zM88.4 101.4h0.9v0.9h-0.9zM88.1 100.8h0.9v0.9h-0.9zM88.1 99.3h0.9v0.9h-0.9zM89.7 97.2h0.9v0.9h-0.9zM89.7 97.2h0.9v0.9h-0.9zM88.3 101.0h0.9v0.9h-0.9z" fill="#ec6c1c"/>
<path d="M88.3 101.2h0.9v0.9h-0.9zM88.5 101.2h0.9v0.9h-0.9z" fill="#e46c1c"/>
<path d="M89.8 99.2h0.9v0.9h-0.9zM89.6 97.2h0.9v0.9h-0.9zM88.4 98.1h0.9v0.9h-0.9zM88.2 100.1h0.9v0.9h-0.9zM88.3 100.8h0.9v0.9h-0.9zM88.2 98.9h0.9v0.9h-0.9zM88.4 100.9h0.9v0.9h-0.9zM88.8 97.5h0.9v0.9h-0.9zM89.2 100.3h0.9v0.9h-0.9zM89.8 98.9h0.9v0.9h-0.9zM88.9 100.7h0.9v0.9h-0.9zM89.0 97.4h0.9v0.9h-0.9zM89.5 99.9h0.9v0.9h-0.9z" fill="#e4641c"/>
<path d="M89.8 97.7h0.9v0.9h-0.9zM89.4 100.0h0.9v0.9h-0.9zM88.4 98.2h0.9v0.9h-0.9zM88.7 100.9h0.9v0.9h-0.9zM88.3 100.2h0.9v0.9h-0.9zM89.0 97.4h0.9v0.9h-0.9zM88.5 100.7h0.9v0.9h-0.9zM88.9 97.5h0.9v0.9h-0.9zM88.3 100.1h0.9v0.9h-0.9zM88.3 99.2h0.9v0.9h-0.9z" fill="#e45c1c"/>
<path d="M89.4 99.8h0.9v0.9h-0.9zM88.5 100.6h0.9v0.9h-0.9zM88.4 100.4h0.9v0.9h-0.9zM89.5 99.4h0.9v0.9h-0.9zM89.8 98.2h0.9v0.9h-0.9zM89.8 98.1h0.9v0.9h-0.9zM89.4 97.4h0.9v0.9h-0.9zM88.3 99.0h0.9v0.9h-0.9zM89.3 97.4h0.9v0.9h-0.9z" fill="#e4541c"/>
<path d="M88.3 99.4h0.9v0.9h-0.9zM89.5 97.6h0.9v0.9h-0.9zM88.6 100.3h0.9v0.9h-0.9zM88.9 97.7h0.9v0.9h-0.9zM89.7 98.4h0.9v0.9h-0.9zM89.7 98.7h0.9v0.9h-0.9z" fill="#e44c1c"/>
<path d="M88.4 98.8h0.9v0.9h-0.9zM89.7 98.1h0.9v0.9h-0.9zM88.5 98.6h0.9v0.9h-0.9zM89.2 99.9h0.9v0.9h-0.9zM89.2 97.6h0.9v0.9h-0.9zM88.8 100.1h0.9v0.9h-0.9zM88.8 100.1h0.9v0.9h-0.9z" fill="#e4441c"/>
<path d="M88.7 98.2h0.9v0.9h-0.9z" fill="#dc441c"/>
<path d="M88.8 100.0h0.9v0.9h-0.9zM89.1 99.8h0.9v0.9h-0.9zM89.4 99.2h0.9v0.9h-0.9zM88.7 99.7h0.9v0.9h-0.9zM88.6 99.6h0.9v0.9h-0.9z" fill="#dc3c1c"/>
<path d="M89.0 99.7h0.9v0.9h-0.9zM89.4 97.9h0.9v0.9h-0.9zM88.8 98.0h0.9v0.9h-0.9zM89.0 99.7h0.9v0.9h-0.9zM89.5 98.0h0.9v0.9h-0.9zM88.9 99.7h0.9v0.9h-0.9zM89.4 97.9h0.9v0.9h-0.9zM89.0 99.7h0.9v0.9h-0.9zM89.5 98.6h0.9v0.9h-0.9zM89.1 99.6h0.9v0.9h-0.9zM88.9 99.6h0.9v0.9h-0.9zM89.3 98.0h0.9v0.9h-0.9zM89.0 99.5h0.9v0.9h-0.9zM88.7 99.4h0.9v0.9h-0.9z" fill="#dc341c"/>
<path d="M89.4 98.6h0.9v0.9h-0.9zM89.3 98.0h0.9v0.9h-0.9zM88.7 99.1h0.9v0.9h-0.9zM89.3 98.9h0.9v0.9h-0.9zM88.9 99.3h0.9v0.9h-0.9z" fill="#dc2c1c"/>
<text x="31.8" y="48.5" font-size="8.6" fill="#ff4747" textLength="23.2" lengthAdjust="spacingAndGlyphs">24.77%</text>
<text x="94" y="128.6" font-size="8.6" fill="#ff4747" textLength="23.2" lengthAdjust="spacingAndGlyphs">59.74%</text>
<text x="24.5" y="48" font-size="8.4" transform="rotate(-90 24.5 48)">10<tspan font-size="5.4" dy="-3">6</tspan></text>
<text x="24.5" y="95.5" font-size="8.4" transform="rotate(-90 24.5 95.5)">10<tspan font-size="5.4" dy="-3">4</tspan></text>
<text x="24.5" y="137.2" font-size="8.4" transform="rotate(-90 24.5 137.2)">10<tspan font-size="5.4" dy="-3">2</tspan></text>
<text x="24.8" y="144.2" font-size="8.4">10<tspan font-size="5.4" dy="-3">2</tspan></text>
<text x="72.3" y="144.2" font-size="8.4">10<tspan font-size="5.4" dy="-3">4</tspan></text>
<text x="112.3" y="144.2" font-size="8.4">10<tspan font-size="5.4" dy="-3">5.2</tspan></text>
<text x="9.5" y="105.8" font-size="8" textLength="49.3" lengthAdjust="spacingAndGlyphs" transform="rotate(-90 9.5 105.8)">hCD45 APC-H</text>
<text x="60" y="158.2" font-size="8" textLength="59.9" lengthAdjust="spacingAndGlyphs">mCD45 PerCP-H</text>
<path d="M6.2 114.4L6.2 156L48.7 156" stroke="#000" stroke-width="1" fill="none"/>
<path d="M6.2 111.4l-1.8 4.2h3.6z" stroke="#000" stroke-width="0" fill="#000"/>
<path d="M51.7 156l-4.2 -1.8v3.6z" stroke="#000" stroke-width="0" fill="#000"/>
<text x="180.7" y="14.2" font-size="11" textLength="60.6" lengthAdjust="spacingAndGlyphs">T and B cells</text>
<line x1="164.2" y1="17.8" x2="257" y2="17.8" stroke="#000" stroke-width="1.3"/>
<text x="194.7" y="31.2" font-size="9" textLength="31" lengthAdjust="spacingAndGlyphs">2 weeks</text>
<path d="M163.4 37.9H255.2V129.3" stroke="#8a8a8a" stroke-width="1" fill="none"/>
<line x1="207.8" y1="37.9" x2="207.8" y2="129.3" stroke="#707070" stroke-width="1"/>
<line x1="163.4" y1="87.2" x2="255.2" y2="87.2" stroke="#707070" stroke-width="1"/>
<path d="M161.4 52.1H163.4M161.4 68.9H163.4M161.4 87.2H163.4M161.4 104.4H163.4M161.4 127.8H163.4M164 129.3V131.3M168.3 129.3V130.4M170.82 129.3V130.4M172.61 129.3V130.4M174 129.3V130.4M175.13 129.3V130.4M176.08 129.3V130.4M176.91 129.3V130.4M177.65 129.3V130.4M178.3 129.3V131.3M182.82 129.3V130.4M185.46 129.3V130.4M187.33 129.3V130.4M188.78 129.3V130.4M189.97 129.3V130.4M190.98 129.3V130.4M191.85 129.3V130.4M192.61 129.3V130.4M193.3 129.3V131.3M197.91 129.3V130.4M200.6 129.3V130.4M202.51 129.3V130.4M203.99 129.3V130.4M205.21 129.3V130.4M206.23 129.3V130.4M207.12 129.3V130.4M207.9 129.3V130.4M208.6 129.3V131.3M213 129.3V130.4M215.57 129.3V130.4M217.39 129.3V130.4M218.8 129.3V130.4M219.96 129.3V130.4M220.94 129.3V130.4M221.79 129.3V130.4M222.53 129.3V130.4M223.2 129.3V131.3M227.75 129.3V130.4M230.4 129.3V130.4M232.29 129.3V130.4M233.75 129.3V130.4M234.95 129.3V130.4M235.96 129.3V130.4M236.84 129.3V130.4M237.61 129.3V130.4M238.3 129.3V131.3M242.85 129.3V130.4M245.5 129.3V130.4M247.39 129.3V130.4M248.85 129.3V130.4M250.05 129.3V130.4M251.06 129.3V130.4M251.94 129.3V130.4M252.71 129.3V130.4M253.4 129.3V131.3" stroke="#555" stroke-width="0.8" fill="none"/>
<path d="M163.4 37.9V129.3H255.2" stroke="#4a4a4a" stroke-width="1" fill="none"/>
<path d="M203.4 122.7h0.9v0.9h-0.9zM210.4 94.6h0.9v0.9h-0.9zM192.3 93.0h0.9v0.9h-0.9zM209.9 121.8h0.9v0.9h-0.9zM229.4 110.1h0.9v0.9h-0.9zM196.4 65.9h0.9v0.9h-0.9zM202.7 64.1h0.9v0.9h-0.9zM202.3 81.7h0.9v0.9h-0.9zM203.2 79.5h0.9v0.9h-0.9zM197.2 85.5h0.9v0.9h-0.9zM199.6 65.7h0.9v0.9h-0.9zM198.4 85.9h0.9v0.9h-0.9zM224.2 101.1h0.9v0.9h-0.9zM223.9 117.5h0.9v0.9h-0.9zM204.8 65.9h0.9v0.9h-0.9zM205.5 67.3h0.9v0.9h-0.9zM206.9 115.3h0.9v0.9h-0.9zM197.9 91.5h0.9v0.9h-0.9zM202.9 115.8h0.9v0.9h-0.9zM202.0 92.1h0.9v0.9h-0.9zM198.7 74.5h0.9v0.9h-0.9zM198.4 89.4h0.9v0.9h-0.9zM200.8 94.1h0.9v0.9h-0.9zM203.3 102.9h0.9v0.9h-0.9zM226.0 115.3h0.9v0.9h-0.9zM217.8 120.8h0.9v0.9h-0.9zM202.8 76.7h0.9v0.9h-0.9zM201.7 93.0h0.9v0.9h-0.9zM198.4 90.4h0.9v0.9h-0.9zM221.6 97.8h0.9v0.9h-0.9zM207.3 104.1h0.9v0.9h-0.9zM205.9 76.5h0.9v0.9h-0.9zM198.1 68.7h0.9v0.9h-0.9zM225.0 116.0h0.9v0.9h-0.9zM218.6 119.8h0.9v0.9h-0.9z" fill="#9494fc"/>
<path d="M223.8 103.3h0.9v0.9h-0.9zM198.6 71.1h0.9v0.9h-0.9zM198.8 77.9h0.9v0.9h-0.9zM199.4 78.4h0.9v0.9h-0.9zM198.6 118.3h0.9v0.9h-0.9zM198.6 96.6h0.9v0.9h-0.9zM205.3 110.5h0.9v0.9h-0.9zM192.5 98.2h0.9v0.9h-0.9zM200.6 76.7h0.9v0.9h-0.9zM200.0 96.7h0.9v0.9h-0.9zM193.6 119.7h0.9v0.9h-0.9zM221.2 98.6h0.9v0.9h-0.9zM220.2 98.5h0.9v0.9h-0.9zM205.2 75.9h0.9v0.9h-0.9zM200.1 77.6h0.9v0.9h-0.9zM198.9 69.1h0.9v0.9h-0.9zM223.6 114.7h0.9v0.9h-0.9zM201.1 67.6h0.9v0.9h-0.9zM189.9 105.0h0.9v0.9h-0.9zM211.0 100.0h0.9v0.9h-0.9zM225.6 111.8h0.9v0.9h-0.9zM205.3 74.8h0.9v0.9h-0.9zM215.3 98.2h0.9v0.9h-0.9zM205.6 106.2h0.9v0.9h-0.9zM204.1 74.2h0.9v0.9h-0.9zM199.7 72.5h0.9v0.9h-0.9zM204.2 70.1h0.9v0.9h-0.9zM199.4 98.0h0.9v0.9h-0.9zM199.5 98.1h0.9v0.9h-0.9zM196.4 98.8h0.9v0.9h-0.9zM200.9 73.4h0.9v0.9h-0.9zM192.9 98.9h0.9v0.9h-0.9zM195.6 98.8h0.9v0.9h-0.9zM204.2 73.0h0.9v0.9h-0.9zM190.5 109.3h0.9v0.9h-0.9zM204.2 73.1h0.9v0.9h-0.9zM214.7 98.5h0.9v0.9h-0.9zM204.1 107.8h0.9v0.9h-0.9zM194.1 118.8h0.9v0.9h-0.9zM195.0 119.3h0.9v0.9h-0.9zM200.9 68.5h0.9v0.9h-0.9zM208.8 115.6h0.9v0.9h-0.9zM207.2 111.5h0.9v0.9h-0.9zM215.0 119.9h0.9v0.9h-0.9zM206.2 106.2h0.9v0.9h-0.9zM224.8 112.2h0.9v0.9h-0.9zM201.9 102.7h0.9v0.9h-0.9zM215.0 98.8h0.9v0.9h-0.9zM192.6 99.9h0.9v0.9h-0.9zM221.5 101.2h0.9v0.9h-0.9zM200.7 72.6h0.9v0.9h-0.9zM197.4 117.7h0.9v0.9h-0.9zM195.4 118.9h0.9v0.9h-0.9zM190.7 109.6h0.9v0.9h-0.9zM213.1 99.9h0.9v0.9h-0.9zM211.4 100.8h0.9v0.9h-0.9zM225.3 108.6h0.9v0.9h-0.9zM201.3 69.2h0.9v0.9h-0.9zM225.2 109.2h0.9v0.9h-0.9zM217.8 99.7h0.9v0.9h-0.9zM196.1 118.1h0.9v0.9h-0.9zM202.7 69.7h0.9v0.9h-0.9zM201.7 71.8h0.9v0.9h-0.9zM203.2 70.5h0.9v0.9h-0.9zM190.9 104.9h0.9v0.9h-0.9zM203.2 70.9h0.9v0.9h-0.9zM201.7 71.7h0.9v0.9h-0.9zM202.1 69.8h0.9v0.9h-0.9zM193.2 116.3h0.9v0.9h-0.9z" fill="#8c8cfc"/>
<path d="M206.5 107.9h0.9v0.9h-0.9zM200.1 115.8h0.9v0.9h-0.9zM214.9 99.8h0.9v0.9h-0.9zM191.1 105.5h0.9v0.9h-0.9zM207.0 109.7h0.9v0.9h-0.9zM210.7 117.1h0.9v0.9h-0.9zM191.7 103.4h0.9v0.9h-0.9zM220.9 101.4h0.9v0.9h-0.9zM191.3 111.2h0.9v0.9h-0.9zM200.2 115.6h0.9v0.9h-0.9zM206.9 107.1h0.9v0.9h-0.9zM196.7 117.0h0.9v0.9h-0.9zM224.3 111.4h0.9v0.9h-0.9zM199.7 100.1h0.9v0.9h-0.9zM193.5 100.2h0.9v0.9h-0.9zM218.6 100.3h0.9v0.9h-0.9zM211.6 101.5h0.9v0.9h-0.9zM192.7 115.4h0.9v0.9h-0.9zM200.6 101.1h0.9v0.9h-0.9zM194.3 116.5h0.9v0.9h-0.9zM195.5 116.7h0.9v0.9h-0.9zM224.1 107.1h0.9v0.9h-0.9zM193.1 101.6h0.9v0.9h-0.9zM191.8 111.6h0.9v0.9h-0.9zM201.8 113.6h0.9v0.9h-0.9zM208.6 112.9h0.9v0.9h-0.9zM191.7 105.1h0.9v0.9h-0.9zM200.6 102.0h0.9v0.9h-0.9zM224.2 108.5h0.9v0.9h-0.9zM223.8 106.6h0.9v0.9h-0.9zM207.8 110.1h0.9v0.9h-0.9zM198.9 100.6h0.9v0.9h-0.9zM202.1 112.3h0.9v0.9h-0.9zM218.0 100.7h0.9v0.9h-0.9zM211.3 102.4h0.9v0.9h-0.9zM202.2 111.5h0.9v0.9h-0.9z" fill="#8484fc"/>
<path d="M208.0 106.9h0.9v0.9h-0.9zM200.2 102.1h0.9v0.9h-0.9zM194.8 100.6h0.9v0.9h-0.9zM198.9 100.9h0.9v0.9h-0.9zM196.6 115.8h0.9v0.9h-0.9zM220.6 102.6h0.9v0.9h-0.9zM192.7 103.7h0.9v0.9h-0.9zM193.5 102.0h0.9v0.9h-0.9zM200.0 101.8h0.9v0.9h-0.9zM220.2 102.1h0.9v0.9h-0.9zM223.1 112.0h0.9v0.9h-0.9zM223.6 108.3h0.9v0.9h-0.9zM214.9 101.2h0.9v0.9h-0.9zM207.9 108.7h0.9v0.9h-0.9zM214.1 101.5h0.9v0.9h-0.9zM212.0 116.7h0.9v0.9h-0.9zM223.0 106.0h0.9v0.9h-0.9zM216.4 118.3h0.9v0.9h-0.9zM202.2 109.6h0.9v0.9h-0.9zM200.7 114.1h0.9v0.9h-0.9zM214.5 118.1h0.9v0.9h-0.9zM194.7 101.1h0.9v0.9h-0.9zM211.1 116.1h0.9v0.9h-0.9zM199.6 102.0h0.9v0.9h-0.9zM223.3 107.8h0.9v0.9h-0.9zM222.8 106.0h0.9v0.9h-0.9zM211.6 116.2h0.9v0.9h-0.9zM202.0 107.6h0.9v0.9h-0.9zM210.6 104.0h0.9v0.9h-0.9z" fill="#7c7cfc"/>
<path d="M201.7 106.9h0.9v0.9h-0.9zM209.5 113.3h0.9v0.9h-0.9zM193.2 104.3h0.9v0.9h-0.9zM215.2 118.1h0.9v0.9h-0.9zM193.0 114.0h0.9v0.9h-0.9zM210.7 115.3h0.9v0.9h-0.9zM213.3 116.9h0.9v0.9h-0.9zM201.9 108.0h0.9v0.9h-0.9zM219.0 102.0h0.9v0.9h-0.9zM192.6 110.8h0.9v0.9h-0.9zM208.9 106.7h0.9v0.9h-0.9zM215.2 118.0h0.9v0.9h-0.9zM201.6 107.1h0.9v0.9h-0.9zM196.8 115.1h0.9v0.9h-0.9zM194.0 102.9h0.9v0.9h-0.9zM223.0 110.4h0.9v0.9h-0.9zM215.5 118.0h0.9v0.9h-0.9zM211.0 115.5h0.9v0.9h-0.9zM195.7 101.5h0.9v0.9h-0.9zM195.3 101.6h0.9v0.9h-0.9zM209.2 111.9h0.9v0.9h-0.9zM214.3 117.5h0.9v0.9h-0.9zM211.8 103.1h0.9v0.9h-0.9zM218.6 116.9h0.9v0.9h-0.9zM193.3 114.1h0.9v0.9h-0.9zM221.8 105.1h0.9v0.9h-0.9zM209.9 105.3h0.9v0.9h-0.9zM200.9 112.7h0.9v0.9h-0.9zM195.9 101.7h0.9v0.9h-0.9zM200.2 104.9h0.9v0.9h-0.9zM201.2 112.0h0.9v0.9h-0.9zM198.0 102.1h0.9v0.9h-0.9zM198.8 102.5h0.9v0.9h-0.9zM198.2 114.7h0.9v0.9h-0.9zM198.1 102.1h0.9v0.9h-0.9zM222.6 111.4h0.9v0.9h-0.9zM195.5 101.9h0.9v0.9h-0.9zM192.7 108.3h0.9v0.9h-0.9zM195.8 101.9h0.9v0.9h-0.9zM222.8 110.4h0.9v0.9h-0.9zM199.9 104.5h0.9v0.9h-0.9zM201.6 107.9h0.9v0.9h-0.9zM215.4 117.7h0.9v0.9h-0.9zM214.9 117.5h0.9v0.9h-0.9zM193.1 106.3h0.9v0.9h-0.9zM196.1 101.9h0.9v0.9h-0.9zM218.0 101.9h0.9v0.9h-0.9zM216.0 101.8h0.9v0.9h-0.9zM211.8 103.3h0.9v0.9h-0.9z" fill="#7474fc"/>
<path d="M201.5 110.2h0.9v0.9h-0.9zM194.2 114.5h0.9v0.9h-0.9zM198.6 102.7h0.9v0.9h-0.9zM201.6 109.3h0.9v0.9h-0.9zM198.7 114.4h0.9v0.9h-0.9zM197.5 102.3h0.9v0.9h-0.9zM214.0 102.4h0.9v0.9h-0.9zM221.4 113.7h0.9v0.9h-0.9zM219.5 102.9h0.9v0.9h-0.9zM222.4 107.4h0.9v0.9h-0.9zM192.9 107.6h0.9v0.9h-0.9zM215.5 117.5h0.9v0.9h-0.9zM193.5 113.3h0.9v0.9h-0.9zM193.6 113.7h0.9v0.9h-0.9zM195.3 102.6h0.9v0.9h-0.9zM199.8 113.7h0.9v0.9h-0.9zM194.0 114.1h0.9v0.9h-0.9zM200.3 113.2h0.9v0.9h-0.9zM193.5 113.1h0.9v0.9h-0.9zM193.5 105.8h0.9v0.9h-0.9zM195.0 103.1h0.9v0.9h-0.9zM193.4 111.7h0.9v0.9h-0.9zM219.9 103.5h0.9v0.9h-0.9zM196.3 102.5h0.9v0.9h-0.9zM211.5 115.2h0.9v0.9h-0.9zM218.3 102.3h0.9v0.9h-0.9zM222.5 110.1h0.9v0.9h-0.9zM210.5 114.0h0.9v0.9h-0.9zM194.0 104.7h0.9v0.9h-0.9zM194.8 114.3h0.9v0.9h-0.9zM216.8 117.1h0.9v0.9h-0.9zM200.7 112.0h0.9v0.9h-0.9zM211.9 115.4h0.9v0.9h-0.9zM196.1 102.7h0.9v0.9h-0.9zM194.1 113.8h0.9v0.9h-0.9zM193.3 110.1h0.9v0.9h-0.9zM194.0 105.0h0.9v0.9h-0.9zM213.3 102.8h0.9v0.9h-0.9zM197.6 102.9h0.9v0.9h-0.9zM209.1 108.4h0.9v0.9h-0.9zM193.7 112.3h0.9v0.9h-0.9zM216.3 102.1h0.9v0.9h-0.9zM209.1 108.2h0.9v0.9h-0.9zM194.9 114.2h0.9v0.9h-0.9zM198.1 103.2h0.9v0.9h-0.9z" fill="#6c6cfc"/>
<path d="M221.6 105.6h0.9v0.9h-0.9zM200.1 112.9h0.9v0.9h-0.9zM201.2 108.0h0.9v0.9h-0.9zM193.1 108.8h0.9v0.9h-0.9zM222.3 108.9h0.9v0.9h-0.9zM199.2 113.7h0.9v0.9h-0.9zM195.3 114.2h0.9v0.9h-0.9zM194.5 104.5h0.9v0.9h-0.9zM194.1 105.1h0.9v0.9h-0.9zM193.8 112.3h0.9v0.9h-0.9zM200.9 110.7h0.9v0.9h-0.9zM194.0 105.5h0.9v0.9h-0.9zM197.9 114.1h0.9v0.9h-0.9zM195.0 104.0h0.9v0.9h-0.9zM217.6 102.4h0.9v0.9h-0.9zM221.9 106.8h0.9v0.9h-0.9zM194.1 113.1h0.9v0.9h-0.9zM217.3 102.3h0.9v0.9h-0.9zM198.0 103.5h0.9v0.9h-0.9zM212.6 115.5h0.9v0.9h-0.9zM221.3 105.4h0.9v0.9h-0.9zM209.3 108.5h0.9v0.9h-0.9zM193.3 108.2h0.9v0.9h-0.9zM209.7 111.1h0.9v0.9h-0.9zM211.1 104.8h0.9v0.9h-0.9zM198.4 104.0h0.9v0.9h-0.9zM220.1 104.2h0.9v0.9h-0.9zM214.1 116.2h0.9v0.9h-0.9zM210.3 105.9h0.9v0.9h-0.9zM220.9 113.8h0.9v0.9h-0.9zM217.9 116.4h0.9v0.9h-0.9zM196.0 113.9h0.9v0.9h-0.9zM193.8 106.7h0.9v0.9h-0.9zM194.5 113.2h0.9v0.9h-0.9zM220.1 114.8h0.9v0.9h-0.9zM195.0 104.6h0.9v0.9h-0.9zM209.9 106.7h0.9v0.9h-0.9z" fill="#6464fc"/>
<path d="M195.5 113.7h0.9v0.9h-0.9zM218.4 116.1h0.9v0.9h-0.9zM212.3 115.0h0.9v0.9h-0.9zM194.0 110.9h0.9v0.9h-0.9zM198.5 113.6h0.9v0.9h-0.9zM216.7 116.6h0.9v0.9h-0.9zM222.0 110.9h0.9v0.9h-0.9zM215.7 102.6h0.9v0.9h-0.9zM195.6 104.3h0.9v0.9h-0.9zM197.4 103.9h0.9v0.9h-0.9zM219.8 115.0h0.9v0.9h-0.9zM221.0 105.6h0.9v0.9h-0.9zM199.4 105.4h0.9v0.9h-0.9zM211.3 114.1h0.9v0.9h-0.9zM196.0 113.5h0.9v0.9h-0.9zM220.9 113.4h0.9v0.9h-0.9zM195.2 104.8h0.9v0.9h-0.9zM216.7 102.6h0.9v0.9h-0.9zM209.6 108.7h0.9v0.9h-0.9zM214.4 116.0h0.9v0.9h-0.9zM193.8 109.7h0.9v0.9h-0.9zM195.2 113.1h0.9v0.9h-0.9zM193.7 108.8h0.9v0.9h-0.9zM198.3 104.5h0.9v0.9h-0.9zM210.8 105.6h0.9v0.9h-0.9zM212.6 103.8h0.9v0.9h-0.9zM197.6 104.2h0.9v0.9h-0.9zM198.7 113.2h0.9v0.9h-0.9zM219.3 115.3h0.9v0.9h-0.9zM194.2 110.5h0.9v0.9h-0.9zM195.6 113.1h0.9v0.9h-0.9zM194.0 107.4h0.9v0.9h-0.9zM218.1 116.0h0.9v0.9h-0.9zM193.9 108.1h0.9v0.9h-0.9zM196.8 113.4h0.9v0.9h-0.9zM198.5 113.1h0.9v0.9h-0.9zM193.9 108.2h0.9v0.9h-0.9zM218.0 116.0h0.9v0.9h-0.9zM219.0 115.4h0.9v0.9h-0.9zM194.0 109.7h0.9v0.9h-0.9zM198.2 113.2h0.9v0.9h-0.9zM209.8 108.5h0.9v0.9h-0.9zM209.9 108.4h0.9v0.9h-0.9zM199.5 112.2h0.9v0.9h-0.9zM216.9 116.2h0.9v0.9h-0.9zM196.1 113.0h0.9v0.9h-0.9zM195.1 105.7h0.9v0.9h-0.9zM221.7 109.3h0.9v0.9h-0.9zM220.3 113.9h0.9v0.9h-0.9zM195.1 112.0h0.9v0.9h-0.9zM212.8 103.9h0.9v0.9h-0.9zM218.7 115.6h0.9v0.9h-0.9zM197.0 104.6h0.9v0.9h-0.9zM198.5 112.9h0.9v0.9h-0.9zM196.8 104.7h0.9v0.9h-0.9zM221.1 106.3h0.9v0.9h-0.9zM200.4 108.7h0.9v0.9h-0.9zM194.9 111.3h0.9v0.9h-0.9zM196.3 104.8h0.9v0.9h-0.9z" fill="#5c5cfc"/>
<path d="M211.3 113.6h0.9v0.9h-0.9zM215.4 116.1h0.9v0.9h-0.9zM210.2 110.5h0.9v0.9h-0.9zM199.0 105.6h0.9v0.9h-0.9zM197.6 113.0h0.9v0.9h-0.9zM196.4 112.8h0.9v0.9h-0.9zM200.2 107.7h0.9v0.9h-0.9zM194.1 108.6h0.9v0.9h-0.9zM198.9 105.6h0.9v0.9h-0.9zM210.1 109.7h0.9v0.9h-0.9zM200.0 107.2h0.9v0.9h-0.9zM218.2 103.5h0.9v0.9h-0.9zM213.6 103.6h0.9v0.9h-0.9zM195.2 111.7h0.9v0.9h-0.9zM197.5 113.0h0.9v0.9h-0.9z" fill="#5454fc"/>
<path d="M199.4 106.2h0.9v0.9h-0.9zM197.9 112.9h0.9v0.9h-0.9zM210.1 107.9h0.9v0.9h-0.9zM211.4 113.7h0.9v0.9h-0.9zM196.4 105.0h0.9v0.9h-0.9zM196.4 105.0h0.9v0.9h-0.9zM198.1 105.1h0.9v0.9h-0.9zM217.0 103.2h0.9v0.9h-0.9zM215.0 115.8h0.9v0.9h-0.9zM214.3 103.4h0.9v0.9h-0.9zM194.3 108.3h0.9v0.9h-0.9zM220.0 105.0h0.9v0.9h-0.9zM195.3 106.1h0.9v0.9h-0.9zM199.9 110.9h0.9v0.9h-0.9zM194.3 109.0h0.9v0.9h-0.9zM199.0 112.2h0.9v0.9h-0.9zM195.8 112.1h0.9v0.9h-0.9zM220.3 113.5h0.9v0.9h-0.9zM220.8 106.1h0.9v0.9h-0.9zM195.2 111.2h0.9v0.9h-0.9zM196.3 105.3h0.9v0.9h-0.9zM216.6 103.2h0.9v0.9h-0.9zM197.9 112.7h0.9v0.9h-0.9zM198.9 105.9h0.9v0.9h-0.9zM221.5 110.2h0.9v0.9h-0.9zM216.5 103.2h0.9v0.9h-0.9zM210.6 111.5h0.9v0.9h-0.9zM220.0 114.0h0.9v0.9h-0.9zM220.9 106.4h0.9v0.9h-0.9zM219.1 104.4h0.9v0.9h-0.9zM216.7 103.3h0.9v0.9h-0.9zM199.9 107.6h0.9v0.9h-0.9zM199.1 106.3h0.9v0.9h-0.9zM194.7 107.6h0.9v0.9h-0.9zM197.6 105.3h0.9v0.9h-0.9zM216.4 115.9h0.9v0.9h-0.9zM214.3 115.3h0.9v0.9h-0.9zM196.9 112.4h0.9v0.9h-0.9zM221.3 111.2h0.9v0.9h-0.9zM196.5 112.2h0.9v0.9h-0.9zM212.8 104.2h0.9v0.9h-0.9zM195.6 111.4h0.9v0.9h-0.9zM213.5 114.8h0.9v0.9h-0.9zM195.4 106.6h0.9v0.9h-0.9zM195.9 105.9h0.9v0.9h-0.9zM210.3 108.8h0.9v0.9h-0.9zM216.3 103.3h0.9v0.9h-0.9zM210.3 109.4h0.9v0.9h-0.9zM195.7 106.2h0.9v0.9h-0.9zM197.7 112.4h0.9v0.9h-0.9zM199.5 111.0h0.9v0.9h-0.9zM199.3 106.7h0.9v0.9h-0.9zM199.6 107.2h0.9v0.9h-0.9zM212.3 104.8h0.9v0.9h-0.9zM210.7 111.4h0.9v0.9h-0.9zM199.9 109.7h0.9v0.9h-0.9zM197.1 112.2h0.9v0.9h-0.9zM196.7 105.6h0.9v0.9h-0.9zM199.0 111.5h0.9v0.9h-0.9zM194.7 108.7h0.9v0.9h-0.9zM196.0 111.5h0.9v0.9h-0.9zM219.4 104.7h0.9v0.9h-0.9zM197.7 105.6h0.9v0.9h-0.9zM195.1 107.3h0.9v0.9h-0.9zM211.7 105.4h0.9v0.9h-0.9zM219.2 114.6h0.9v0.9h-0.9zM211.0 112.3h0.9v0.9h-0.9zM211.2 106.1h0.9v0.9h-0.9zM196.6 105.8h0.9v0.9h-0.9z" fill="#5454f4"/>
<path d="M199.9 109.1h0.9v0.9h-0.9zM220.1 113.4h0.9v0.9h-0.9zM195.3 110.4h0.9v0.9h-0.9zM199.2 106.8h0.9v0.9h-0.9zM197.2 112.0h0.9v0.9h-0.9zM195.8 106.6h0.9v0.9h-0.9zM197.1 105.7h0.9v0.9h-0.9zM210.5 107.7h0.9v0.9h-0.9zM199.5 110.6h0.9v0.9h-0.9zM197.9 112.0h0.9v0.9h-0.9zM211.1 112.4h0.9v0.9h-0.9zM214.1 115.0h0.9v0.9h-0.9zM218.5 115.1h0.9v0.9h-0.9zM198.0 105.9h0.9v0.9h-0.9zM216.1 115.6h0.9v0.9h-0.9zM211.0 106.5h0.9v0.9h-0.9zM219.7 113.9h0.9v0.9h-0.9zM199.3 107.2h0.9v0.9h-0.9zM219.5 114.2h0.9v0.9h-0.9zM216.6 103.6h0.9v0.9h-0.9zM211.2 112.5h0.9v0.9h-0.9zM219.0 104.6h0.9v0.9h-0.9zM197.6 105.9h0.9v0.9h-0.9zM217.5 103.8h0.9v0.9h-0.9zM198.6 106.4h0.9v0.9h-0.9zM213.4 104.2h0.9v0.9h-0.9zM210.6 109.8h0.9v0.9h-0.9zM199.6 109.5h0.9v0.9h-0.9zM197.4 106.0h0.9v0.9h-0.9zM199.5 107.9h0.9v0.9h-0.9zM211.2 106.4h0.9v0.9h-0.9zM195.4 107.6h0.9v0.9h-0.9zM220.8 107.1h0.9v0.9h-0.9zM199.0 110.9h0.9v0.9h-0.9zM195.4 107.7h0.9v0.9h-0.9zM195.1 108.9h0.9v0.9h-0.9zM197.4 111.7h0.9v0.9h-0.9zM198.5 111.4h0.9v0.9h-0.9zM217.8 104.1h0.9v0.9h-0.9zM195.6 110.2h0.9v0.9h-0.9zM195.5 110.1h0.9v0.9h-0.9zM198.6 111.3h0.9v0.9h-0.9zM198.2 111.5h0.9v0.9h-0.9zM195.2 108.5h0.9v0.9h-0.9zM199.5 108.5h0.9v0.9h-0.9zM210.7 107.9h0.9v0.9h-0.9zM197.4 106.2h0.9v0.9h-0.9zM210.9 111.2h0.9v0.9h-0.9zM218.6 104.5h0.9v0.9h-0.9zM195.2 108.8h0.9v0.9h-0.9zM199.4 109.7h0.9v0.9h-0.9zM220.7 111.9h0.9v0.9h-0.9zM196.0 110.5h0.9v0.9h-0.9zM199.4 109.7h0.9v0.9h-0.9zM212.1 105.3h0.9v0.9h-0.9zM198.4 106.7h0.9v0.9h-0.9zM215.6 115.3h0.9v0.9h-0.9zM210.7 109.1h0.9v0.9h-0.9zM195.5 107.9h0.9v0.9h-0.9zM220.7 107.1h0.9v0.9h-0.9zM198.9 107.2h0.9v0.9h-0.9zM216.1 115.4h0.9v0.9h-0.9zM199.0 110.4h0.9v0.9h-0.9zM195.4 108.7h0.9v0.9h-0.9zM198.6 110.9h0.9v0.9h-0.9zM220.6 106.9h0.9v0.9h-0.9zM195.8 110.1h0.9v0.9h-0.9zM218.4 114.8h0.9v0.9h-0.9zM199.1 110.2h0.9v0.9h-0.9zM221.1 109.6h0.9v0.9h-0.9zM195.9 107.5h0.9v0.9h-0.9zM211.6 106.1h0.9v0.9h-0.9zM199.3 108.4h0.9v0.9h-0.9zM198.3 111.1h0.9v0.9h-0.9zM211.7 106.0h0.9v0.9h-0.9zM199.0 110.2h0.9v0.9h-0.9zM215.1 115.1h0.9v0.9h-0.9zM197.1 106.7h0.9v0.9h-0.9zM196.4 110.7h0.9v0.9h-0.9zM218.1 104.4h0.9v0.9h-0.9zM196.3 107.2h0.9v0.9h-0.9zM195.6 109.4h0.9v0.9h-0.9z" fill="#4c4cf4"/>
<path d="M216.4 103.9h0.9v0.9h-0.9zM199.1 108.1h0.9v0.9h-0.9zM199.2 109.2h0.9v0.9h-0.9zM198.0 106.8h0.9v0.9h-0.9zM195.9 107.8h0.9v0.9h-0.9zM196.9 106.8h0.9v0.9h-0.9zM195.6 109.2h0.9v0.9h-0.9zM195.6 109.1h0.9v0.9h-0.9zM218.8 104.9h0.9v0.9h-0.9zM198.8 107.6h0.9v0.9h-0.9zM219.9 113.1h0.9v0.9h-0.9zM197.9 111.0h0.9v0.9h-0.9zM211.5 112.4h0.9v0.9h-0.9zM198.3 107.1h0.9v0.9h-0.9zM197.8 111.0h0.9v0.9h-0.9zM199.1 109.7h0.9v0.9h-0.9zM196.7 110.7h0.9v0.9h-0.9zM198.9 108.0h0.9v0.9h-0.9zM220.5 112.0h0.9v0.9h-0.9zM214.0 104.3h0.9v0.9h-0.9zM198.1 107.1h0.9v0.9h-0.9zM196.3 110.1h0.9v0.9h-0.9zM195.9 108.2h0.9v0.9h-0.9zM220.9 110.8h0.9v0.9h-0.9zM195.9 109.5h0.9v0.9h-0.9zM196.1 107.9h0.9v0.9h-0.9zM199.1 109.3h0.9v0.9h-0.9zM198.6 110.4h0.9v0.9h-0.9zM198.8 107.9h0.9v0.9h-0.9zM211.6 112.5h0.9v0.9h-0.9zM196.5 110.2h0.9v0.9h-0.9zM196.7 107.3h0.9v0.9h-0.9zM213.9 104.4h0.9v0.9h-0.9zM198.2 110.6h0.9v0.9h-0.9zM197.3 107.1h0.9v0.9h-0.9zM211.1 110.6h0.9v0.9h-0.9zM215.8 115.1h0.9v0.9h-0.9zM211.6 112.5h0.9v0.9h-0.9zM219.4 113.7h0.9v0.9h-0.9zM216.5 104.1h0.9v0.9h-0.9zM198.2 107.4h0.9v0.9h-0.9zM197.8 107.2h0.9v0.9h-0.9zM211.1 107.4h0.9v0.9h-0.9zM218.5 114.5h0.9v0.9h-0.9zM198.9 109.3h0.9v0.9h-0.9zM198.8 109.6h0.9v0.9h-0.9zM220.9 110.3h0.9v0.9h-0.9zM198.8 108.4h0.9v0.9h-0.9zM211.3 111.3h0.9v0.9h-0.9zM211.4 111.7h0.9v0.9h-0.9zM196.7 107.8h0.9v0.9h-0.9zM198.7 108.4h0.9v0.9h-0.9zM212.4 113.4h0.9v0.9h-0.9zM219.8 106.0h0.9v0.9h-0.9zM196.8 110.0h0.9v0.9h-0.9zM218.1 104.7h0.9v0.9h-0.9zM215.6 104.2h0.9v0.9h-0.9zM196.3 108.6h0.9v0.9h-0.9zM196.6 109.8h0.9v0.9h-0.9zM197.2 110.2h0.9v0.9h-0.9zM197.8 107.7h0.9v0.9h-0.9zM196.6 108.2h0.9v0.9h-0.9zM211.7 106.5h0.9v0.9h-0.9zM211.0 108.9h0.9v0.9h-0.9zM198.6 109.1h0.9v0.9h-0.9zM214.3 114.4h0.9v0.9h-0.9zM211.9 112.7h0.9v0.9h-0.9zM198.4 109.7h0.9v0.9h-0.9zM214.4 104.4h0.9v0.9h-0.9zM215.7 114.9h0.9v0.9h-0.9zM215.2 104.3h0.9v0.9h-0.9zM197.2 108.0h0.9v0.9h-0.9zM212.5 113.4h0.9v0.9h-0.9zM198.4 108.7h0.9v0.9h-0.9zM196.8 108.4h0.9v0.9h-0.9zM197.4 109.9h0.9v0.9h-0.9zM196.9 109.5h0.9v0.9h-0.9z" fill="#4444f4"/>
<path d="M198.3 109.0h0.9v0.9h-0.9zM197.4 108.1h0.9v0.9h-0.9zM196.7 108.9h0.9v0.9h-0.9zM218.5 105.1h0.9v0.9h-0.9zM197.3 108.1h0.9v0.9h-0.9zM212.2 105.9h0.9v0.9h-0.9zM197.5 109.9h0.9v0.9h-0.9zM197.0 109.5h0.9v0.9h-0.9zM219.3 113.4h0.9v0.9h-0.9zM196.9 109.3h0.9v0.9h-0.9zM198.2 109.3h0.9v0.9h-0.9zM198.1 109.4h0.9v0.9h-0.9zM217.6 114.8h0.9v0.9h-0.9zM196.9 109.2h0.9v0.9h-0.9zM219.2 105.7h0.9v0.9h-0.9zM215.7 104.3h0.9v0.9h-0.9zM197.2 109.4h0.9v0.9h-0.9zM197.7 109.6h0.9v0.9h-0.9zM197.5 109.6h0.9v0.9h-0.9zM216.5 104.4h0.9v0.9h-0.9zM197.1 109.3h0.9v0.9h-0.9zM218.0 104.9h0.9v0.9h-0.9zM214.5 104.5h0.9v0.9h-0.9zM212.0 112.6h0.9v0.9h-0.9zM216.7 114.9h0.9v0.9h-0.9zM211.2 108.2h0.9v0.9h-0.9zM212.7 105.6h0.9v0.9h-0.9zM219.9 106.6h0.9v0.9h-0.9zM212.8 113.4h0.9v0.9h-0.9zM212.7 105.6h0.9v0.9h-0.9zM220.0 106.8h0.9v0.9h-0.9zM219.2 113.3h0.9v0.9h-0.9zM219.1 113.4h0.9v0.9h-0.9zM217.6 114.6h0.9v0.9h-0.9zM211.5 110.7h0.9v0.9h-0.9zM219.9 112.3h0.9v0.9h-0.9zM211.6 107.2h0.9v0.9h-0.9zM211.8 112.1h0.9v0.9h-0.9zM214.4 104.7h0.9v0.9h-0.9zM216.7 114.8h0.9v0.9h-0.9zM220.4 110.9h0.9v0.9h-0.9zM213.7 105.0h0.9v0.9h-0.9zM220.3 107.7h0.9v0.9h-0.9zM217.2 114.6h0.9v0.9h-0.9zM212.0 106.7h0.9v0.9h-0.9zM212.5 112.9h0.9v0.9h-0.9z" fill="#3c3cf4"/>
<path d="M214.7 114.2h0.9v0.9h-0.9z" fill="#3434f4"/>
<path d="M211.5 107.9h0.9v0.9h-0.9zM215.2 104.7h0.9v0.9h-0.9z" fill="#3434ec"/>
<path d="M213.3 113.5h0.9v0.9h-0.9zM220.4 109.0h0.9v0.9h-0.9zM215.0 114.3h0.9v0.9h-0.9zM217.9 105.2h0.9v0.9h-0.9zM219.2 106.1h0.9v0.9h-0.9zM211.5 109.4h0.9v0.9h-0.9zM216.1 104.7h0.9v0.9h-0.9zM213.7 105.2h0.9v0.9h-0.9zM216.1 114.6h0.9v0.9h-0.9zM216.9 104.9h0.9v0.9h-0.9zM218.4 105.5h0.9v0.9h-0.9zM211.5 108.4h0.9v0.9h-0.9zM218.6 105.7h0.9v0.9h-0.9zM216.6 104.8h0.9v0.9h-0.9zM218.1 114.0h0.9v0.9h-0.9zM214.8 104.8h0.9v0.9h-0.9z" fill="#343cec"/>
<path d="M217.2 114.5h0.9v0.9h-0.9zM220.4 110.4h0.9v0.9h-0.9zM218.8 113.4h0.9v0.9h-0.9zM211.9 111.6h0.9v0.9h-0.9zM217.0 114.5h0.9v0.9h-0.9zM217.6 105.2h0.9v0.9h-0.9zM217.1 114.5h0.9v0.9h-0.9zM213.4 113.4h0.9v0.9h-0.9zM215.6 104.8h0.9v0.9h-0.9zM211.6 109.1h0.9v0.9h-0.9zM212.3 106.6h0.9v0.9h-0.9zM218.5 105.7h0.9v0.9h-0.9z" fill="#3444ec"/>
<path d="M214.0 105.2h0.9v0.9h-0.9zM216.9 105.1h0.9v0.9h-0.9zM212.8 106.1h0.9v0.9h-0.9zM213.7 113.6h0.9v0.9h-0.9zM220.0 111.4h0.9v0.9h-0.9zM215.0 104.9h0.9v0.9h-0.9zM220.3 110.1h0.9v0.9h-0.9zM212.5 112.5h0.9v0.9h-0.9zM214.5 105.0h0.9v0.9h-0.9zM217.7 114.1h0.9v0.9h-0.9zM220.3 109.0h0.9v0.9h-0.9zM211.9 107.5h0.9v0.9h-0.9zM217.8 114.0h0.9v0.9h-0.9z" fill="#344cec"/>
<path d="M212.5 112.4h0.9v0.9h-0.9zM211.8 107.7h0.9v0.9h-0.9zM215.4 105.0h0.9v0.9h-0.9zM213.5 113.3h0.9v0.9h-0.9zM217.0 105.2h0.9v0.9h-0.9zM213.3 105.7h0.9v0.9h-0.9zM211.9 110.8h0.9v0.9h-0.9zM218.6 105.9h0.9v0.9h-0.9zM219.6 107.0h0.9v0.9h-0.9zM212.3 106.9h0.9v0.9h-0.9zM212.1 111.5h0.9v0.9h-0.9zM220.2 109.8h0.9v0.9h-0.9z" fill="#3454ec"/>
<path d="M212.5 106.6h0.9v0.9h-0.9zM211.8 110.0h0.9v0.9h-0.9zM214.7 105.1h0.9v0.9h-0.9zM213.6 105.6h0.9v0.9h-0.9zM220.2 108.9h0.9v0.9h-0.9zM213.5 105.7h0.9v0.9h-0.9zM212.0 110.8h0.9v0.9h-0.9zM212.5 112.2h0.9v0.9h-0.9zM218.8 112.9h0.9v0.9h-0.9zM220.1 110.6h0.9v0.9h-0.9zM216.5 114.2h0.9v0.9h-0.9z" fill="#345cec"/>
<path d="M220.2 109.8h0.9v0.9h-0.9zM212.9 106.3h0.9v0.9h-0.9zM218.2 105.8h0.9v0.9h-0.9zM216.1 114.2h0.9v0.9h-0.9zM219.3 106.8h0.9v0.9h-0.9zM217.4 105.5h0.9v0.9h-0.9zM219.8 111.2h0.9v0.9h-0.9zM219.4 107.0h0.9v0.9h-0.9zM215.1 105.2h0.9v0.9h-0.9zM215.0 113.9h0.9v0.9h-0.9zM219.4 111.9h0.9v0.9h-0.9zM219.2 112.2h0.9v0.9h-0.9zM211.9 109.4h0.9v0.9h-0.9z" fill="#3464ec"/>
<path d="M219.3 106.8h0.9v0.9h-0.9zM215.5 105.2h0.9v0.9h-0.9zM215.5 105.2h0.9v0.9h-0.9zM218.1 105.8h0.9v0.9h-0.9zM213.0 112.6h0.9v0.9h-0.9zM220.0 108.8h0.9v0.9h-0.9zM212.0 108.2h0.9v0.9h-0.9zM213.3 106.0h0.9v0.9h-0.9zM214.5 113.6h0.9v0.9h-0.9zM212.9 112.5h0.9v0.9h-0.9zM216.8 114.1h0.9v0.9h-0.9zM215.5 105.3h0.9v0.9h-0.9z" fill="#346cec"/>
<path d="M212.1 110.4h0.9v0.9h-0.9zM219.3 107.0h0.9v0.9h-0.9zM219.8 108.2h0.9v0.9h-0.9zM219.3 107.0h0.9v0.9h-0.9zM219.5 111.6h0.9v0.9h-0.9zM212.2 107.7h0.9v0.9h-0.9zM219.5 107.3h0.9v0.9h-0.9zM214.0 105.7h0.9v0.9h-0.9zM219.8 110.9h0.9v0.9h-0.9zM220.0 109.0h0.9v0.9h-0.9zM218.3 113.1h0.9v0.9h-0.9z" fill="#3474ec"/>
<path d="M219.6 111.4h0.9v0.9h-0.9zM217.6 113.7h0.9v0.9h-0.9zM217.3 105.7h0.9v0.9h-0.9zM214.1 113.3h0.9v0.9h-0.9zM219.5 111.5h0.9v0.9h-0.9zM216.2 105.4h0.9v0.9h-0.9zM219.6 107.9h0.9v0.9h-0.9zM216.7 113.9h0.9v0.9h-0.9zM218.9 106.7h0.9v0.9h-0.9zM219.6 111.2h0.9v0.9h-0.9zM214.5 113.4h0.9v0.9h-0.9z" fill="#347cec"/>
<path d="M213.7 113.0h0.9v0.9h-0.9zM219.8 110.7h0.9v0.9h-0.9zM212.3 110.6h0.9v0.9h-0.9zM215.2 105.5h0.9v0.9h-0.9zM214.1 105.8h0.9v0.9h-0.9zM216.4 113.9h0.9v0.9h-0.9zM219.8 110.5h0.9v0.9h-0.9z" fill="#3484ec"/>
<path d="M216.4 113.9h0.9v0.9h-0.9zM216.5 105.6h0.9v0.9h-0.9zM218.5 106.4h0.9v0.9h-0.9zM216.2 113.8h0.9v0.9h-0.9zM217.2 113.7h0.9v0.9h-0.9zM215.4 105.5h0.9v0.9h-0.9zM216.0 105.6h0.9v0.9h-0.9zM214.5 105.7h0.9v0.9h-0.9zM213.1 112.3h0.9v0.9h-0.9zM213.2 112.4h0.9v0.9h-0.9zM217.7 113.3h0.9v0.9h-0.9z" fill="#348cec"/>
<path d="M212.9 106.8h0.9v0.9h-0.9zM216.9 105.8h0.9v0.9h-0.9zM217.8 106.1h0.9v0.9h-0.9zM213.8 106.1h0.9v0.9h-0.9zM212.4 110.4h0.9v0.9h-0.9zM212.2 109.3h0.9v0.9h-0.9zM218.4 106.5h0.9v0.9h-0.9zM212.5 110.9h0.9v0.9h-0.9zM217.8 106.2h0.9v0.9h-0.9zM215.0 113.5h0.9v0.9h-0.9z" fill="#3494ec"/>
<path d="M217.2 113.6h0.9v0.9h-0.9z" fill="#3494e4"/>
<path d="M215.0 105.7h0.9v0.9h-0.9zM212.4 108.3h0.9v0.9h-0.9zM219.6 110.6h0.9v0.9h-0.9zM219.6 108.6h0.9v0.9h-0.9zM213.4 112.5h0.9v0.9h-0.9z" fill="#349ce4"/>
<path d="M219.5 110.8h0.9v0.9h-0.9zM218.1 106.4h0.9v0.9h-0.9zM214.7 105.8h0.9v0.9h-0.9zM212.3 109.1h0.9v0.9h-0.9z" fill="#349cdc"/>
<path d="M219.6 108.9h0.9v0.9h-0.9z" fill="#34a4dc"/>
<path d="M219.7 109.5h0.9v0.9h-0.9zM212.6 107.8h0.9v0.9h-0.9z" fill="#34a4d4"/>
<path d="M217.5 113.2h0.9v0.9h-0.9zM213.4 106.6h0.9v0.9h-0.9zM219.6 108.7h0.9v0.9h-0.9z" fill="#3ca4d4"/>
<path d="M215.4 113.5h0.9v0.9h-0.9zM219.1 107.5h0.9v0.9h-0.9zM219.0 107.3h0.9v0.9h-0.9z" fill="#3ca4cc"/>
<path d="M212.5 108.6h0.9v0.9h-0.9zM212.7 107.7h0.9v0.9h-0.9zM217.2 113.3h0.9v0.9h-0.9zM212.5 109.4h0.9v0.9h-0.9z" fill="#3caccc"/>
<path d="M219.5 110.5h0.9v0.9h-0.9zM215.0 113.2h0.9v0.9h-0.9zM214.0 112.8h0.9v0.9h-0.9zM216.9 113.4h0.9v0.9h-0.9zM212.9 107.5h0.9v0.9h-0.9z" fill="#3cacc4"/>
<path d="M219.4 110.6h0.9v0.9h-0.9z" fill="#3cacbc"/>
<path d="M212.5 109.4h0.9v0.9h-0.9zM219.2 111.0h0.9v0.9h-0.9zM218.1 112.6h0.9v0.9h-0.9zM215.1 106.0h0.9v0.9h-0.9zM212.8 111.0h0.9v0.9h-0.9z" fill="#3cb4bc"/>
<path d="M214.4 106.2h0.9v0.9h-0.9zM218.2 106.7h0.9v0.9h-0.9zM217.0 113.3h0.9v0.9h-0.9zM213.2 111.9h0.9v0.9h-0.9z" fill="#3cb4b4"/>
<path d="M213.0 107.5h0.9v0.9h-0.9zM218.0 112.6h0.9v0.9h-0.9zM219.3 108.4h0.9v0.9h-0.9zM218.2 106.8h0.9v0.9h-0.9zM219.2 108.1h0.9v0.9h-0.9zM215.9 106.0h0.9v0.9h-0.9z" fill="#44b4b4"/>
<path d="M219.3 110.5h0.9v0.9h-0.9zM213.2 111.7h0.9v0.9h-0.9z" fill="#44b4ac"/>
<path d="M218.0 112.6h0.9v0.9h-0.9zM217.9 112.7h0.9v0.9h-0.9zM212.7 108.3h0.9v0.9h-0.9zM212.8 110.8h0.9v0.9h-0.9zM219.3 108.4h0.9v0.9h-0.9z" fill="#44bcac"/>
<path d="M214.7 113.0h0.9v0.9h-0.9zM214.0 106.5h0.9v0.9h-0.9zM219.0 107.8h0.9v0.9h-0.9zM214.0 112.5h0.9v0.9h-0.9zM213.3 111.9h0.9v0.9h-0.9zM213.7 112.3h0.9v0.9h-0.9zM217.2 106.3h0.9v0.9h-0.9zM212.6 109.3h0.9v0.9h-0.9zM212.7 108.3h0.9v0.9h-0.9zM213.9 106.5h0.9v0.9h-0.9z" fill="#44bca4"/>
<path d="M219.3 110.5h0.9v0.9h-0.9zM219.3 110.5h0.9v0.9h-0.9zM216.5 113.3h0.9v0.9h-0.9zM219.4 110.0h0.9v0.9h-0.9zM216.6 113.2h0.9v0.9h-0.9zM213.5 112.0h0.9v0.9h-0.9zM212.8 108.0h0.9v0.9h-0.9zM219.3 110.4h0.9v0.9h-0.9zM212.7 108.5h0.9v0.9h-0.9zM218.6 107.3h0.9v0.9h-0.9z" fill="#44c49c"/>
<path d="M214.2 112.6h0.9v0.9h-0.9z" fill="#44c494"/>
<path d="M218.9 111.3h0.9v0.9h-0.9z" fill="#4cc494"/>
<path d="M214.1 112.5h0.9v0.9h-0.9z" fill="#4ccc94"/>
<path d="M219.2 108.5h0.9v0.9h-0.9zM219.3 109.2h0.9v0.9h-0.9zM216.9 113.1h0.9v0.9h-0.9zM214.4 106.4h0.9v0.9h-0.9zM219.3 109.6h0.9v0.9h-0.9zM215.8 113.2h0.9v0.9h-0.9zM217.7 112.6h0.9v0.9h-0.9zM218.9 107.8h0.9v0.9h-0.9z" fill="#4ccc8c"/>
<path d="M217.6 112.6h0.9v0.9h-0.9zM214.0 106.7h0.9v0.9h-0.9zM214.7 112.8h0.9v0.9h-0.9zM215.7 113.1h0.9v0.9h-0.9zM218.6 111.6h0.9v0.9h-0.9zM215.0 106.3h0.9v0.9h-0.9z" fill="#4ccc84"/>
<path d="M213.6 111.9h0.9v0.9h-0.9zM216.6 106.4h0.9v0.9h-0.9zM214.7 112.7h0.9v0.9h-0.9zM216.3 113.1h0.9v0.9h-0.9zM215.9 113.1h0.9v0.9h-0.9zM214.2 106.6h0.9v0.9h-0.9z" fill="#4cd484"/>
<path d="M213.5 111.8h0.9v0.9h-0.9zM217.2 112.8h0.9v0.9h-0.9zM216.4 113.1h0.9v0.9h-0.9zM219.2 110.0h0.9v0.9h-0.9zM213.0 110.6h0.9v0.9h-0.9z" fill="#4cd47c"/>
<path d="M216.7 113.0h0.9v0.9h-0.9zM214.9 112.8h0.9v0.9h-0.9zM214.0 112.2h0.9v0.9h-0.9zM218.6 111.4h0.9v0.9h-0.9zM219.0 108.4h0.9v0.9h-0.9zM213.4 107.5h0.9v0.9h-0.9zM213.0 108.3h0.9v0.9h-0.9zM213.0 108.4h0.9v0.9h-0.9zM216.6 113.0h0.9v0.9h-0.9zM213.4 111.4h0.9v0.9h-0.9zM218.4 111.6h0.9v0.9h-0.9zM217.5 112.5h0.9v0.9h-0.9zM215.1 106.4h0.9v0.9h-0.9zM212.9 109.4h0.9v0.9h-0.9z" fill="#54d474"/>
<path d="M213.6 111.7h0.9v0.9h-0.9zM213.7 111.8h0.9v0.9h-0.9zM216.4 113.0h0.9v0.9h-0.9zM213.3 110.9h0.9v0.9h-0.9zM214.3 112.3h0.9v0.9h-0.9zM213.0 108.4h0.9v0.9h-0.9zM219.1 108.8h0.9v0.9h-0.9zM216.0 112.9h0.9v0.9h-0.9z" fill="#54dc74"/>
<path d="M216.1 112.9h0.9v0.9h-0.9zM213.0 109.2h0.9v0.9h-0.9zM213.6 111.6h0.9v0.9h-0.9zM217.1 112.6h0.9v0.9h-0.9zM216.6 106.6h0.9v0.9h-0.9zM218.0 112.0h0.9v0.9h-0.9zM218.7 108.0h0.9v0.9h-0.9zM215.7 112.8h0.9v0.9h-0.9zM218.2 107.4h0.9v0.9h-0.9zM218.3 111.6h0.9v0.9h-0.9zM214.0 107.1h0.9v0.9h-0.9zM214.0 112.0h0.9v0.9h-0.9zM217.4 112.4h0.9v0.9h-0.9zM218.8 108.3h0.9v0.9h-0.9zM217.5 106.9h0.9v0.9h-0.9zM215.6 112.8h0.9v0.9h-0.9z" fill="#54dc6c"/>
<path d="M216.0 112.8h0.9v0.9h-0.9zM213.6 107.5h0.9v0.9h-0.9zM218.6 107.9h0.9v0.9h-0.9zM215.0 106.6h0.9v0.9h-0.9zM218.2 107.5h0.9v0.9h-0.9zM217.7 112.2h0.9v0.9h-0.9zM218.2 107.5h0.9v0.9h-0.9zM214.8 106.7h0.9v0.9h-0.9zM217.0 106.8h0.9v0.9h-0.9z" fill="#5cdc6c"/>
<path d="M213.6 107.6h0.9v0.9h-0.9zM218.2 111.5h0.9v0.9h-0.9zM213.3 110.4h0.9v0.9h-0.9zM213.7 111.4h0.9v0.9h-0.9zM218.9 108.8h0.9v0.9h-0.9zM218.2 111.5h0.9v0.9h-0.9zM218.8 110.4h0.9v0.9h-0.9zM215.4 112.6h0.9v0.9h-0.9zM213.3 110.2h0.9v0.9h-0.9zM213.2 109.0h0.9v0.9h-0.9zM213.5 110.9h0.9v0.9h-0.9zM214.7 106.9h0.9v0.9h-0.9zM213.2 108.8h0.9v0.9h-0.9zM215.6 106.7h0.9v0.9h-0.9zM216.6 106.8h0.9v0.9h-0.9zM213.3 108.6h0.9v0.9h-0.9zM218.9 109.5h0.9v0.9h-0.9zM213.6 107.8h0.9v0.9h-0.9zM216.5 112.6h0.9v0.9h-0.9zM213.3 110.2h0.9v0.9h-0.9z" fill="#5cdc64"/>
<path d="M215.6 112.6h0.9v0.9h-0.9zM217.7 107.3h0.9v0.9h-0.9zM213.7 111.1h0.9v0.9h-0.9zM218.6 110.7h0.9v0.9h-0.9zM217.0 106.9h0.9v0.9h-0.9zM218.8 109.8h0.9v0.9h-0.9zM218.5 108.1h0.9v0.9h-0.9zM214.7 106.9h0.9v0.9h-0.9zM213.3 109.6h0.9v0.9h-0.9z" fill="#5cdc5c"/>
<path d="M213.3 109.2h0.9v0.9h-0.9zM213.6 108.0h0.9v0.9h-0.9zM218.2 107.8h0.9v0.9h-0.9zM214.2 111.7h0.9v0.9h-0.9zM218.0 111.4h0.9v0.9h-0.9zM214.6 107.0h0.9v0.9h-0.9zM218.7 109.0h0.9v0.9h-0.9zM213.3 109.4h0.9v0.9h-0.9zM213.5 108.4h0.9v0.9h-0.9zM213.4 108.9h0.9v0.9h-0.9zM217.3 107.2h0.9v0.9h-0.9zM216.7 112.4h0.9v0.9h-0.9zM213.4 109.0h0.9v0.9h-0.9zM213.6 110.8h0.9v0.9h-0.9zM213.9 107.6h0.9v0.9h-0.9zM213.5 108.3h0.9v0.9h-0.9zM214.2 107.4h0.9v0.9h-0.9zM213.8 111.0h0.9v0.9h-0.9z" fill="#64dc5c"/>
<path d="M218.7 108.9h0.9v0.9h-0.9zM218.2 107.9h0.9v0.9h-0.9zM213.5 108.7h0.9v0.9h-0.9zM217.6 111.8h0.9v0.9h-0.9zM215.4 112.3h0.9v0.9h-0.9zM214.5 111.8h0.9v0.9h-0.9zM218.6 110.1h0.9v0.9h-0.9zM218.7 109.2h0.9v0.9h-0.9zM215.3 107.0h0.9v0.9h-0.9zM214.2 107.5h0.9v0.9h-0.9zM213.5 108.6h0.9v0.9h-0.9zM216.7 107.1h0.9v0.9h-0.9zM218.5 110.5h0.9v0.9h-0.9zM215.7 112.4h0.9v0.9h-0.9zM214.4 107.4h0.9v0.9h-0.9zM218.4 110.6h0.9v0.9h-0.9zM215.2 112.2h0.9v0.9h-0.9zM214.9 107.1h0.9v0.9h-0.9zM218.5 110.2h0.9v0.9h-0.9zM214.8 107.2h0.9v0.9h-0.9zM214.4 111.7h0.9v0.9h-0.9zM214.1 107.7h0.9v0.9h-0.9z" fill="#64dc54"/>
<path d="M213.6 109.8h0.9v0.9h-0.9zM213.6 108.6h0.9v0.9h-0.9zM214.4 111.6h0.9v0.9h-0.9zM218.2 108.1h0.9v0.9h-0.9zM216.9 112.1h0.9v0.9h-0.9zM218.5 110.2h0.9v0.9h-0.9zM216.5 107.1h0.9v0.9h-0.9zM216.7 107.2h0.9v0.9h-0.9zM213.7 110.3h0.9v0.9h-0.9zM214.0 111.0h0.9v0.9h-0.9z" fill="#6cdc4c"/>
<path d="M218.4 110.3h0.9v0.9h-0.9zM217.0 107.3h0.9v0.9h-0.9zM218.2 108.2h0.9v0.9h-0.9zM216.2 107.1h0.9v0.9h-0.9zM215.1 112.0h0.9v0.9h-0.9zM217.4 107.5h0.9v0.9h-0.9zM217.6 111.4h0.9v0.9h-0.9zM215.1 112.0h0.9v0.9h-0.9zM216.5 107.2h0.9v0.9h-0.9zM217.5 111.5h0.9v0.9h-0.9zM213.6 109.0h0.9v0.9h-0.9zM213.8 110.4h0.9v0.9h-0.9zM218.5 109.1h0.9v0.9h-0.9zM214.8 107.4h0.9v0.9h-0.9zM213.8 108.5h0.9v0.9h-0.9z" fill="#6ce44c"/>
<path d="M214.5 111.5h0.9v0.9h-0.9zM217.7 107.8h0.9v0.9h-0.9zM218.3 110.4h0.9v0.9h-0.9zM213.9 110.6h0.9v0.9h-0.9zM214.0 108.0h0.9v0.9h-0.9zM216.8 112.0h0.9v0.9h-0.9zM214.4 111.4h0.9v0.9h-0.9zM216.9 111.9h0.9v0.9h-0.9zM214.4 107.7h0.9v0.9h-0.9zM218.3 110.1h0.9v0.9h-0.9zM215.8 112.1h0.9v0.9h-0.9zM214.7 111.6h0.9v0.9h-0.9zM218.4 109.1h0.9v0.9h-0.9z" fill="#6ce444"/>
<path d="M215.3 107.3h0.9v0.9h-0.9zM215.5 107.2h0.9v0.9h-0.9zM216.7 107.3h0.9v0.9h-0.9zM214.2 107.9h0.9v0.9h-0.9zM215.9 112.1h0.9v0.9h-0.9zM213.9 110.2h0.9v0.9h-0.9zM214.9 107.4h0.9v0.9h-0.9zM216.6 112.0h0.9v0.9h-0.9zM216.7 112.0h0.9v0.9h-0.9zM215.1 107.3h0.9v0.9h-0.9zM218.1 110.6h0.9v0.9h-0.9zM215.3 111.9h0.9v0.9h-0.9zM214.0 110.7h0.9v0.9h-0.9zM217.5 111.4h0.9v0.9h-0.9zM215.7 112.0h0.9v0.9h-0.9zM218.2 110.2h0.9v0.9h-0.9zM218.2 108.7h0.9v0.9h-0.9zM216.5 112.0h0.9v0.9h-0.9zM218.1 110.6h0.9v0.9h-0.9zM213.8 108.8h0.9v0.9h-0.9z" fill="#74e444"/>
<path d="M217.6 111.2h0.9v0.9h-0.9zM213.9 108.6h0.9v0.9h-0.9zM215.0 111.7h0.9v0.9h-0.9zM214.6 107.6h0.9v0.9h-0.9zM217.8 110.9h0.9v0.9h-0.9zM217.2 107.6h0.9v0.9h-0.9zM218.2 108.7h0.9v0.9h-0.9zM218.1 110.3h0.9v0.9h-0.9zM213.9 110.0h0.9v0.9h-0.9zM213.8 109.6h0.9v0.9h-0.9zM217.1 111.6h0.9v0.9h-0.9zM214.8 107.5h0.9v0.9h-0.9zM217.8 111.0h0.9v0.9h-0.9zM217.9 108.2h0.9v0.9h-0.9zM217.4 111.4h0.9v0.9h-0.9zM217.4 111.4h0.9v0.9h-0.9zM214.5 111.3h0.9v0.9h-0.9zM217.8 108.1h0.9v0.9h-0.9zM216.5 107.4h0.9v0.9h-0.9zM215.0 107.5h0.9v0.9h-0.9zM214.8 107.6h0.9v0.9h-0.9z" fill="#7ce444"/>
<path d="M216.8 111.8h0.9v0.9h-0.9zM215.5 111.9h0.9v0.9h-0.9zM215.9 107.4h0.9v0.9h-0.9zM218.1 108.8h0.9v0.9h-0.9zM216.0 107.4h0.9v0.9h-0.9zM217.9 108.3h0.9v0.9h-0.9zM214.8 111.4h0.9v0.9h-0.9zM215.0 107.6h0.9v0.9h-0.9zM217.8 110.8h0.9v0.9h-0.9zM214.0 110.0h0.9v0.9h-0.9z" fill="#84e43c"/>
<path d="M218.1 108.9h0.9v0.9h-0.9zM216.0 107.4h0.9v0.9h-0.9zM214.2 108.4h0.9v0.9h-0.9zM215.1 107.6h0.9v0.9h-0.9zM215.9 107.5h0.9v0.9h-0.9zM217.0 107.7h0.9v0.9h-0.9zM217.8 110.6h0.9v0.9h-0.9zM214.6 111.1h0.9v0.9h-0.9zM216.3 111.7h0.9v0.9h-0.9zM215.6 107.5h0.9v0.9h-0.9zM215.8 111.8h0.9v0.9h-0.9zM217.8 108.4h0.9v0.9h-0.9zM216.1 107.5h0.9v0.9h-0.9zM215.5 111.7h0.9v0.9h-0.9zM217.5 108.1h0.9v0.9h-0.9zM215.6 111.7h0.9v0.9h-0.9zM218.1 109.1h0.9v0.9h-0.9z" fill="#8ce43c"/>
<path d="M214.1 108.7h0.9v0.9h-0.9zM216.3 107.6h0.9v0.9h-0.9zM214.2 108.5h0.9v0.9h-0.9zM217.0 107.8h0.9v0.9h-0.9zM215.2 107.6h0.9v0.9h-0.9zM214.1 109.2h0.9v0.9h-0.9zM214.1 109.5h0.9v0.9h-0.9zM217.2 107.9h0.9v0.9h-0.9zM215.3 111.5h0.9v0.9h-0.9zM217.6 108.2h0.9v0.9h-0.9zM215.0 111.3h0.9v0.9h-0.9zM215.9 111.7h0.9v0.9h-0.9zM217.7 108.3h0.9v0.9h-0.9zM216.3 111.6h0.9v0.9h-0.9zM216.8 111.5h0.9v0.9h-0.9zM218.0 109.9h0.9v0.9h-0.9z" fill="#94e43c"/>
<path d="M214.4 108.4h0.9v0.9h-0.9zM214.2 110.1h0.9v0.9h-0.9zM214.7 111.0h0.9v0.9h-0.9zM214.2 108.8h0.9v0.9h-0.9zM215.7 111.6h0.9v0.9h-0.9zM215.1 107.8h0.9v0.9h-0.9zM218.0 109.3h0.9v0.9h-0.9zM214.6 108.2h0.9v0.9h-0.9zM215.4 107.7h0.9v0.9h-0.9zM217.5 108.3h0.9v0.9h-0.9zM216.6 107.7h0.9v0.9h-0.9zM214.2 108.9h0.9v0.9h-0.9zM217.4 108.2h0.9v0.9h-0.9zM214.2 109.9h0.9v0.9h-0.9zM214.3 110.0h0.9v0.9h-0.9z" fill="#9ce434"/>
<path d="M215.0 111.2h0.9v0.9h-0.9zM216.9 111.2h0.9v0.9h-0.9zM217.5 110.7h0.9v0.9h-0.9zM215.9 111.5h0.9v0.9h-0.9zM214.8 108.1h0.9v0.9h-0.9zM216.5 111.4h0.9v0.9h-0.9zM216.6 111.4h0.9v0.9h-0.9zM215.2 107.9h0.9v0.9h-0.9zM217.9 109.2h0.9v0.9h-0.9zM217.9 109.5h0.9v0.9h-0.9zM217.7 108.6h0.9v0.9h-0.9zM217.3 110.9h0.9v0.9h-0.9zM216.1 107.7h0.9v0.9h-0.9zM215.0 111.1h0.9v0.9h-0.9zM214.6 110.6h0.9v0.9h-0.9zM215.9 111.5h0.9v0.9h-0.9zM214.6 108.3h0.9v0.9h-0.9zM217.7 108.8h0.9v0.9h-0.9z" fill="#a4e434"/>
<path d="M215.7 111.4h0.9v0.9h-0.9zM217.5 110.6h0.9v0.9h-0.9zM215.5 107.8h0.9v0.9h-0.9zM216.6 107.9h0.9v0.9h-0.9zM217.7 110.1h0.9v0.9h-0.9zM217.8 109.0h0.9v0.9h-0.9zM217.3 110.7h0.9v0.9h-0.9zM214.4 108.8h0.9v0.9h-0.9zM216.8 108.0h0.9v0.9h-0.9zM214.3 109.7h0.9v0.9h-0.9zM216.0 111.4h0.9v0.9h-0.9zM214.5 108.6h0.9v0.9h-0.9zM214.4 109.1h0.9v0.9h-0.9zM217.1 108.2h0.9v0.9h-0.9zM217.4 108.3h0.9v0.9h-0.9zM214.4 109.6h0.9v0.9h-0.9zM217.6 108.6h0.9v0.9h-0.9zM215.1 108.0h0.9v0.9h-0.9zM215.2 111.2h0.9v0.9h-0.9zM216.3 107.9h0.9v0.9h-0.9zM216.4 107.9h0.9v0.9h-0.9z" fill="#ace434"/>
<path d="M214.4 109.3h0.9v0.9h-0.9zM217.2 110.7h0.9v0.9h-0.9zM215.0 108.1h0.9v0.9h-0.9zM216.5 108.0h0.9v0.9h-0.9zM217.3 110.6h0.9v0.9h-0.9zM214.8 108.5h0.9v0.9h-0.9z" fill="#b4e42c"/>
<path d="M214.5 109.3h0.9v0.9h-0.9zM216.8 111.0h0.9v0.9h-0.9zM216.1 108.0h0.9v0.9h-0.9zM214.8 110.4h0.9v0.9h-0.9zM217.3 110.5h0.9v0.9h-0.9zM214.6 109.9h0.9v0.9h-0.9zM214.8 108.6h0.9v0.9h-0.9zM216.2 108.0h0.9v0.9h-0.9zM216.2 111.2h0.9v0.9h-0.9zM217.1 108.4h0.9v0.9h-0.9zM214.9 108.5h0.9v0.9h-0.9zM215.3 108.2h0.9v0.9h-0.9zM214.6 109.1h0.9v0.9h-0.9zM215.0 110.6h0.9v0.9h-0.9z" fill="#bce42c"/>
<path d="M215.3 110.9h0.9v0.9h-0.9zM215.4 110.9h0.9v0.9h-0.9zM217.5 109.9h0.9v0.9h-0.9zM216.1 111.1h0.9v0.9h-0.9zM216.2 111.1h0.9v0.9h-0.9zM215.6 111.0h0.9v0.9h-0.9zM217.4 109.0h0.9v0.9h-0.9zM214.7 109.8h0.9v0.9h-0.9zM217.1 108.5h0.9v0.9h-0.9zM216.1 108.1h0.9v0.9h-0.9zM215.0 110.5h0.9v0.9h-0.9zM215.0 110.5h0.9v0.9h-0.9zM217.0 108.5h0.9v0.9h-0.9zM217.2 110.3h0.9v0.9h-0.9zM216.9 110.7h0.9v0.9h-0.9z" fill="#c4e42c"/>
<path d="M214.8 110.1h0.9v0.9h-0.9zM217.0 108.5h0.9v0.9h-0.9zM214.7 109.6h0.9v0.9h-0.9zM216.1 108.2h0.9v0.9h-0.9z" fill="#cce424"/>
<path d="M214.9 108.7h0.9v0.9h-0.9zM214.9 110.1h0.9v0.9h-0.9zM215.1 110.5h0.9v0.9h-0.9zM216.3 108.2h0.9v0.9h-0.9zM215.1 108.5h0.9v0.9h-0.9zM216.7 108.4h0.9v0.9h-0.9zM216.9 108.5h0.9v0.9h-0.9zM217.4 109.3h0.9v0.9h-0.9zM215.9 110.9h0.9v0.9h-0.9zM214.9 109.8h0.9v0.9h-0.9zM217.3 109.9h0.9v0.9h-0.9zM216.9 110.4h0.9v0.9h-0.9z" fill="#ccdc24"/>
<path d="M214.9 109.0h0.9v0.9h-0.9zM214.9 109.8h0.9v0.9h-0.9z" fill="#ccd424"/>
<path d="M217.2 109.0h0.9v0.9h-0.9zM217.1 110.1h0.9v0.9h-0.9zM217.0 108.8h0.9v0.9h-0.9zM215.6 110.7h0.9v0.9h-0.9zM215.1 110.2h0.9v0.9h-0.9zM216.0 110.8h0.9v0.9h-0.9zM215.3 110.4h0.9v0.9h-0.9zM216.7 108.5h0.9v0.9h-0.9zM216.0 110.7h0.9v0.9h-0.9zM217.2 109.7h0.9v0.9h-0.9zM215.3 108.7h0.9v0.9h-0.9zM215.0 109.1h0.9v0.9h-0.9zM217.0 108.9h0.9v0.9h-0.9zM216.2 108.4h0.9v0.9h-0.9zM215.2 108.8h0.9v0.9h-0.9z" fill="#d4d424"/>
<path d="M216.0 110.7h0.9v0.9h-0.9zM216.9 110.2h0.9v0.9h-0.9zM215.2 109.0h0.9v0.9h-0.9zM216.3 108.5h0.9v0.9h-0.9zM217.1 109.2h0.9v0.9h-0.9zM216.5 108.6h0.9v0.9h-0.9z" fill="#d4cc24"/>
<path d="M215.3 110.1h0.9v0.9h-0.9zM217.0 109.8h0.9v0.9h-0.9zM217.0 109.6h0.9v0.9h-0.9zM215.6 108.7h0.9v0.9h-0.9zM217.0 109.5h0.9v0.9h-0.9zM215.6 110.4h0.9v0.9h-0.9zM216.7 110.3h0.9v0.9h-0.9zM217.0 109.5h0.9v0.9h-0.9zM215.2 109.4h0.9v0.9h-0.9zM215.8 110.4h0.9v0.9h-0.9zM215.8 110.4h0.9v0.9h-0.9zM217.0 109.5h0.9v0.9h-0.9z" fill="#dccc24"/>
<path d="M216.9 109.1h0.9v0.9h-0.9zM215.5 110.3h0.9v0.9h-0.9zM217.0 109.7h0.9v0.9h-0.9zM216.9 109.8h0.9v0.9h-0.9zM216.9 109.2h0.9v0.9h-0.9zM215.3 109.5h0.9v0.9h-0.9z" fill="#dcc424"/>
<path d="M216.7 109.0h0.9v0.9h-0.9zM215.4 109.7h0.9v0.9h-0.9zM215.5 109.9h0.9v0.9h-0.9zM215.7 110.1h0.9v0.9h-0.9zM216.8 109.4h0.9v0.9h-0.9z" fill="#e4c424"/>
<path d="M215.4 109.5h0.9v0.9h-0.9zM216.6 110.0h0.9v0.9h-0.9zM216.5 109.0h0.9v0.9h-0.9zM215.7 109.0h0.9v0.9h-0.9zM215.6 109.1h0.9v0.9h-0.9zM216.5 110.1h0.9v0.9h-0.9zM216.7 109.8h0.9v0.9h-0.9zM216.2 110.2h0.9v0.9h-0.9zM216.6 109.1h0.9v0.9h-0.9zM216.6 109.9h0.9v0.9h-0.9zM215.5 109.7h0.9v0.9h-0.9zM216.6 109.9h0.9v0.9h-0.9zM216.4 110.1h0.9v0.9h-0.9zM216.3 109.0h0.9v0.9h-0.9zM216.5 109.1h0.9v0.9h-0.9zM215.7 110.0h0.9v0.9h-0.9zM215.8 110.0h0.9v0.9h-0.9zM216.1 110.1h0.9v0.9h-0.9zM216.0 109.0h0.9v0.9h-0.9z" fill="#e4bc24"/>
<path d="M216.4 110.0h0.9v0.9h-0.9zM216.0 110.0h0.9v0.9h-0.9zM216.4 109.9h0.9v0.9h-0.9zM216.6 109.6h0.9v0.9h-0.9zM215.9 109.1h0.9v0.9h-0.9zM216.4 109.2h0.9v0.9h-0.9zM215.7 109.6h0.9v0.9h-0.9zM216.5 109.4h0.9v0.9h-0.9zM215.9 109.1h0.9v0.9h-0.9z" fill="#ecbc24"/>
<path d="M216.0 109.9h0.9v0.9h-0.9zM216.5 109.6h0.9v0.9h-0.9zM216.4 109.7h0.9v0.9h-0.9zM216.1 109.9h0.9v0.9h-0.9zM215.8 109.5h0.9v0.9h-0.9zM216.2 109.3h0.9v0.9h-0.9zM216.0 109.7h0.9v0.9h-0.9z" fill="#ecb424"/>
<path d="M216.1 109.6h0.9v0.9h-0.9z" fill="#ecb41c"/>
<circle cx="216.6" cy="56.6" r="0.4" stroke="none" stroke-width="0" fill="#5555ff"/>
<circle cx="214.5" cy="75.5" r="0.4" stroke="none" stroke-width="0" fill="#5555ff"/>
<text x="167.5" y="48.4" font-size="8.6" fill="#ff4747" textLength="20.3" lengthAdjust="spacingAndGlyphs">0.76%</text>
<text x="229" y="127.9" font-size="8.6" fill="#ff4747" textLength="24" lengthAdjust="spacingAndGlyphs">87.18%</text>
<text x="164" y="48.6" font-size="8.4" transform="rotate(-90 164 48.6)">10<tspan font-size="5.4" dy="-3">7.7</tspan></text>
<text x="164" y="86.5" font-size="8.4" transform="rotate(-90 164 86.5)">10<tspan font-size="5.4" dy="-3">5</tspan></text>
<text x="164" y="137.5" font-size="8.4" transform="rotate(-90 164 137.5)">10<tspan font-size="5.4" dy="-3">1.6</tspan></text>
<text x="161" y="144.2" font-size="8.4">10<tspan font-size="5.4" dy="-3">3</tspan></text>
<text x="201.4" y="144.2" font-size="8.4">10<tspan font-size="5.4" dy="-3">4</tspan></text>
<text x="248" y="144.2" font-size="8.4">10<tspan font-size="5.4" dy="-3">7.2</tspan></text>
<text x="146.4" y="112" font-size="8" textLength="66" lengthAdjust="spacingAndGlyphs" transform="rotate(-90 146.4 112)">hCD20 PE-Cy7-H</text>
<text x="197.2" y="158.3" font-size="8" textLength="49.7" lengthAdjust="spacingAndGlyphs">hCD3 FITC-H</text>
<path d="M143.6 114.4L143.6 156L186.6 156" stroke="#000" stroke-width="1" fill="none"/>
<path d="M143.6 111.4l-1.8 4.2h3.6z" stroke="#000" stroke-width="0" fill="#000"/>
<path d="M189.6 156l-4.2 -1.8v3.6z" stroke="#000" stroke-width="0" fill="#000"/>
<text x="311.3" y="8.7" font-size="12.5">B</text>
<line x1="357.2" y1="19.5" x2="357.2" y2="139.2" stroke="#000" stroke-width="1.1"/>
<line x1="353.2" y1="139.2" x2="357.2" y2="139.2" stroke="#000" stroke-width="1.1"/>
<text x="346.8" y="143.4" font-size="9.7" text-anchor="end">0</text>
<line x1="353.2" y1="109.27" x2="357.2" y2="109.27" stroke="#000" stroke-width="1.1"/>
<text x="346.8" y="113.47" font-size="9.7" text-anchor="end">20</text>
<line x1="353.2" y1="79.35" x2="357.2" y2="79.35" stroke="#000" stroke-width="1.1"/>
<text x="346.8" y="83.55" font-size="9.7" text-anchor="end">40</text>
<line x1="353.2" y1="49.42" x2="357.2" y2="49.42" stroke="#000" stroke-width="1.1"/>
<text x="346.8" y="53.62" font-size="9.7" text-anchor="end">60</text>
<line x1="353.2" y1="19.5" x2="357.2" y2="19.5" stroke="#000" stroke-width="1.1"/>
<text x="346.8" y="23.7" font-size="9.7" text-anchor="end">80</text>
<path d="M370.3 139.2V95.2H394.2V139.2" stroke="#2b2bff" stroke-width="1.1" fill="none"/>
<path d="M407.4 139.2V66.2H430.7V139.2" stroke="#ff2b2b" stroke-width="1.1" fill="none"/>
<path d="M382.2 90.3V100M376.9 90.3H387.5M376.9 100H387.5" stroke="#2b2bff" stroke-width="1" fill="none" stroke-opacity="0.7"/>
<path d="M418.8 56V76.3M413 56H424.6M413 76.3H424.6" stroke="#ff2b2b" stroke-width="1" fill="none" stroke-opacity="0.7"/>
<circle cx="382.2" cy="63.4" r="2" stroke="#2b2bff" stroke-width="1.5" fill="#dcdcff"/>
<circle cx="382.2" cy="80.8" r="2" stroke="#2b2bff" stroke-width="1.5" fill="#dcdcff"/>
<circle cx="373.8" cy="95.6" r="2" stroke="#2b2bff" stroke-width="1.5" fill="#dcdcff"/>
<circle cx="373.8" cy="100.5" r="2" stroke="#2b2bff" stroke-width="1.5" fill="#dcdcff"/>
<circle cx="382.2" cy="98.8" r="2" stroke="#2b2bff" stroke-width="1.5" fill="#dcdcff"/>
<circle cx="382.2" cy="104.1" r="2" stroke="#2b2bff" stroke-width="1.5" fill="#dcdcff"/>
<circle cx="390.7" cy="96.2" r="2" stroke="#2b2bff" stroke-width="1.5" fill="#dcdcff"/>
<circle cx="390.7" cy="101.5" r="2" stroke="#2b2bff" stroke-width="1.5" fill="#dcdcff"/>
<circle cx="382.2" cy="113.6" r="2" stroke="#2b2bff" stroke-width="1.5" fill="#dcdcff"/>
<circle cx="418.9" cy="32.7" r="2" stroke="#ff2b2b" stroke-width="1.5" fill="#ffdcdc"/>
<circle cx="414.6" cy="42.2" r="2" stroke="#ff2b2b" stroke-width="1.5" fill="#ffdcdc"/>
<circle cx="423.1" cy="41.2" r="2" stroke="#ff2b2b" stroke-width="1.5" fill="#ffdcdc"/>
<circle cx="418.9" cy="47.5" r="2" stroke="#ff2b2b" stroke-width="1.5" fill="#ffdcdc"/>
<circle cx="418.9" cy="53.5" r="2" stroke="#ff2b2b" stroke-width="1.5" fill="#ffdcdc"/>
<circle cx="418.9" cy="72.3" r="2" stroke="#ff2b2b" stroke-width="1.5" fill="#ffdcdc"/>
<circle cx="418.9" cy="77.6" r="2" stroke="#ff2b2b" stroke-width="1.5" fill="#ffdcdc"/>
<circle cx="418.9" cy="109.4" r="2" stroke="#ff2b2b" stroke-width="1.5" fill="#ffdcdc"/>
<circle cx="418.9" cy="117" r="2" stroke="#ff2b2b" stroke-width="1.5" fill="#ffdcdc"/>
<line x1="357.2" y1="139.2" x2="443.8" y2="139.2" stroke="#000" stroke-width="1.1"/>
<line x1="382.2" y1="139.2" x2="382.2" y2="142.2" stroke="#000" stroke-width="1.1"/>
<line x1="418.9" y1="139.2" x2="418.9" y2="142.2" stroke="#000" stroke-width="1.1"/>
<text x="319.3" y="78.3" font-size="10" text-anchor="middle" textLength="97" lengthAdjust="spacingAndGlyphs" transform="rotate(-90 319.3 78.3)">Proportion of immune</text>
<text x="331.2" y="78.3" font-size="10" text-anchor="middle" textLength="76" lengthAdjust="spacingAndGlyphs" transform="rotate(-90 331.2 78.3)">cells (%) in blood</text>
<text x="382" y="157.6" font-size="10" text-anchor="middle" textLength="29.5" lengthAdjust="spacingAndGlyphs">hCD45</text>
<text x="418.8" y="157.6" font-size="10" text-anchor="middle" textLength="33" lengthAdjust="spacingAndGlyphs">mCD45</text>
<text x="485.8" y="8.9" font-size="12.5">C</text>
<line x1="527.6" y1="19.9" x2="527.6" y2="139.1" stroke="#000" stroke-width="1.1"/>
<line x1="523.3" y1="139.1" x2="527.6" y2="139.1" stroke="#000" stroke-width="1.1"/>
<text x="516.7" y="143.3" font-size="9.7" text-anchor="end">0</text>
<line x1="523.3" y1="109.3" x2="527.6" y2="109.3" stroke="#000" stroke-width="1.1"/>
<text x="516.7" y="113.5" font-size="9.7" text-anchor="end">20</text>
<line x1="523.3" y1="79.5" x2="527.6" y2="79.5" stroke="#000" stroke-width="1.1"/>
<text x="516.7" y="83.7" font-size="9.7" text-anchor="end">40</text>
<line x1="523.3" y1="49.7" x2="527.6" y2="49.7" stroke="#000" stroke-width="1.1"/>
<text x="516.7" y="53.9" font-size="9.7" text-anchor="end">60</text>
<line x1="523.3" y1="19.9" x2="527.6" y2="19.9" stroke="#000" stroke-width="1.1"/>
<text x="516.7" y="24.1" font-size="9.7" text-anchor="end">80</text>
<path d="M540.5 139.1V80.3H564.4V139.1" stroke="#ff2b2b" stroke-width="1.1" fill="none"/>
<path d="M552.4 72V88.1M546.2 72H558.6M546.2 88.1H558.6" stroke="#ff2b2b" stroke-width="1" fill="none" stroke-opacity="0.7"/>
<circle cx="552.4" cy="31.8" r="2" stroke="#ff2b2b" stroke-width="1.5" fill="#ffdcdc"/>
<circle cx="552.4" cy="46" r="2" stroke="#ff2b2b" stroke-width="1.5" fill="#ffdcdc"/>
<circle cx="552.4" cy="78.6" r="2" stroke="#ff2b2b" stroke-width="1.5" fill="#ffdcdc"/>
<circle cx="552.4" cy="84.8" r="2" stroke="#ff2b2b" stroke-width="1.5" fill="#ffdcdc"/>
<circle cx="542" cy="92.6" r="2" stroke="#ff2b2b" stroke-width="1.5" fill="#ffdcdc"/>
<circle cx="549.1" cy="94.2" r="2" stroke="#ff2b2b" stroke-width="1.5" fill="#ffdcdc"/>
<circle cx="556.2" cy="95.7" r="2" stroke="#ff2b2b" stroke-width="1.5" fill="#ffdcdc"/>
<circle cx="563" cy="93.3" r="2" stroke="#ff2b2b" stroke-width="1.5" fill="#ffdcdc"/>
<circle cx="552.4" cy="101.8" r="2" stroke="#ff2b2b" stroke-width="1.5" fill="#ffdcdc"/>
<line x1="527.6" y1="139.1" x2="578.3" y2="139.1" stroke="#000" stroke-width="1.1"/>
<line x1="552.4" y1="139.1" x2="552.4" y2="142.1" stroke="#000" stroke-width="1.1"/>
<text x="488.4" y="79.2" font-size="10.3" text-anchor="middle" textLength="76.5" lengthAdjust="spacingAndGlyphs" transform="rotate(-90 488.4 79.2)">Engraftment rate</text>
<text x="500.4" y="79.2" font-size="10.1" text-anchor="middle" textLength="54.5" lengthAdjust="spacingAndGlyphs" transform="rotate(-90 500.4 79.2)">(%) in blood</text>
<text x="552.5" y="156.4" font-size="10.1" text-anchor="middle" textLength="55.6" lengthAdjust="spacingAndGlyphs">Engraftment</text>
<text x="552.4" y="170.4" font-size="10.1" text-anchor="middle" textLength="16.7" lengthAdjust="spacingAndGlyphs">rate</text>
<text x="1" y="184.8" font-size="12.5">D</text>
<line x1="51.6" y1="191.4" x2="51.6" y2="281.3" stroke="#000" stroke-width="1.1"/>
<line x1="51.6" y1="288.6" x2="51.6" y2="311" stroke="#000" stroke-width="1.1"/>
<line x1="47.3" y1="191.4" x2="51.6" y2="191.4" stroke="#000" stroke-width="1.1"/>
<text x="41.1" y="195.4" font-size="9.7" text-anchor="end">100</text>
<line x1="47.3" y1="221.37" x2="51.6" y2="221.37" stroke="#000" stroke-width="1.1"/>
<text x="41.1" y="225.37" font-size="9.7" text-anchor="end">80</text>
<line x1="47.3" y1="251.33" x2="51.6" y2="251.33" stroke="#000" stroke-width="1.1"/>
<text x="41.1" y="255.33" font-size="9.7" text-anchor="end">60</text>
<line x1="49.2" y1="281.3" x2="53.5" y2="281.3" stroke="#000" stroke-width="1.1"/>
<text x="41.1" y="286.1" font-size="9.7" text-anchor="end">40</text>
<line x1="49.2" y1="288.6" x2="53.5" y2="288.6" stroke="#000" stroke-width="1.1"/>
<text x="41.1" y="294" font-size="9.7" text-anchor="end">5</text>
<line x1="47.3" y1="311" x2="51.6" y2="311" stroke="#000" stroke-width="1.1"/>
<text x="41.1" y="315.6" font-size="9.7" text-anchor="end">0</text>
<path d="M64.5 281.3V219.3H88.7V281.3" stroke="#2b2bff" stroke-width="1.1" fill="none"/>
<path d="M64.5 288.6V311M88.7 288.6V311" stroke="#2b2bff" stroke-width="1.1" fill="none"/>
<path d="M101.6 311V307.6H125.6V311" stroke="#ff2b2b" stroke-width="1" fill="none"/>
<path d="M76.4 213.4V223.5M69.8 213.4H83M69.8 223.5H83" stroke="#2b2bff" stroke-width="1" fill="none" stroke-opacity="0.7"/>
<circle cx="65.5" cy="208.6" r="2" stroke="#2b2bff" stroke-width="1.5" fill="#dcdcff"/>
<circle cx="76.4" cy="204.5" r="2" stroke="#2b2bff" stroke-width="1.5" fill="#dcdcff"/>
<circle cx="70.6" cy="211.4" r="2" stroke="#2b2bff" stroke-width="1.5" fill="#dcdcff"/>
<circle cx="76.4" cy="211.4" r="2" stroke="#2b2bff" stroke-width="1.5" fill="#dcdcff"/>
<circle cx="81.9" cy="211.4" r="2" stroke="#2b2bff" stroke-width="1.5" fill="#dcdcff"/>
<circle cx="87.2" cy="211.4" r="2" stroke="#2b2bff" stroke-width="1.5" fill="#dcdcff"/>
<circle cx="76.4" cy="219.4" r="2" stroke="#2b2bff" stroke-width="1.5" fill="#dcdcff"/>
<circle cx="73.5" cy="245.4" r="2" stroke="#2b2bff" stroke-width="1.5" fill="#dcdcff"/>
<circle cx="78.8" cy="243.5" r="2" stroke="#2b2bff" stroke-width="1.5" fill="#dcdcff"/>
<circle cx="114" cy="300.9" r="2" stroke="#ff2b2b" stroke-width="1.5" fill="#ffdcdc"/>
<circle cx="103.4" cy="308.4" r="2" stroke="#ff2b2b" stroke-width="1.5" fill="#ffdcdc"/>
<circle cx="106.5" cy="305.9" r="2" stroke="#ff2b2b" stroke-width="1.5" fill="#ffdcdc"/>
<circle cx="109.3" cy="308" r="2" stroke="#ff2b2b" stroke-width="1.5" fill="#ffdcdc"/>
<circle cx="112.6" cy="307" r="2" stroke="#ff2b2b" stroke-width="1.5" fill="#ffdcdc"/>
<circle cx="115.5" cy="308.4" r="2" stroke="#ff2b2b" stroke-width="1.5" fill="#ffdcdc"/>
<circle cx="118.5" cy="307" r="2" stroke="#ff2b2b" stroke-width="1.5" fill="#ffdcdc"/>
<circle cx="121.5" cy="308.4" r="2" stroke="#ff2b2b" stroke-width="1.5" fill="#ffdcdc"/>
<circle cx="124.8" cy="308" r="2" stroke="#ff2b2b" stroke-width="1.5" fill="#ffdcdc"/>
<line x1="51.6" y1="311" x2="139.3" y2="311" stroke="#000" stroke-width="1.1"/>
<line x1="76.4" y1="311" x2="76.4" y2="314" stroke="#000" stroke-width="1.1"/>
<line x1="113.7" y1="311" x2="113.7" y2="314" stroke="#000" stroke-width="1.1"/>
<text x="10.9" y="250.8" font-size="10.3" text-anchor="middle" textLength="70" lengthAdjust="spacingAndGlyphs" transform="rotate(-90 10.9 250.8)">Immune cells in</text>
<text x="22.3" y="250.7" font-size="9.9" text-anchor="middle" transform="rotate(-90 22.3 250.7)" textLength="53" lengthAdjust="spacingAndGlyphs">hCD45<tspan font-size="7.6" dy="-4">+</tspan><tspan dy="4"> (%)</tspan></text>
<text x="76.3" y="330.2" font-size="10" text-anchor="middle" textLength="24.8" lengthAdjust="spacingAndGlyphs">hCD3</text>
<text x="114.7" y="330.2" font-size="10" text-anchor="middle" textLength="30.8" lengthAdjust="spacingAndGlyphs">hCD20</text>
<text x="165.8" y="184.8" font-size="12.5">E</text>
<line x1="216.5" y1="190.6" x2="216.5" y2="310.1" stroke="#000" stroke-width="1.1"/>
<line x1="212.5" y1="310.1" x2="216.5" y2="310.1" stroke="#000" stroke-width="1.1"/>
<text x="205.7" y="314.3" font-size="9.7" text-anchor="end">0</text>
<line x1="212.5" y1="286.2" x2="216.5" y2="286.2" stroke="#000" stroke-width="1.1"/>
<text x="205.7" y="290.4" font-size="9.7" text-anchor="end">20</text>
<line x1="212.5" y1="262.3" x2="216.5" y2="262.3" stroke="#000" stroke-width="1.1"/>
<text x="205.7" y="266.5" font-size="9.7" text-anchor="end">40</text>
<line x1="212.5" y1="238.4" x2="216.5" y2="238.4" stroke="#000" stroke-width="1.1"/>
<text x="205.7" y="242.6" font-size="9.7" text-anchor="end">60</text>
<line x1="212.5" y1="214.5" x2="216.5" y2="214.5" stroke="#000" stroke-width="1.1"/>
<text x="205.7" y="218.7" font-size="9.7" text-anchor="end">80</text>
<line x1="212.5" y1="190.6" x2="216.5" y2="190.6" stroke="#000" stroke-width="1.1"/>
<text x="205.7" y="194.8" font-size="9.7" text-anchor="end">100</text>
<path d="M229.3 310.1V212.4H253.4V310.1" stroke="#2b2bff" stroke-width="1.1" fill="none"/>
<path d="M266.7 310.1V297.1H291.2V310.1" stroke="#ff2b2b" stroke-width="1.1" fill="none"/>
<path d="M241.4 208.5V215.5M236.4 208.5H246.4M236.4 215.5H246.4" stroke="#2b2bff" stroke-width="1" fill="none" stroke-opacity="0.7"/>
<path d="M278.7 294.5V299.5M273.7 294.5H283.7M273.7 299.5H283.7" stroke="#ff2b2b" stroke-width="1" fill="none" stroke-opacity="0.7"/>
<circle cx="231" cy="207.8" r="2" stroke="#2b2bff" stroke-width="1.5" fill="#dcdcff"/>
<circle cx="236.6" cy="204.4" r="2" stroke="#2b2bff" stroke-width="1.5" fill="#dcdcff"/>
<circle cx="241.9" cy="206.6" r="2" stroke="#2b2bff" stroke-width="1.5" fill="#dcdcff"/>
<circle cx="246.7" cy="205.4" r="2" stroke="#2b2bff" stroke-width="1.5" fill="#dcdcff"/>
<circle cx="252" cy="207.3" r="2" stroke="#2b2bff" stroke-width="1.5" fill="#dcdcff"/>
<circle cx="239" cy="213.3" r="2" stroke="#2b2bff" stroke-width="1.5" fill="#dcdcff"/>
<circle cx="244.3" cy="212.1" r="2" stroke="#2b2bff" stroke-width="1.5" fill="#dcdcff"/>
<circle cx="239" cy="225.4" r="2" stroke="#2b2bff" stroke-width="1.5" fill="#dcdcff"/>
<circle cx="244.3" cy="223.5" r="2" stroke="#2b2bff" stroke-width="1.5" fill="#dcdcff"/>
<circle cx="276.8" cy="289.2" r="2" stroke="#ff2b2b" stroke-width="1.5" fill="#ffdcdc"/>
<circle cx="280.9" cy="287.5" r="2" stroke="#ff2b2b" stroke-width="1.5" fill="#ffdcdc"/>
<circle cx="268.4" cy="300.7" r="2" stroke="#ff2b2b" stroke-width="1.5" fill="#ffdcdc"/>
<circle cx="272.7" cy="297.1" r="2" stroke="#ff2b2b" stroke-width="1.5" fill="#ffdcdc"/>
<circle cx="277.3" cy="299.3" r="2" stroke="#ff2b2b" stroke-width="1.5" fill="#ffdcdc"/>
<circle cx="281.6" cy="297.1" r="2" stroke="#ff2b2b" stroke-width="1.5" fill="#ffdcdc"/>
<circle cx="285.7" cy="301.2" r="2" stroke="#ff2b2b" stroke-width="1.5" fill="#ffdcdc"/>
<circle cx="289.5" cy="298.1" r="2" stroke="#ff2b2b" stroke-width="1.5" fill="#ffdcdc"/>
<line x1="216.5" y1="310.1" x2="304.5" y2="310.1" stroke="#000" stroke-width="1.1"/>
<line x1="241.4" y1="310.1" x2="241.4" y2="313.1" stroke="#000" stroke-width="1.1"/>
<line x1="278.7" y1="310.1" x2="278.7" y2="313.1" stroke="#000" stroke-width="1.1"/>
<text x="174.6" y="250.6" font-size="10" text-anchor="middle" transform="rotate(-90 174.6 250.6)" textLength="101" lengthAdjust="spacingAndGlyphs">CD4<tspan font-size="7.6" dy="-4">+</tspan><tspan dy="4"> and CD8</tspan><tspan font-size="7.6" dy="-4">+</tspan><tspan dy="4"> (%) in</tspan></text>
<text x="187.9" y="250.0" font-size="10" text-anchor="middle" transform="rotate(-90 187.9 250.0)" textLength="83" lengthAdjust="spacingAndGlyphs">hCD3<tspan font-size="7.6" dy="-4">+</tspan><tspan dy="4">hCD45</tspan><tspan font-size="7.6" dy="-4">+</tspan><tspan dy="4"> (%)</tspan></text>
<text x="241.7" y="329" font-size="10" text-anchor="middle" textLength="25.3" lengthAdjust="spacingAndGlyphs">hCD4</text>
<text x="279.3" y="329" font-size="10" text-anchor="middle" textLength="25.3" lengthAdjust="spacingAndGlyphs">hCD8</text>
<text x="314.8" y="185.4" font-size="12.5">F</text>
<g><path d="M368.3 243.6C373 244.8 377.6 247 377.2 250C376.7 253 368 252.6 351 251.3" fill="none" stroke="#d9a7a2" stroke-width="1.3"/><path d="M328.6 236.6C329.5 235 331.5 233.4 334 232.8C336 231.5 338.2 230.6 340.5 230.9C342.5 231.2 344 232.2 346 232.1C352 231.3 358.5 231.6 362.8 234C366.8 236.4 369.3 240.6 368.9 244.2C367.5 246.3 363 247 357 246.9C351 246.9 345 246.4 339.5 245.6C336 245 333.5 243.2 332 241C330.8 239.5 329.3 238.2 328.6 236.6Z" fill="#e9e6e4" stroke="#cfcac6" stroke-width="0.5"/><path d="M355 241C359 237.3 364.2 237.6 367.8 240.4C369.1 243 368.7 245.3 366 246.5C362 247.2 357 247 352.5 246.6C353.3 244.6 354 242.6 355 241Z" fill="#d9d4d0"/><path d="M340 246C343 243.5 349 243.5 353 245.5L352 246.8C348 246.9 343.5 246.6 340 246Z" fill="#dcd7d3"/><ellipse cx="340.2" cy="231.3" rx="1.6" ry="1.2" fill="#dedad7" stroke="#cfcac6" stroke-width="0.3"/><ellipse cx="342.7" cy="234.7" rx="1.9" ry="2.5" fill="#e1b2b0"/><circle cx="335.2" cy="235.7" r="0.7" fill="#c25a5a"/><path d="M334.8 248.3C336.5 246.2 339.8 245.5 343.3 246.1L342.9 248.7C340 249.1 337 249.1 334.8 248.3Z" fill="#e2b0a9"/><path d="M357.8 248.6C359.5 246.6 363 246.2 366.2 246.8L365.6 249.2C362.5 249.6 360 249.5 357.8 248.6Z" fill="#e2b0a9"/><path d="M329 235.5L325.5 233.8M329 236.2L325.2 236.5" stroke="#e0dcd9" stroke-width="0.3"/></g>
<text x="352.6" y="265" font-size="9.5" text-anchor="middle" textLength="67.8" lengthAdjust="spacingAndGlyphs">WT-NOG mouse</text>
<line x1="400.3" y1="242.3" x2="611.5" y2="242.3" stroke="#000" stroke-width="2.2"/>
<path d="M617.4 242.3L610.6 239.4V245.2Z" stroke="#000" stroke-width="0" fill="#000"/>
<line x1="408.8" y1="233" x2="408.8" y2="250.6" stroke="#000" stroke-width="1.7"/>
<circle cx="408.8" cy="242.2" r="3.9" stroke="none" stroke-width="0" fill="#6f2da8"/>
<text x="408.8" y="229" font-size="9.5" text-anchor="middle" textLength="16.5" lengthAdjust="spacingAndGlyphs">W-2</text>
<line x1="408.8" y1="266.3" x2="408.8" y2="255.5" stroke="#000" stroke-width="1.6"/>
<path d="M408.8 252.6l-2.0 4.0h4.0z" stroke="#000" stroke-width="0" fill="#000"/>
<line x1="468.8" y1="233" x2="468.8" y2="250.6" stroke="#000" stroke-width="1.7"/>
<circle cx="468.8" cy="242.2" r="3.9" stroke="none" stroke-width="0" fill="#f5b400"/>
<text x="468.8" y="229" font-size="9.5" text-anchor="middle" textLength="11.2" lengthAdjust="spacingAndGlyphs">D0</text>
<line x1="468.8" y1="266.3" x2="468.8" y2="255.5" stroke="#000" stroke-width="1.6"/>
<path d="M468.8 252.6l-2.0 4.0h4.0z" stroke="#000" stroke-width="0" fill="#000"/>
<line x1="510.4" y1="233" x2="510.4" y2="250.6" stroke="#000" stroke-width="1.7"/>
<circle cx="510.4" cy="242.2" r="3.9" stroke="none" stroke-width="0" fill="#000"/>
<text x="510.4" y="229" font-size="9.5" text-anchor="middle" textLength="10.8" lengthAdjust="spacingAndGlyphs">D7</text>
<line x1="510.4" y1="266.3" x2="510.4" y2="255.5" stroke="#000" stroke-width="1.6"/>
<path d="M510.4 252.6l-2.0 4.0h4.0z" stroke="#000" stroke-width="0" fill="#000"/>
<line x1="602.9" y1="233" x2="602.9" y2="250.6" stroke="#000" stroke-width="1.7"/>
<circle cx="602.9" cy="242.2" r="3.9" stroke="none" stroke-width="0" fill="#ff0000"/>
<text x="602.9" y="229" font-size="9.5" text-anchor="middle" textLength="15.1" lengthAdjust="spacingAndGlyphs">D21</text>
<line x1="602.9" y1="266.3" x2="602.9" y2="255.5" stroke="#000" stroke-width="1.6"/>
<path d="M602.9 252.6l-2.0 4.0h4.0z" stroke="#000" stroke-width="0" fill="#000"/>
<text x="409.2" y="275.6" font-size="9.5" text-anchor="middle" textLength="43.5" lengthAdjust="spacingAndGlyphs">PBMC inj.</text>
<text x="469.5" y="276.4" font-size="9.5" text-anchor="middle" textLength="42.3" lengthAdjust="spacingAndGlyphs">Bleomycin</text>
<text x="469" y="288" font-size="9.5" text-anchor="middle" textLength="40.6" lengthAdjust="spacingAndGlyphs">inhalation</text>
<text x="558.1" y="263.2" font-size="9.5" text-anchor="middle" textLength="20.6" lengthAdjust="spacingAndGlyphs">Drug</text>
<text x="558.1" y="275.2" font-size="9.5" text-anchor="middle" textLength="19" lengthAdjust="spacingAndGlyphs">treat</text>
<text x="604" y="276.8" font-size="9.5" text-anchor="middle" textLength="48.8" lengthAdjust="spacingAndGlyphs">Termination</text>
<line x1="516" y1="253.2" x2="516" y2="264" stroke="#1fb25a" stroke-width="1.6"/>
<line x1="516" y1="258.6" x2="534.9" y2="258.6" stroke="#1fb25a" stroke-width="1.6"/>
<line x1="598.5" y1="253.2" x2="598.5" y2="265" stroke="#1fb25a" stroke-width="1.6"/>
<line x1="579.9" y1="258.8" x2="598.5" y2="258.8" stroke="#1fb25a" stroke-width="1.6"/>
<text x="3.6" y="353" font-size="12.5">G</text>
<line x1="47.2" y1="363.3" x2="47.2" y2="479.9" stroke="#000" stroke-width="1.1"/>
<line x1="43.9" y1="479.9" x2="47.2" y2="479.9" stroke="#000" stroke-width="1.1"/>
<text x="38.9" y="484.1" font-size="9.6" text-anchor="end">0</text>
<line x1="43.9" y1="460.47" x2="47.2" y2="460.47" stroke="#000" stroke-width="1.1"/>
<text x="38.9" y="464.67" font-size="9.6" text-anchor="end">20</text>
<line x1="43.9" y1="441.04" x2="47.2" y2="441.04" stroke="#000" stroke-width="1.1"/>
<text x="38.9" y="445.24" font-size="9.6" text-anchor="end">40</text>
<line x1="43.9" y1="421.6" x2="47.2" y2="421.6" stroke="#000" stroke-width="1.1"/>
<text x="38.9" y="425.8" font-size="9.6" text-anchor="end">60</text>
<line x1="43.9" y1="402.17" x2="47.2" y2="402.17" stroke="#000" stroke-width="1.1"/>
<text x="38.9" y="406.37" font-size="9.6" text-anchor="end">80</text>
<line x1="43.9" y1="382.73" x2="47.2" y2="382.73" stroke="#000" stroke-width="1.1"/>
<text x="38.9" y="386.93" font-size="9.6" text-anchor="end">100</text>
<line x1="43.9" y1="363.3" x2="47.2" y2="363.3" stroke="#000" stroke-width="1.1"/>
<text x="38.9" y="367.5" font-size="9.6" text-anchor="end">120</text>
<line x1="47.2" y1="479.9" x2="222" y2="479.9" stroke="#000" stroke-width="1.1"/>
<line x1="47" y1="479.9" x2="47" y2="482.9" stroke="#000" stroke-width="1.1"/>
<line x1="71.87" y1="479.9" x2="71.87" y2="482.9" stroke="#000" stroke-width="1.1"/>
<line x1="96.74" y1="479.9" x2="96.74" y2="482.9" stroke="#000" stroke-width="1.1"/>
<line x1="121.61" y1="479.9" x2="121.61" y2="482.9" stroke="#000" stroke-width="1.1"/>
<line x1="146.48" y1="479.9" x2="146.48" y2="482.9" stroke="#000" stroke-width="1.1"/>
<line x1="171.35" y1="479.9" x2="171.35" y2="482.9" stroke="#000" stroke-width="1.1"/>
<line x1="196.22" y1="479.9" x2="196.22" y2="482.9" stroke="#000" stroke-width="1.1"/>
<line x1="221.09" y1="479.9" x2="221.09" y2="482.9" stroke="#000" stroke-width="1.1"/>
<text x="47" y="493.1" font-size="9.6" text-anchor="middle">0</text>
<text x="71.87" y="493.1" font-size="9.6" text-anchor="middle">3</text>
<text x="96.74" y="493.1" font-size="9.6" text-anchor="middle">6</text>
<text x="121.61" y="493.1" font-size="9.6" text-anchor="middle">9</text>
<text x="146.48" y="493.1" font-size="9.6" text-anchor="middle">12</text>
<text x="171.35" y="493.1" font-size="9.6" text-anchor="middle">15</text>
<text x="196.22" y="493.1" font-size="9.6" text-anchor="middle">18</text>
<text x="221.09" y="493.1" font-size="9.6" text-anchor="middle">21</text>
<text x="133.6" y="503.8" font-size="9.8" text-anchor="middle" textLength="22" lengthAdjust="spacingAndGlyphs">Days</text>
<text x="17" y="422.5" font-size="10" text-anchor="middle" textLength="75" lengthAdjust="spacingAndGlyphs" transform="rotate(-90 17 422.5)">Body weight (%)</text>
<path d="M47 383.1L55.29 384.5L63.58 385.6L71.87 388L80.16 389.8L88.45 392.2L96.74 394.7L105.03 397L113.32 395.6L121.61 397.2L129.9 398.9L138.19 398.3L146.48 398.5L154.77 396.8L163.06 398.3L171.35 398L179.64 398L187.93 397.6L196.22 399.4L204.51 399.8L212.8 398.9L221.09 399.8" stroke="#ff2b2b" stroke-width="1.1" fill="none"/>
<path d="M121.61 394.2V400.2M119.41 394.2H123.81M119.41 400.2H123.81" stroke="#ff2b2b" stroke-width="1.1" fill="none"/>
<path d="M129.9 395.9V401.9M127.7 395.9H132.1M127.7 401.9H132.1" stroke="#ff2b2b" stroke-width="1.1" fill="none"/>
<path d="M138.19 395.3V401.3M135.99 395.3H140.39M135.99 401.3H140.39" stroke="#ff2b2b" stroke-width="1.1" fill="none"/>
<path d="M146.48 394.5V402.5M144.28 394.5H148.68M144.28 402.5H148.68" stroke="#ff2b2b" stroke-width="1.1" fill="none"/>
<path d="M154.77 391.8V401.8M152.57 391.8H156.97M152.57 401.8H156.97" stroke="#ff2b2b" stroke-width="1.1" fill="none"/>
<path d="M163.06 393.3V403.3M160.86 393.3H165.26M160.86 403.3H165.26" stroke="#ff2b2b" stroke-width="1.1" fill="none"/>
<path d="M171.35 393V403M169.15 393H173.55M169.15 403H173.55" stroke="#ff2b2b" stroke-width="1.1" fill="none"/>
<path d="M179.64 393V403M177.44 393H181.84M177.44 403H181.84" stroke="#ff2b2b" stroke-width="1.1" fill="none"/>
<path d="M187.93 392.6V402.6M185.73 392.6H190.13M185.73 402.6H190.13" stroke="#ff2b2b" stroke-width="1.1" fill="none"/>
<path d="M196.22 394.4V404.4M194.02 394.4H198.42M194.02 404.4H198.42" stroke="#ff2b2b" stroke-width="1.1" fill="none"/>
<path d="M204.51 394.8V404.8M202.31 394.8H206.71M202.31 404.8H206.71" stroke="#ff2b2b" stroke-width="1.1" fill="none"/>
<path d="M212.8 393.9V403.9M210.6 393.9H215M210.6 403.9H215" stroke="#ff2b2b" stroke-width="1.1" fill="none"/>
<path d="M221.09 394.8V404.8M218.89 394.8H223.29M218.89 404.8H223.29" stroke="#ff2b2b" stroke-width="1.1" fill="none"/>
<circle cx="47" cy="383.1" r="2.3" stroke="#ff2b2b" stroke-width="1.2" fill="#f5b8b8"/>
<circle cx="55.29" cy="384.5" r="2.3" stroke="#ff2b2b" stroke-width="1.2" fill="#f5b8b8"/>
<circle cx="63.58" cy="385.6" r="2.3" stroke="#ff2b2b" stroke-width="1.2" fill="#f5b8b8"/>
<circle cx="71.87" cy="388" r="2.3" stroke="#ff2b2b" stroke-width="1.2" fill="#f5b8b8"/>
<circle cx="80.16" cy="389.8" r="2.3" stroke="#ff2b2b" stroke-width="1.2" fill="#f5b8b8"/>
<circle cx="88.45" cy="392.2" r="2.3" stroke="#ff2b2b" stroke-width="1.2" fill="#f5b8b8"/>
<circle cx="96.74" cy="394.7" r="2.3" stroke="#ff2b2b" stroke-width="1.2" fill="#f5b8b8"/>
<circle cx="105.03" cy="397" r="2.3" stroke="#ff2b2b" stroke-width="1.2" fill="#f5b8b8"/>
<circle cx="113.32" cy="395.6" r="2.3" stroke="#ff2b2b" stroke-width="1.2" fill="#f5b8b8"/>
<circle cx="121.61" cy="397.2" r="2.3" stroke="#ff2b2b" stroke-width="1.2" fill="#f5b8b8"/>
<circle cx="129.9" cy="398.9" r="2.3" stroke="#ff2b2b" stroke-width="1.2" fill="#f5b8b8"/>
<circle cx="138.19" cy="398.3" r="2.3" stroke="#ff2b2b" stroke-width="1.2" fill="#f5b8b8"/>
<circle cx="146.48" cy="398.5" r="2.3" stroke="#ff2b2b" stroke-width="1.2" fill="#f5b8b8"/>
<circle cx="154.77" cy="396.8" r="2.3" stroke="#ff2b2b" stroke-width="1.2" fill="#f5b8b8"/>
<circle cx="163.06" cy="398.3" r="2.3" stroke="#ff2b2b" stroke-width="1.2" fill="#f5b8b8"/>
<circle cx="171.35" cy="398" r="2.3" stroke="#ff2b2b" stroke-width="1.2" fill="#f5b8b8"/>
<circle cx="179.64" cy="398" r="2.3" stroke="#ff2b2b" stroke-width="1.2" fill="#f5b8b8"/>
<circle cx="187.93" cy="397.6" r="2.3" stroke="#ff2b2b" stroke-width="1.2" fill="#f5b8b8"/>
<circle cx="196.22" cy="399.4" r="2.3" stroke="#ff2b2b" stroke-width="1.2" fill="#f5b8b8"/>
<circle cx="204.51" cy="399.8" r="2.3" stroke="#ff2b2b" stroke-width="1.2" fill="#f5b8b8"/>
<circle cx="212.8" cy="398.9" r="2.3" stroke="#ff2b2b" stroke-width="1.2" fill="#f5b8b8"/>
<circle cx="221.09" cy="399.8" r="2.3" stroke="#ff2b2b" stroke-width="1.2" fill="#f5b8b8"/>
<path d="M47 383.1L55.29 385L63.58 386.9L71.87 386.9L80.16 386.5L88.45 390.7L96.74 392.2L105.03 396.6L113.32 396.4L121.61 399.4L129.9 401.1L138.19 401.1L146.48 403.7L154.77 402.2L163.06 403.7L171.35 403.2L179.64 403.7L187.93 406.2L196.22 406.4L204.51 406.4L212.8 407.5L221.09 408.4" stroke="#2b2bff" stroke-width="1.1" fill="none"/>
<path d="M96.74 390.2V394.2M94.54 390.2H98.94M94.54 394.2H98.94" stroke="#2b2bff" stroke-width="1.1" fill="none"/>
<path d="M105.03 394.6V398.6M102.83 394.6H107.23M102.83 398.6H107.23" stroke="#2b2bff" stroke-width="1.1" fill="none"/>
<path d="M113.32 393.9V398.9M111.12 393.9H115.52M111.12 398.9H115.52" stroke="#2b2bff" stroke-width="1.1" fill="none"/>
<path d="M121.61 395.4V403.4M119.41 395.4H123.81M119.41 403.4H123.81" stroke="#2b2bff" stroke-width="1.1" fill="none"/>
<path d="M129.9 396.1V406.1M127.7 396.1H132.1M127.7 406.1H132.1" stroke="#2b2bff" stroke-width="1.1" fill="none"/>
<path d="M138.19 396.1V406.1M135.99 396.1H140.39M135.99 406.1H140.39" stroke="#2b2bff" stroke-width="1.1" fill="none"/>
<path d="M146.48 397.7V409.7M144.28 397.7H148.68M144.28 409.7H148.68" stroke="#2b2bff" stroke-width="1.1" fill="none"/>
<path d="M154.77 395.2V409.2M152.57 395.2H156.97M152.57 409.2H156.97" stroke="#2b2bff" stroke-width="1.1" fill="none"/>
<path d="M163.06 395.7V411.7M160.86 395.7H165.26M160.86 411.7H165.26" stroke="#2b2bff" stroke-width="1.1" fill="none"/>
<path d="M171.35 394.2V412.2M169.15 394.2H173.55M169.15 412.2H173.55" stroke="#2b2bff" stroke-width="1.1" fill="none"/>
<path d="M179.64 393.7V413.7M177.44 393.7H181.84M177.44 413.7H181.84" stroke="#2b2bff" stroke-width="1.1" fill="none"/>
<path d="M187.93 398.2V414.2M185.73 398.2H190.13M185.73 414.2H190.13" stroke="#2b2bff" stroke-width="1.1" fill="none"/>
<path d="M196.22 397.9V414.9M194.02 397.9H198.42M194.02 414.9H198.42" stroke="#2b2bff" stroke-width="1.1" fill="none"/>
<path d="M204.51 397.9V414.9M202.31 397.9H206.71M202.31 414.9H206.71" stroke="#2b2bff" stroke-width="1.1" fill="none"/>
<path d="M212.8 399.5V415.5M210.6 399.5H215M210.6 415.5H215" stroke="#2b2bff" stroke-width="1.1" fill="none"/>
<path d="M221.09 400.9V415.9M218.89 400.9H223.29M218.89 415.9H223.29" stroke="#2b2bff" stroke-width="1.1" fill="none"/>
<circle cx="47" cy="383.1" r="2.3" stroke="#2b2bff" stroke-width="1.2" fill="#c6d4fb"/>
<circle cx="55.29" cy="385" r="2.3" stroke="#2b2bff" stroke-width="1.2" fill="#c6d4fb"/>
<circle cx="63.58" cy="386.9" r="2.3" stroke="#2b2bff" stroke-width="1.2" fill="#c6d4fb"/>
<circle cx="71.87" cy="386.9" r="2.3" stroke="#2b2bff" stroke-width="1.2" fill="#c6d4fb"/>
<circle cx="80.16" cy="386.5" r="2.3" stroke="#2b2bff" stroke-width="1.2" fill="#c6d4fb"/>
<circle cx="88.45" cy="390.7" r="2.3" stroke="#2b2bff" stroke-width="1.2" fill="#c6d4fb"/>
<circle cx="96.74" cy="392.2" r="2.3" stroke="#2b2bff" stroke-width="1.2" fill="#c6d4fb"/>
<circle cx="105.03" cy="396.6" r="2.3" stroke="#2b2bff" stroke-width="1.2" fill="#c6d4fb"/>
<circle cx="113.32" cy="396.4" r="2.3" stroke="#2b2bff" stroke-width="1.2" fill="#c6d4fb"/>
<circle cx="121.61" cy="399.4" r="2.3" stroke="#2b2bff" stroke-width="1.2" fill="#c6d4fb"/>
<circle cx="129.9" cy="401.1" r="2.3" stroke="#2b2bff" stroke-width="1.2" fill="#c6d4fb"/>
<circle cx="138.19" cy="401.1" r="2.3" stroke="#2b2bff" stroke-width="1.2" fill="#c6d4fb"/>
<circle cx="146.48" cy="403.7" r="2.3" stroke="#2b2bff" stroke-width="1.2" fill="#c6d4fb"/>
<circle cx="154.77" cy="402.2" r="2.3" stroke="#2b2bff" stroke-width="1.2" fill="#c6d4fb"/>
<circle cx="163.06" cy="403.7" r="2.3" stroke="#2b2bff" stroke-width="1.2" fill="#c6d4fb"/>
<circle cx="171.35" cy="403.2" r="2.3" stroke="#2b2bff" stroke-width="1.2" fill="#c6d4fb"/>
<circle cx="179.64" cy="403.7" r="2.3" stroke="#2b2bff" stroke-width="1.2" fill="#c6d4fb"/>
<circle cx="187.93" cy="406.2" r="2.3" stroke="#2b2bff" stroke-width="1.2" fill="#c6d4fb"/>
<circle cx="196.22" cy="406.4" r="2.3" stroke="#2b2bff" stroke-width="1.2" fill="#c6d4fb"/>
<circle cx="204.51" cy="406.4" r="2.3" stroke="#2b2bff" stroke-width="1.2" fill="#c6d4fb"/>
<circle cx="212.8" cy="407.5" r="2.3" stroke="#2b2bff" stroke-width="1.2" fill="#c6d4fb"/>
<circle cx="221.09" cy="408.4" r="2.3" stroke="#2b2bff" stroke-width="1.2" fill="#c6d4fb"/>
<path d="M47 383.1L55.29 380.4L63.58 380.2L71.87 378.7L80.16 376.6L88.45 377.9L96.74 375.4L105.03 377L113.32 376.2L121.61 377.9L129.9 377.5L138.19 377.3L146.48 377.9L154.77 376.4L163.06 380.7L171.35 382.2L179.64 383.9L187.93 384.8L196.22 387.6L204.51 389.7L212.8 389.1L221.09 388.6" stroke="#000" stroke-width="1.1" fill="none"/>
<path d="M96.74 372.4V378.4M94.54 372.4H98.94M94.54 378.4H98.94" stroke="#000" stroke-width="1.1" fill="none"/>
<path d="M105.03 373.5V380.5M102.83 373.5H107.23M102.83 380.5H107.23" stroke="#000" stroke-width="1.1" fill="none"/>
<path d="M113.32 373.2V379.2M111.12 373.2H115.52M111.12 379.2H115.52" stroke="#000" stroke-width="1.1" fill="none"/>
<path d="M121.61 374.4V381.4M119.41 374.4H123.81M119.41 381.4H123.81" stroke="#000" stroke-width="1.1" fill="none"/>
<path d="M129.9 373.5V381.5M127.7 373.5H132.1M127.7 381.5H132.1" stroke="#000" stroke-width="1.1" fill="none"/>
<path d="M138.19 373.8V380.8M135.99 373.8H140.39M135.99 380.8H140.39" stroke="#000" stroke-width="1.1" fill="none"/>
<path d="M146.48 373.9V381.9M144.28 373.9H148.68M144.28 381.9H148.68" stroke="#000" stroke-width="1.1" fill="none"/>
<path d="M154.77 371.9V380.9M152.57 371.9H156.97M152.57 380.9H156.97" stroke="#000" stroke-width="1.1" fill="none"/>
<path d="M163.06 377.2V384.2M160.86 377.2H165.26M160.86 384.2H165.26" stroke="#000" stroke-width="1.1" fill="none"/>
<path d="M171.35 378.7V385.7M169.15 378.7H173.55M169.15 385.7H173.55" stroke="#000" stroke-width="1.1" fill="none"/>
<path d="M179.64 380.9V386.9M177.44 380.9H181.84M177.44 386.9H181.84" stroke="#000" stroke-width="1.1" fill="none"/>
<path d="M187.93 381.8V387.8M185.73 381.8H190.13M185.73 387.8H190.13" stroke="#000" stroke-width="1.1" fill="none"/>
<path d="M196.22 385.6V389.6M194.02 385.6H198.42M194.02 389.6H198.42" stroke="#000" stroke-width="1.1" fill="none"/>
<path d="M204.51 387.7V391.7M202.31 387.7H206.71M202.31 391.7H206.71" stroke="#000" stroke-width="1.1" fill="none"/>
<path d="M212.8 386.1V392.1M210.6 386.1H215M210.6 392.1H215" stroke="#000" stroke-width="1.1" fill="none"/>
<path d="M221.09 385.6V391.6M218.89 385.6H223.29M218.89 391.6H223.29" stroke="#000" stroke-width="1.1" fill="none"/>
<circle cx="47" cy="383.1" r="2.3" stroke="#000" stroke-width="1.2" fill="#c8c8c8"/>
<circle cx="55.29" cy="380.4" r="2.3" stroke="#000" stroke-width="1.2" fill="#c8c8c8"/>
<circle cx="63.58" cy="380.2" r="2.3" stroke="#000" stroke-width="1.2" fill="#c8c8c8"/>
<circle cx="71.87" cy="378.7" r="2.3" stroke="#000" stroke-width="1.2" fill="#c8c8c8"/>
<circle cx="80.16" cy="376.6" r="2.3" stroke="#000" stroke-width="1.2" fill="#c8c8c8"/>
<circle cx="88.45" cy="377.9" r="2.3" stroke="#000" stroke-width="1.2" fill="#c8c8c8"/>
<circle cx="96.74" cy="375.4" r="2.3" stroke="#000" stroke-width="1.2" fill="#c8c8c8"/>
<circle cx="105.03" cy="377" r="2.3" stroke="#000" stroke-width="1.2" fill="#c8c8c8"/>
<circle cx="113.32" cy="376.2" r="2.3" stroke="#000" stroke-width="1.2" fill="#c8c8c8"/>
<circle cx="121.61" cy="377.9" r="2.3" stroke="#000" stroke-width="1.2" fill="#c8c8c8"/>
<circle cx="129.9" cy="377.5" r="2.3" stroke="#000" stroke-width="1.2" fill="#c8c8c8"/>
<circle cx="138.19" cy="377.3" r="2.3" stroke="#000" stroke-width="1.2" fill="#c8c8c8"/>
<circle cx="146.48" cy="377.9" r="2.3" stroke="#000" stroke-width="1.2" fill="#c8c8c8"/>
<circle cx="154.77" cy="376.4" r="2.3" stroke="#000" stroke-width="1.2" fill="#c8c8c8"/>
<circle cx="163.06" cy="380.7" r="2.3" stroke="#000" stroke-width="1.2" fill="#c8c8c8"/>
<circle cx="171.35" cy="382.2" r="2.3" stroke="#000" stroke-width="1.2" fill="#c8c8c8"/>
<circle cx="179.64" cy="383.9" r="2.3" stroke="#000" stroke-width="1.2" fill="#c8c8c8"/>
<circle cx="187.93" cy="384.8" r="2.3" stroke="#000" stroke-width="1.2" fill="#c8c8c8"/>
<circle cx="196.22" cy="387.6" r="2.3" stroke="#000" stroke-width="1.2" fill="#c8c8c8"/>
<circle cx="204.51" cy="389.7" r="2.3" stroke="#000" stroke-width="1.2" fill="#c8c8c8"/>
<circle cx="212.8" cy="389.1" r="2.3" stroke="#000" stroke-width="1.2" fill="#c8c8c8"/>
<circle cx="221.09" cy="388.6" r="2.3" stroke="#000" stroke-width="1.2" fill="#c8c8c8"/>
<path d="M226.1 388.3H230.3V401.1H226.1" stroke="#000" stroke-width="1.1" fill="none"/>
<path d="M230.9 388.3H238.7V409.2H226.1" stroke="#000" stroke-width="1.1" fill="none"/>
<text x="236" y="394.5" font-size="7" text-anchor="middle" fill="#555" transform="rotate(-90 236 394.5)">#</text>
<text x="245" y="399.1" font-size="7" text-anchor="middle" fill="#555" textLength="6" lengthAdjust="spacingAndGlyphs" transform="rotate(-90 245 399.1)">##</text>
<line x1="59" y1="434" x2="70.7" y2="434" stroke="#000" stroke-width="1.8"/>
<circle cx="64.85" cy="434" r="2.7" stroke="#000" stroke-width="1.6" fill="#c8c8c8"/>
<line x1="59" y1="448.6" x2="70.7" y2="448.6" stroke="#2b2bff" stroke-width="1.8"/>
<circle cx="64.85" cy="448.6" r="2.7" stroke="#2b2bff" stroke-width="1.6" fill="#c8dcff"/>
<line x1="59" y1="463.6" x2="70.7" y2="463.6" stroke="#ff2b2b" stroke-width="1.8"/>
<circle cx="64.85" cy="463.6" r="2.7" stroke="#ff2b2b" stroke-width="1.6" fill="#f7b0b0"/>
<text x="74.3" y="437.6" font-size="9.6" textLength="81.3" lengthAdjust="spacingAndGlyphs">Humanized Control</text>
<text x="74.3" y="452.3" font-size="9.6" textLength="105.6" lengthAdjust="spacingAndGlyphs">Humanized BILF Control</text>
<text x="74.3" y="467.2" font-size="9.6" textLength="119.6" lengthAdjust="spacingAndGlyphs">Humanized BILF Nintedanib</text>
<text x="262.8" y="352.4" font-size="12.5">H</text>
<line x1="309.5" y1="363.2" x2="309.5" y2="478.8" stroke="#000" stroke-width="1.1"/>
<line x1="305.5" y1="478.8" x2="309.5" y2="478.8" stroke="#000" stroke-width="1.1"/>
<text x="302.9" y="483" font-size="9.8" text-anchor="end">0</text>
<line x1="305.5" y1="455.64" x2="309.5" y2="455.64" stroke="#000" stroke-width="1.1"/>
<text x="302.9" y="459.84" font-size="9.8" text-anchor="end">500</text>
<line x1="305.5" y1="432.48" x2="309.5" y2="432.48" stroke="#000" stroke-width="1.1"/>
<text x="302.9" y="436.68" font-size="9.8" text-anchor="end">1000</text>
<line x1="305.5" y1="409.32" x2="309.5" y2="409.32" stroke="#000" stroke-width="1.1"/>
<text x="302.9" y="413.52" font-size="9.8" text-anchor="end">1500</text>
<line x1="305.5" y1="386.16" x2="309.5" y2="386.16" stroke="#000" stroke-width="1.1"/>
<text x="302.9" y="390.36" font-size="9.8" text-anchor="end">2000</text>
<line x1="305.5" y1="363" x2="309.5" y2="363" stroke="#000" stroke-width="1.1"/>
<text x="302.9" y="367.2" font-size="9.8" text-anchor="end">2500</text>
<path d="M322.4 478.8V379.5H345.3V478.8" stroke="#000" stroke-width="1.1" fill="none"/>
<path d="M358.2 478.8V397.2H381.1V478.8" stroke="#2b2bff" stroke-width="1.1" fill="none"/>
<path d="M393.4 478.8V394.4H416.3V478.8" stroke="#ff2b2b" stroke-width="1.1" fill="none"/>
<path d="M333.8 374.6V383M328.8 374.6H338.8M328.8 383H338.8" stroke="#000" stroke-width="1" fill="none" stroke-opacity="0.7"/>
<path d="M369.6 389V404.4M364.2 389H375M364.2 404.4H375" stroke="#2b2bff" stroke-width="1" fill="none" stroke-opacity="0.7"/>
<path d="M404.8 388.1V399.5M399.5 388.1H410.1M399.5 399.5H410.1" stroke="#ff2b2b" stroke-width="1" fill="none" stroke-opacity="0.7"/>
<circle cx="330" cy="376" r="1.75" stroke="#000" stroke-width="1.3" fill="#e2e2e2"/>
<circle cx="337.5" cy="376.8" r="1.75" stroke="#000" stroke-width="1.3" fill="#e2e2e2"/>
<circle cx="334" cy="383.8" r="1.75" stroke="#000" stroke-width="1.3" fill="#e2e2e2"/>
<circle cx="369.6" cy="388.1" r="1.75" stroke="#2b2bff" stroke-width="1.3" fill="#dcdcff"/>
<circle cx="364.5" cy="403" r="1.75" stroke="#2b2bff" stroke-width="1.3" fill="#dcdcff"/>
<circle cx="374.8" cy="399" r="1.75" stroke="#2b2bff" stroke-width="1.3" fill="#dcdcff"/>
<circle cx="401.1" cy="389" r="1.75" stroke="#ff2b2b" stroke-width="1.3" fill="#ffdcdc"/>
<circle cx="408.8" cy="391.8" r="1.75" stroke="#ff2b2b" stroke-width="1.3" fill="#ffdcdc"/>
<circle cx="404.8" cy="400.4" r="1.75" stroke="#ff2b2b" stroke-width="1.3" fill="#ffdcdc"/>
<line x1="309.5" y1="478.8" x2="429.2" y2="478.8" stroke="#000" stroke-width="1.1"/>
<line x1="333.8" y1="478.8" x2="333.8" y2="481.8" stroke="#000" stroke-width="1.1"/>
<line x1="369.6" y1="478.8" x2="369.6" y2="481.8" stroke="#000" stroke-width="1.1"/>
<line x1="404.8" y1="478.8" x2="404.8" y2="481.8" stroke="#000" stroke-width="1.1"/>
<text x="369.6" y="380" font-size="6.5" text-anchor="middle" fill="#555">#</text>
<text x="273.4" y="420" font-size="10.3" text-anchor="middle" textLength="62" lengthAdjust="spacingAndGlyphs" transform="rotate(-90 273.4 420)">BW (%) AUC</text>
<text x="333.8" y="494" font-size="10" text-anchor="middle" textLength="12.6" lengthAdjust="spacingAndGlyphs">G1</text>
<text x="369.6" y="494" font-size="10" text-anchor="middle" textLength="12.6" lengthAdjust="spacingAndGlyphs">G2</text>
<text x="404.8" y="494" font-size="10" text-anchor="middle" textLength="12.6" lengthAdjust="spacingAndGlyphs">G3</text>
<circle cx="469.9" cy="407.1" r="3.5" stroke="#000" stroke-width="1.7" fill="#c8c8c8"/>
<text x="480.8" y="410.8" font-size="10" textLength="100" lengthAdjust="spacingAndGlyphs">G1 Humanized Control</text>
<circle cx="469.9" cy="425.2" r="3.5" stroke="#2b2bff" stroke-width="1.7" fill="#cce0ff"/>
<text x="480.8" y="428.9" font-size="10" textLength="125.3" lengthAdjust="spacingAndGlyphs">G2 Humanized BILF Control</text>
<circle cx="469.9" cy="443.2" r="3.5" stroke="#ff2b2b" stroke-width="1.7" fill="#ffb3b3"/>
<text x="480.8" y="446.9" font-size="10" textLength="139.7" lengthAdjust="spacingAndGlyphs">G3 Humanized BILF Nintedanib</text>
<text x="6.6" y="532.6" font-size="12.5">I</text>
<line x1="49.7" y1="542.3" x2="49.7" y2="658.8" stroke="#000" stroke-width="1.1"/>
<line x1="46.2" y1="658.8" x2="49.7" y2="658.8" stroke="#000" stroke-width="1.1"/>
<text x="42.2" y="661.9" font-size="9.7" text-anchor="end">0</text>
<line x1="46.2" y1="635.5" x2="49.7" y2="635.5" stroke="#000" stroke-width="1.1"/>
<text x="42.2" y="638.6" font-size="9.7" text-anchor="end">20</text>
<line x1="46.2" y1="612.2" x2="49.7" y2="612.2" stroke="#000" stroke-width="1.1"/>
<text x="42.2" y="615.3" font-size="9.7" text-anchor="end">40</text>
<line x1="46.2" y1="588.9" x2="49.7" y2="588.9" stroke="#000" stroke-width="1.1"/>
<text x="42.2" y="592" font-size="9.7" text-anchor="end">60</text>
<line x1="46.2" y1="565.6" x2="49.7" y2="565.6" stroke="#000" stroke-width="1.1"/>
<text x="42.2" y="568.7" font-size="9.7" text-anchor="end">80</text>
<line x1="46.2" y1="542.3" x2="49.7" y2="542.3" stroke="#000" stroke-width="1.1"/>
<text x="42.2" y="545.4" font-size="9.7" text-anchor="end">100</text>
<line x1="49.6" y1="658.8" x2="224.5" y2="658.8" stroke="#000" stroke-width="1.1"/>
<line x1="49.6" y1="658.8" x2="49.6" y2="661.8" stroke="#000" stroke-width="1.1"/>
<line x1="74.44" y1="658.8" x2="74.44" y2="661.8" stroke="#000" stroke-width="1.1"/>
<line x1="99.28" y1="658.8" x2="99.28" y2="661.8" stroke="#000" stroke-width="1.1"/>
<line x1="124.12" y1="658.8" x2="124.12" y2="661.8" stroke="#000" stroke-width="1.1"/>
<line x1="148.96" y1="658.8" x2="148.96" y2="661.8" stroke="#000" stroke-width="1.1"/>
<line x1="173.8" y1="658.8" x2="173.8" y2="661.8" stroke="#000" stroke-width="1.1"/>
<line x1="198.64" y1="658.8" x2="198.64" y2="661.8" stroke="#000" stroke-width="1.1"/>
<line x1="223.48" y1="658.8" x2="223.48" y2="661.8" stroke="#000" stroke-width="1.1"/>
<text x="49.6" y="671" font-size="9.6" text-anchor="middle">0</text>
<text x="74.44" y="671" font-size="9.6" text-anchor="middle">3</text>
<text x="99.28" y="671" font-size="9.6" text-anchor="middle">6</text>
<text x="124.12" y="671" font-size="9.6" text-anchor="middle">9</text>
<text x="148.96" y="671" font-size="9.6" text-anchor="middle">12</text>
<text x="173.8" y="671" font-size="9.6" text-anchor="middle">15</text>
<text x="198.64" y="671" font-size="9.6" text-anchor="middle">18</text>
<text x="223.48" y="671" font-size="9.6" text-anchor="middle">21</text>
<text x="137" y="683" font-size="9.8" text-anchor="middle" textLength="22.5" lengthAdjust="spacingAndGlyphs">Days</text>
<text x="20.2" y="600" font-size="10" text-anchor="middle" textLength="76" lengthAdjust="spacingAndGlyphs" transform="rotate(-90 20.2 600)">Survival rate (%)</text>
<path d="M49.6 542.3L57.88 542.3L66.16 542.3L74.44 542.3L82.72 542.3L91 542.3L99.28 542.3L107.56 542.3L115.84 542.3L124.12 542.3L132.4 542.3L140.68 542.3L148.96 542.3L157.24 542.3L165.52 542.3L173.8 542.3L182.08 542.3L190.36 542.3L198.64 571.42L206.92 571.42L215.2 571.42L223.48 571.42" stroke="#ff2b2b" stroke-width="1.1" fill="none"/>
<circle cx="198.64" cy="571.42" r="2.25" stroke="#ff2b2b" stroke-width="1.2" fill="#fff0f0"/>
<circle cx="206.92" cy="571.42" r="2.25" stroke="#ff2b2b" stroke-width="1.2" fill="#fff0f0"/>
<circle cx="215.2" cy="571.42" r="2.25" stroke="#ff2b2b" stroke-width="1.2" fill="#fff0f0"/>
<circle cx="223.48" cy="571.42" r="2.25" stroke="#ff2b2b" stroke-width="1.2" fill="#fff0f0"/>
<path d="M49.6 542.3L57.88 542.3L66.16 542.3L74.44 542.3L82.72 542.3L91 542.3L99.28 542.3L107.56 542.3L115.84 542.3L124.12 542.3L132.4 542.3L140.68 542.3L148.96 542.3L157.24 571.42L165.52 600.55L173.8 600.55L182.08 600.55L190.36 600.55L198.64 600.55L206.92 600.55L215.2 600.55L223.48 600.55" stroke="#2b2bff" stroke-width="1.1" fill="none"/>
<circle cx="157.24" cy="571.42" r="2.25" stroke="#2b2bff" stroke-width="1.2" fill="#c6d4fb"/>
<circle cx="165.52" cy="600.55" r="2.25" stroke="#2b2bff" stroke-width="1.2" fill="#c6d4fb"/>
<circle cx="173.8" cy="600.55" r="2.25" stroke="#2b2bff" stroke-width="1.2" fill="#c6d4fb"/>
<circle cx="182.08" cy="600.55" r="2.25" stroke="#2b2bff" stroke-width="1.2" fill="#c6d4fb"/>
<circle cx="190.36" cy="600.55" r="2.25" stroke="#2b2bff" stroke-width="1.2" fill="#c6d4fb"/>
<circle cx="198.64" cy="600.55" r="2.25" stroke="#2b2bff" stroke-width="1.2" fill="#c6d4fb"/>
<circle cx="206.92" cy="600.55" r="2.25" stroke="#2b2bff" stroke-width="1.2" fill="#c6d4fb"/>
<circle cx="215.2" cy="600.55" r="2.25" stroke="#2b2bff" stroke-width="1.2" fill="#c6d4fb"/>
<circle cx="223.48" cy="600.55" r="2.25" stroke="#2b2bff" stroke-width="1.2" fill="#c6d4fb"/>
<path d="M49.6 542.3L57.88 542.3L66.16 542.3L74.44 542.3L82.72 542.3L91 542.3L99.28 542.3L107.56 542.3L115.84 542.3L124.12 542.3L132.4 542.3L140.68 542.3L148.96 542.3L157.24 542.3L165.52 542.3L173.8 542.3L182.08 542.3L190.36 542.3L198.64 542.3L206.92 542.3L215.2 542.3L223.48 542.3" stroke="#000" stroke-width="1.5" fill="none"/>
<circle cx="49.6" cy="542.3" r="2.25" stroke="#000" stroke-width="1.2" fill="#c8c8c8"/>
<circle cx="57.88" cy="542.3" r="2.25" stroke="#000" stroke-width="1.2" fill="#c8c8c8"/>
<circle cx="66.16" cy="542.3" r="2.25" stroke="#000" stroke-width="1.2" fill="#c8c8c8"/>
<circle cx="74.44" cy="542.3" r="2.25" stroke="#000" stroke-width="1.2" fill="#c8c8c8"/>
<circle cx="82.72" cy="542.3" r="2.25" stroke="#000" stroke-width="1.2" fill="#c8c8c8"/>
<circle cx="91" cy="542.3" r="2.25" stroke="#000" stroke-width="1.2" fill="#c8c8c8"/>
<circle cx="99.28" cy="542.3" r="2.25" stroke="#000" stroke-width="1.2" fill="#c8c8c8"/>
<circle cx="107.56" cy="542.3" r="2.25" stroke="#000" stroke-width="1.2" fill="#c8c8c8"/>
<circle cx="115.84" cy="542.3" r="2.25" stroke="#000" stroke-width="1.2" fill="#c8c8c8"/>
<circle cx="124.12" cy="542.3" r="2.25" stroke="#000" stroke-width="1.2" fill="#c8c8c8"/>
<circle cx="132.4" cy="542.3" r="2.25" stroke="#000" stroke-width="1.2" fill="#c8c8c8"/>
<circle cx="140.68" cy="542.3" r="2.25" stroke="#000" stroke-width="1.2" fill="#c8c8c8"/>
<circle cx="148.96" cy="542.3" r="2.25" stroke="#000" stroke-width="1.2" fill="#c8c8c8"/>
<circle cx="157.24" cy="542.3" r="2.25" stroke="#000" stroke-width="1.2" fill="#c8c8c8"/>
<circle cx="165.52" cy="542.3" r="2.25" stroke="#000" stroke-width="1.2" fill="#c8c8c8"/>
<circle cx="173.8" cy="542.3" r="2.25" stroke="#000" stroke-width="1.2" fill="#c8c8c8"/>
<circle cx="182.08" cy="542.3" r="2.25" stroke="#000" stroke-width="1.2" fill="#c8c8c8"/>
<circle cx="190.36" cy="542.3" r="2.25" stroke="#000" stroke-width="1.2" fill="#c8c8c8"/>
<circle cx="198.64" cy="542.3" r="2.25" stroke="#000" stroke-width="1.2" fill="#c8c8c8"/>
<circle cx="206.92" cy="542.3" r="2.25" stroke="#000" stroke-width="1.2" fill="#c8c8c8"/>
<circle cx="215.2" cy="542.3" r="2.25" stroke="#000" stroke-width="1.2" fill="#c8c8c8"/>
<circle cx="223.48" cy="542.3" r="2.25" stroke="#000" stroke-width="1.2" fill="#c8c8c8"/>
<path d="M229.2 572.3H233.6V600.5H229.2" stroke="#000" stroke-width="1.1" fill="none"/>
<path d="M229.8 542.5H241.8V600.5H236.4" stroke="#000" stroke-width="1.1" fill="none"/>
<text x="241.2" y="586.5" font-size="9" text-anchor="middle" fill="#555" textLength="8.8" lengthAdjust="spacingAndGlyphs" transform="rotate(-90 241.2 586.5)">**</text>
<text x="248.6" y="571.5" font-size="6.3" text-anchor="middle" fill="#555" textLength="9.3" lengthAdjust="spacingAndGlyphs" transform="rotate(-90 248.6 571.5)">###</text>
<line x1="59" y1="615.7" x2="70.5" y2="615.7" stroke="#000" stroke-width="1.8"/>
<circle cx="64.75" cy="615.7" r="2.7" stroke="#000" stroke-width="1.6" fill="#c8c8c8"/>
<line x1="59" y1="630.4" x2="70.5" y2="630.4" stroke="#2b2bff" stroke-width="1.8"/>
<circle cx="64.75" cy="630.4" r="2.7" stroke="#2b2bff" stroke-width="1.6" fill="#c8dcff"/>
<line x1="59" y1="645.2" x2="70.5" y2="645.2" stroke="#ff2b2b" stroke-width="1.8"/>
<circle cx="64.75" cy="645.2" r="2.7" stroke="#ff2b2b" stroke-width="1.6" fill="#f7b0b0"/>
<text x="74" y="619.3" font-size="9.6" textLength="81.3" lengthAdjust="spacingAndGlyphs">Humanized Control</text>
<text x="74" y="634" font-size="9.6" textLength="105.6" lengthAdjust="spacingAndGlyphs">Humanized BILF Control</text>
<text x="74" y="648.8" font-size="9.6" textLength="119.6" lengthAdjust="spacingAndGlyphs">Humanized BILF Nintedanib</text>
<text x="266.6" y="533.4" font-size="12.5">J</text>
<line x1="309.7" y1="543.1" x2="309.7" y2="659.4" stroke="#000" stroke-width="1.1"/>
<line x1="305.7" y1="659.4" x2="309.7" y2="659.4" stroke="#000" stroke-width="1.1"/>
<text x="302.8" y="663.6" font-size="9.8" text-anchor="end">0</text>
<line x1="305.7" y1="630.32" x2="309.7" y2="630.32" stroke="#000" stroke-width="1.1"/>
<text x="302.8" y="634.52" font-size="9.8" text-anchor="end">20</text>
<line x1="305.7" y1="601.25" x2="309.7" y2="601.25" stroke="#000" stroke-width="1.1"/>
<text x="302.8" y="605.45" font-size="9.8" text-anchor="end">40</text>
<line x1="305.7" y1="572.17" x2="309.7" y2="572.17" stroke="#000" stroke-width="1.1"/>
<text x="302.8" y="576.37" font-size="9.8" text-anchor="end">60</text>
<line x1="305.7" y1="543.1" x2="309.7" y2="543.1" stroke="#000" stroke-width="1.1"/>
<text x="302.8" y="547.3" font-size="9.8" text-anchor="end">80</text>
<path d="M322 659.4V648.3H344.4V659.4" stroke="#000" stroke-width="1.1" fill="none"/>
<path d="M358 659.4V565.4H380.1V659.4" stroke="#2b2bff" stroke-width="1.1" fill="none"/>
<path d="M392.5 659.4V611.1H415.5V659.4" stroke="#ff2b2b" stroke-width="1.1" fill="none"/>
<path d="M332.8 645.2V650.8M328.8 645.2H336.8M328.8 650.8H336.8" stroke="#000" stroke-width="1" fill="none" stroke-opacity="0.7"/>
<path d="M368.8 558.4V571.9M363.4 558.4H374.2M363.4 571.9H374.2" stroke="#2b2bff" stroke-width="1" fill="none" stroke-opacity="0.7"/>
<path d="M403.9 598.4V622.7M398 598.4H409.8M398 622.7H409.8" stroke="#ff2b2b" stroke-width="1" fill="none" stroke-opacity="0.7"/>
<circle cx="329.6" cy="645.7" r="1.85" stroke="#000" stroke-width="1.4" fill="#e2e2e2"/>
<circle cx="337.1" cy="646.5" r="1.85" stroke="#000" stroke-width="1.4" fill="#e2e2e2"/>
<circle cx="329.6" cy="650.5" r="1.85" stroke="#000" stroke-width="1.4" fill="#e2e2e2"/>
<circle cx="368.8" cy="558.4" r="1.85" stroke="#2b2bff" stroke-width="1.4" fill="#dcdcff"/>
<circle cx="368.8" cy="564.1" r="1.85" stroke="#2b2bff" stroke-width="1.4" fill="#dcdcff"/>
<circle cx="368.8" cy="571.9" r="1.85" stroke="#2b2bff" stroke-width="1.4" fill="#dcdcff"/>
<circle cx="403.9" cy="600.5" r="1.85" stroke="#ff2b2b" stroke-width="1.4" fill="#ffdcdc"/>
<circle cx="403.9" cy="607" r="1.85" stroke="#ff2b2b" stroke-width="1.4" fill="#ffdcdc"/>
<circle cx="403.9" cy="624" r="1.85" stroke="#ff2b2b" stroke-width="1.4" fill="#ffdcdc"/>
<line x1="309.7" y1="659.4" x2="427.4" y2="659.4" stroke="#000" stroke-width="1.1"/>
<line x1="332.8" y1="659.4" x2="332.8" y2="662.4" stroke="#000" stroke-width="1.1"/>
<line x1="368.8" y1="659.4" x2="368.8" y2="662.4" stroke="#000" stroke-width="1.1"/>
<line x1="403.9" y1="659.4" x2="403.9" y2="662.4" stroke="#000" stroke-width="1.1"/>
<text x="368.8" y="552.2" font-size="6.2" text-anchor="middle" fill="#555" textLength="9.4" lengthAdjust="spacingAndGlyphs">###</text>
<text x="404.4" y="594.2" font-size="8.5" text-anchor="middle" fill="#555" textLength="8.3" lengthAdjust="spacingAndGlyphs">**</text>
<text x="275.3" y="599.7" font-size="10.2" text-anchor="middle" textLength="73" lengthAdjust="spacingAndGlyphs" transform="rotate(-90 275.3 599.7)">Total BALF cells</text>
<text x="287.6" y="599.0" font-size="10" text-anchor="middle" transform="rotate(-90 287.6 599.0)" textLength="47.3" lengthAdjust="spacingAndGlyphs">(x 10<tspan font-size="7.2" dy="-4">5</tspan><tspan dy="4">/mL)</tspan></text>
<text x="333.3" y="674" font-size="10" text-anchor="middle" textLength="12" lengthAdjust="spacingAndGlyphs">G1</text>
<text x="368.8" y="674" font-size="10" text-anchor="middle" textLength="12" lengthAdjust="spacingAndGlyphs">G2</text>
<text x="404.3" y="674" font-size="10" text-anchor="middle" textLength="12" lengthAdjust="spacingAndGlyphs">G3</text>
<text x="455.8" y="532.8" font-size="12.5">K</text>
<line x1="504.4" y1="543.4" x2="504.4" y2="660.7" stroke="#000" stroke-width="1.1"/>
<line x1="500.8" y1="660.7" x2="504.4" y2="660.7" stroke="#000" stroke-width="1.1"/>
<text x="490.6" y="664.9" font-size="9.8" text-anchor="end">0</text>
<line x1="500.8" y1="621.6" x2="504.4" y2="621.6" stroke="#000" stroke-width="1.1"/>
<text x="490.6" y="625.8" font-size="9.8" text-anchor="end">2</text>
<line x1="500.8" y1="582.5" x2="504.4" y2="582.5" stroke="#000" stroke-width="1.1"/>
<text x="490.6" y="586.7" font-size="9.8" text-anchor="end">4</text>
<line x1="500.8" y1="543.4" x2="504.4" y2="543.4" stroke="#000" stroke-width="1.1"/>
<text x="490.6" y="547.6" font-size="9.8" text-anchor="end">6</text>
<path d="M517.6 660.7V641.6H541.5V660.7" stroke="#000" stroke-width="1.1" fill="none"/>
<path d="M553.9 660.7V577.7H577.2V660.7" stroke="#2b2bff" stroke-width="1.1" fill="none"/>
<path d="M589.3 660.7V629.2H613.2V660.7" stroke="#ff2b2b" stroke-width="1.1" fill="none"/>
<path d="M529.4 639.8V643.4M525.9 639.8H532.9M525.9 643.4H532.9" stroke="#000" stroke-width="1" fill="none" stroke-opacity="0.7"/>
<path d="M565.4 551V603.3M560.2 551H570.6M560.2 603.3H570.6" stroke="#2b2bff" stroke-width="1" fill="none" stroke-opacity="0.7"/>
<path d="M601.1 612V645.8M595.7 612H606.5M595.7 645.8H606.5" stroke="#ff2b2b" stroke-width="1" fill="none" stroke-opacity="0.7"/>
<circle cx="520.9" cy="642.4" r="1.85" stroke="#000" stroke-width="1.4" fill="#e2e2e2"/>
<circle cx="529.4" cy="640.1" r="1.85" stroke="#000" stroke-width="1.4" fill="#e2e2e2"/>
<circle cx="537.3" cy="642.4" r="1.85" stroke="#000" stroke-width="1.4" fill="#e2e2e2"/>
<circle cx="565.4" cy="551" r="1.85" stroke="#2b2bff" stroke-width="1.4" fill="#dcdcff"/>
<circle cx="565.4" cy="578.2" r="1.85" stroke="#2b2bff" stroke-width="1.4" fill="#dcdcff"/>
<circle cx="565.4" cy="603.3" r="1.85" stroke="#2b2bff" stroke-width="1.4" fill="#dcdcff"/>
<circle cx="597.5" cy="617.4" r="1.85" stroke="#ff2b2b" stroke-width="1.4" fill="#ffdcdc"/>
<circle cx="605.3" cy="620.7" r="1.85" stroke="#ff2b2b" stroke-width="1.4" fill="#ffdcdc"/>
<circle cx="601.1" cy="648" r="1.85" stroke="#ff2b2b" stroke-width="1.4" fill="#ffdcdc"/>
<line x1="504.4" y1="660.7" x2="625" y2="660.7" stroke="#000" stroke-width="1.1"/>
<line x1="529.4" y1="660.7" x2="529.4" y2="663.7" stroke="#000" stroke-width="1.1"/>
<line x1="565.4" y1="660.7" x2="565.4" y2="663.7" stroke="#000" stroke-width="1.1"/>
<line x1="601.1" y1="660.7" x2="601.1" y2="663.7" stroke="#000" stroke-width="1.1"/>
<text x="565.4" y="545" font-size="6.5" text-anchor="middle" fill="#555">#</text>
<text x="601.1" y="607.5" font-size="9" text-anchor="middle" fill="#555">*</text>
<text x="463.7" y="602.3" font-size="10.2" text-anchor="middle" textLength="71.8" lengthAdjust="spacingAndGlyphs" transform="rotate(-90 463.7 602.3)">X fold change in</text>
<text x="476" y="602.3" font-size="10" text-anchor="middle" textLength="102.6" lengthAdjust="spacingAndGlyphs" transform="rotate(-90 476 602.3)">hydroxyproline contents</text>
<text x="529.4" y="679" font-size="10" text-anchor="middle" textLength="12.8" lengthAdjust="spacingAndGlyphs">G1</text>
<text x="565.4" y="679" font-size="10" text-anchor="middle" textLength="12.8" lengthAdjust="spacingAndGlyphs">G2</text>
<text x="601.1" y="679" font-size="10" text-anchor="middle" textLength="12.8" lengthAdjust="spacingAndGlyphs">G3</text>
</svg></div></body></html>
